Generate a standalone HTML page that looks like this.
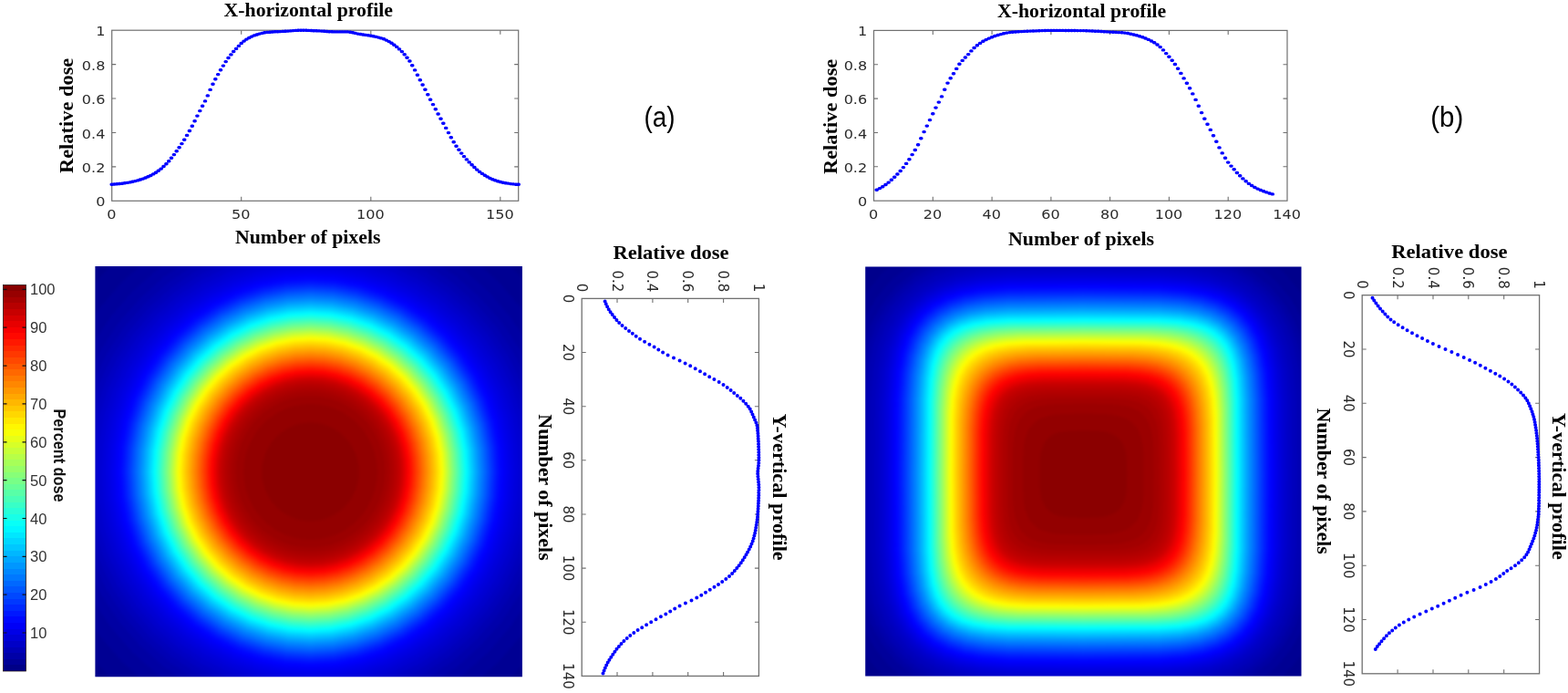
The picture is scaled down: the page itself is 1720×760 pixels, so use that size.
<!DOCTYPE html>
<html lang="en">
<head>
<meta charset="utf-8">
<title>Dose profiles</title>
<style>
html,body{margin:0;padding:0;background:#fff;overflow:hidden}
svg{display:block}
text{white-space:pre}
</style>
</head>
<body>
<svg width="1720" height="760" viewBox="0 0 1720 760">
<rect width="1720" height="760" fill="#fff"/>
<rect x="122.7" y="33.2" width="446" height="187.1" fill="#fff" stroke="#707070" stroke-width="1.2"/>
<path d="M264.7 220.3v-4.5 M264.7 33.2v4.5M406.8 220.3v-4.5 M406.8 33.2v4.5M548.8 220.3v-4.5 M548.8 33.2v4.5M122.7 182.9h4.5 M568.7 182.9h-4.5M122.7 145.5h4.5 M568.7 145.5h-4.5M122.7 108h4.5 M568.7 108h-4.5M122.7 70.6h4.5 M568.7 70.6h-4.5" stroke="#707070" stroke-width="1.1" fill="none"/>
<path d="M122.1 202.2h1.2M124.9 202h1.2M127.8 201.8h1.2M130.6 201.5h1.2M133.5 201.2h1.2M136.3 200.8h1.2M139.1 200.4h1.2M142 199.9h1.2M144.8 199.3h1.2M147.7 198.6h1.2M150.5 197.9h1.2M153.3 197h1.2M156.2 196.1h1.2M159 195h1.2M161.9 193.8h1.2M164.7 192.5h1.2M167.6 190.9h1.2M170.4 189.2h1.2M173.2 187.2h1.2M176.1 185.1h1.2M178.9 182.5h1.2M181.8 179.7h1.2M184.6 176.7h1.2M187.4 173.2h1.2M190.3 169.6h1.2M193.1 165.8h1.2M196 161.8h1.2M198.8 157.6h1.2M201.6 153.2h1.2M204.5 148.4h1.2M207.3 143.5h1.2M210.2 138.3h1.2M213 132.7h1.2M215.8 127.1h1.2M218.7 121.6h1.2M221.5 116.3h1.2M224.4 110.9h1.2M227.2 104.9h1.2M230 98.4h1.2M232.9 92.2h1.2M235.7 86.7h1.2M238.6 81.6h1.2M241.4 76.8h1.2M244.3 72.1h1.2M247.1 67.6h1.2M249.9 63.5h1.2M252.8 59.9h1.2M255.6 56.5h1.2M258.5 53.4h1.2M261.3 50.4h1.2M264.1 47.5h1.2M267 45.1h1.2M269.8 43.1h1.2M272.7 41.5h1.2M275.5 40.1h1.2M278.3 38.9h1.2M281.2 38h1.2M284 37.1h1.2M286.9 36.4h1.2M289.7 35.8h1.2M292.5 35.4h1.2M295.4 35.2h1.2M298.2 35h1.2M301.1 34.8h1.2M303.9 34.7h1.2M306.7 34.6h1.2M309.6 34.4h1.2M312.4 34.3h1.2M315.3 34.1h1.2M318.1 33.9h1.2M321 33.6h1.2M323.8 33.4h1.2M326.6 33.3h1.2M329.5 33.2h1.2M332.3 33.2h1.2M335.2 33.3h1.2M338 33.4h1.2M340.8 33.5h1.2M343.7 33.7h1.2M346.5 33.8h1.2M349.4 33.9h1.2M352.2 34.1h1.2M355 34.3h1.2M357.9 34.5h1.2M360.7 34.7h1.2M363.6 34.8h1.2M366.4 34.9h1.2M369.2 34.9h1.2M372.1 34.9h1.2M374.9 34.9h1.2M377.8 34.9h1.2M380.6 34.9h1.2M383.5 35.2h1.2M386.3 35.8h1.2M389.1 36.4h1.2M392 37.1h1.2M394.8 37.5h1.2M397.7 38h1.2M400.5 38.4h1.2M403.3 38.8h1.2M406.2 39.3h1.2M409 39.8h1.2M411.9 40.4h1.2M414.7 41.1h1.2M417.5 41.9h1.2M420.4 42.8h1.2M423.2 44.1h1.2M426.1 45.6h1.2M428.9 47.3h1.2M431.7 49.3h1.2M434.6 51.4h1.2M437.4 53.9h1.2M440.3 56.6h1.2M443.1 59.7h1.2M445.9 63.2h1.2M448.8 67h1.2M451.6 71.7h1.2M454.5 76.9h1.2M457.3 82.3h1.2M460.2 87.7h1.2M463 93h1.2M465.8 98.3h1.2M468.7 103.8h1.2M471.5 109.2h1.2M474.4 114.6h1.2M477.2 119.8h1.2M480 125h1.2M482.9 130.2h1.2M485.7 135.3h1.2M488.6 140.4h1.2M491.4 145.6h1.2M494.2 150.8h1.2M497.1 155.7h1.2M499.9 160.3h1.2M502.8 164.3h1.2M505.6 168.1h1.2M508.4 171.6h1.2M511.3 174.9h1.2M514.1 177.9h1.2M517 180.8h1.2M519.8 183.5h1.2M522.6 186.1h1.2M525.5 188.4h1.2M528.3 190.4h1.2M531.2 192.2h1.2M534 193.9h1.2M536.9 195.5h1.2M539.7 196.7h1.2M542.5 197.8h1.2M545.4 198.7h1.2M548.2 199.5h1.2M551.1 200.2h1.2M553.9 200.7h1.2M556.7 201.1h1.2M559.6 201.6h1.2M562.4 201.9h1.2M565.3 202.2h1.2M568.1 202.3h1.2" stroke="#0000ff" stroke-width="3.4" stroke-linecap="round" fill="none"/>
<g font-family="'DejaVu Sans','Liberation Sans',sans-serif" font-size="14.1" fill="#2a2a2a">
<text transform="translate(122.3 240) scale(1.14 1)" text-anchor="middle">0</text>
<text transform="translate(264.3 240) scale(1.14 1)" text-anchor="middle">50</text>
<text transform="translate(406.4 240) scale(1.14 1)" text-anchor="middle">100</text>
<text transform="translate(548.4 240) scale(1.14 1)" text-anchor="middle">150</text>
<text transform="translate(115.4 226.3) scale(1.14 1)" text-anchor="end">0</text>
<text transform="translate(115.4 188.9) scale(1.14 1)" text-anchor="end">0.2</text>
<text transform="translate(115.4 151.5) scale(1.14 1)" text-anchor="end">0.4</text>
<text transform="translate(115.4 114.1) scale(1.14 1)" text-anchor="end">0.6</text>
<text transform="translate(115.4 76.7) scale(1.14 1)" text-anchor="end">0.8</text>
<text transform="translate(115.4 39.2) scale(1.14 1)" text-anchor="end">1</text>
</g>
<rect x="958.5" y="33.4" width="453.5" height="186.8" fill="#fff" stroke="#707070" stroke-width="1.2"/>
<path d="M1023.3 220.2v-4.5 M1023.3 33.4v4.5M1088.1 220.2v-4.5 M1088.1 33.4v4.5M1152.9 220.2v-4.5 M1152.9 33.4v4.5M1217.6 220.2v-4.5 M1217.6 33.4v4.5M1282.4 220.2v-4.5 M1282.4 33.4v4.5M1347.2 220.2v-4.5 M1347.2 33.4v4.5M958.5 182.8h4.5 M1412 182.8h-4.5M958.5 145.5h4.5 M1412 145.5h-4.5M958.5 108.1h4.5 M1412 108.1h-4.5M958.5 70.8h4.5 M1412 70.8h-4.5" stroke="#707070" stroke-width="1.1" fill="none"/>
<path d="M961.1 208.2h1.2M964.4 206.6h1.2M967.6 204.7h1.2M970.9 202.5h1.2M974.1 200.1h1.2M977.3 197.3h1.2M980.6 194.2h1.2M983.8 191h1.2M987.1 187.5h1.2M990.3 183.6h1.2M993.5 179.4h1.2M996.8 174.7h1.2M1000 169.6h1.2M1003.2 164.5h1.2M1006.5 158.7h1.2M1009.7 151.7h1.2M1013 144.6h1.2M1016.2 138.1h1.2M1019.4 131.6h1.2M1022.7 124.8h1.2M1025.9 118.1h1.2M1029.2 112.1h1.2M1032.4 105.9h1.2M1035.6 98.3h1.2M1038.9 91.1h1.2M1042.1 85.7h1.2M1045.4 80.8h1.2M1048.6 75.4h1.2M1051.8 70.3h1.2M1055.1 66.4h1.2M1058.3 63h1.2M1061.6 59.6h1.2M1064.8 55.9h1.2M1068 52.5h1.2M1071.3 49.8h1.2M1074.5 47.4h1.2M1077.8 45.3h1.2M1081 43.6h1.2M1084.2 42.1h1.2M1087.5 40.7h1.2M1090.7 39.5h1.2M1094 38.5h1.2M1097.2 37.6h1.2M1100.4 36.7h1.2M1103.7 36.1h1.2M1106.9 35.6h1.2M1110.1 35.3h1.2M1113.4 35h1.2M1116.6 34.8h1.2M1119.9 34.6h1.2M1123.1 34.4h1.2M1126.3 34.3h1.2M1129.6 34.1h1.2M1132.8 34h1.2M1136.1 33.9h1.2M1139.3 33.7h1.2M1142.5 33.6h1.2M1145.8 33.5h1.2M1149 33.4h1.2M1152.3 33.4h1.2M1155.5 33.4h1.2M1158.7 33.4h1.2M1162 33.4h1.2M1165.2 33.4h1.2M1168.5 33.5h1.2M1171.7 33.5h1.2M1174.9 33.5h1.2M1178.2 33.5h1.2M1181.4 33.6h1.2M1184.7 33.6h1.2M1187.9 33.6h1.2M1191.1 33.7h1.2M1194.4 33.9h1.2M1197.6 34h1.2M1200.8 34.2h1.2M1204.1 34.3h1.2M1207.3 34.5h1.2M1210.6 34.7h1.2M1213.8 34.9h1.2M1217 35.1h1.2M1220.3 35.2h1.2M1223.5 35.4h1.2M1226.8 35.6h1.2M1230 35.8h1.2M1233.2 36.1h1.2M1236.5 36.5h1.2M1239.7 37.2h1.2M1243 38h1.2M1246.2 38.8h1.2M1249.4 39.8h1.2M1252.7 40.8h1.2M1255.9 42h1.2M1259.2 43.4h1.2M1262.4 45h1.2M1265.6 46.8h1.2M1268.9 49h1.2M1272.1 51.6h1.2M1275.4 54.9h1.2M1278.6 58.6h1.2M1281.8 62.3h1.2M1285.1 66.2h1.2M1288.3 70.5h1.2M1291.5 75.2h1.2M1294.8 80.4h1.2M1298 85.9h1.2M1301.3 91.3h1.2M1304.5 96.8h1.2M1307.7 102.9h1.2M1311 109.4h1.2M1314.2 116.3h1.2M1317.5 123.6h1.2M1320.7 130.2h1.2M1323.9 136.2h1.2M1327.2 142.4h1.2M1330.4 148.8h1.2M1333.7 155.3h1.2M1336.9 161.9h1.2M1340.1 167.9h1.2M1343.4 173.3h1.2M1346.6 178.1h1.2M1349.9 182.1h1.2M1353.1 185.8h1.2M1356.3 189.5h1.2M1359.6 192.8h1.2M1362.8 195.9h1.2M1366.1 198.8h1.2M1369.3 201.4h1.2M1372.5 203.5h1.2M1375.8 205.5h1.2M1379 207.1h1.2M1382.2 208.5h1.2M1385.5 209.7h1.2M1388.7 210.9h1.2M1392 212h1.2M1395.2 212.9h1.2" stroke="#0000ff" stroke-width="3.4" stroke-linecap="round" fill="none"/>
<g font-family="'DejaVu Sans','Liberation Sans',sans-serif" font-size="14.1" fill="#2a2a2a">
<text transform="translate(958.1 239.9) scale(1.14 1)" text-anchor="middle">0</text>
<text transform="translate(1022.9 239.9) scale(1.14 1)" text-anchor="middle">20</text>
<text transform="translate(1087.7 239.9) scale(1.14 1)" text-anchor="middle">40</text>
<text transform="translate(1152.5 239.9) scale(1.14 1)" text-anchor="middle">60</text>
<text transform="translate(1217.2 239.9) scale(1.14 1)" text-anchor="middle">80</text>
<text transform="translate(1282 239.9) scale(1.14 1)" text-anchor="middle">100</text>
<text transform="translate(1346.8 239.9) scale(1.14 1)" text-anchor="middle">120</text>
<text transform="translate(1411.6 239.9) scale(1.14 1)" text-anchor="middle">140</text>
<text transform="translate(951.2 226.2) scale(1.14 1)" text-anchor="end">0</text>
<text transform="translate(951.2 188.9) scale(1.14 1)" text-anchor="end">0.2</text>
<text transform="translate(951.2 151.5) scale(1.14 1)" text-anchor="end">0.4</text>
<text transform="translate(951.2 114.2) scale(1.14 1)" text-anchor="end">0.6</text>
<text transform="translate(951.2 76.8) scale(1.14 1)" text-anchor="end">0.8</text>
<text transform="translate(951.2 39.4) scale(1.14 1)" text-anchor="end">1</text>
</g>
<defs><clipPath id="ca"><rect x="104.4" y="292.1" width="468.5" height="450.1"/></clipPath></defs>
<defs><filter id="fca" filterUnits="userSpaceOnUse" x="74.4" y="262.1" width="528.5" height="510.1" color-interpolation-filters="sRGB"><feGaussianBlur stdDeviation="1.6"/></filter></defs>
<g clip-path="url(#ca)"><g filter="url(#fca)">
<rect x="74.4" y="262.1" width="528.5" height="510.1" fill="#00008c"/>
<path fill="#000093" d="M653.4 517.5l-2.7 41.4l-8 40.8l-13.2 39.3l-18.1 37.3l-22.7 34.5l-27 31.2l-30.7 27.4l-34.1 23.1l-36.7 18.4l-38.7 13.3l-40.2 8.1l-40.8 2.7l-40.8 -2.7l-40.2 -8.1l-38.7 -13.3l-36.7 -18.4l-34.1 -23.1l-30.7 -27.4l-27 -31.2l-22.7 -34.5l-18.1 -37.3l-13.2 -39.3l-8 -40.8l-2.7 -41.4l2.7 -41.4l8 -40.8l13.2 -39.3l18.1 -37.3l22.7 -34.5l27 -31.2l30.7 -27.4l34.1 -23.1l36.7 -18.4l38.7 -13.3l40.2 -8.1l40.8 -2.7l40.8 2.7l40.2 8.1l38.7 13.3l36.7 18.4l34.1 23.1l30.7 27.4l27 31.2l22.7 34.5l18.1 37.3l13.2 39.3l8 40.8z"/>
<path fill="#00009b" d="M631.6 517.5l-2.5 38.6l-7.4 37.9l-12.2 36.6l-16.9 34.6l-21.1 32.2l-25.1 29l-28.7 25.5l-31.6 21.5l-34.2 17.1l-36.1 12.4l-37.3 7.6l-38 2.5l-38 -2.5l-37.3 -7.6l-36.1 -12.4l-34.2 -17.1l-31.6 -21.5l-28.7 -25.5l-25.1 -29l-21.1 -32.2l-16.9 -34.6l-12.2 -36.6l-7.4 -37.9l-2.5 -38.6l2.5 -38.6l7.4 -37.9l12.2 -36.6l16.9 -34.6l21.1 -32.2l25.1 -29l28.7 -25.5l31.6 -21.5l34.2 -17.1l36.1 -12.4l37.3 -7.6l38 -2.5l38 2.5l37.3 7.6l36.1 12.4l34.2 17.1l31.6 21.5l28.7 25.5l25.1 29l21.1 32.2l16.9 34.6l12.2 36.6l7.4 37.9z"/>
<path fill="#0000a3" d="M616.3 517.5l-2.4 36.5l-7 35.9l-11.6 34.7l-16 32.9l-20 30.4l-23.8 27.5l-27.1 24.2l-30 20.3l-32.4 16.2l-34.1 11.8l-35.4 7.1l-36 2.4l-36 -2.4l-35.4 -7.1l-34.1 -11.8l-32.4 -16.2l-30 -20.3l-27.1 -24.2l-23.8 -27.5l-20 -30.4l-16 -32.9l-11.6 -34.7l-7 -35.9l-2.4 -36.5l2.4 -36.5l7 -35.9l11.6 -34.7l16 -32.9l20 -30.4l23.8 -27.5l27.1 -24.2l30 -20.3l32.4 -16.2l34.1 -11.8l35.4 -7.1l36 -2.4l36 2.4l35.4 7.1l34.1 11.8l32.4 16.2l30 20.3l27.1 24.2l23.8 27.5l20 30.4l16 32.9l11.6 34.7l7 35.9z"/>
<path fill="#0000ab" d="M605.4 517.5l-2.3 35.1l-6.8 34.5l-11.1 33.3l-15.3 31.5l-19.3 29.3l-22.8 26.4l-26.1 23.2l-28.8 19.5l-31 15.6l-32.8 11.3l-34 6.8l-34.6 2.3l-34.6 -2.3l-34 -6.8l-32.8 -11.3l-31 -15.6l-28.8 -19.5l-26.1 -23.2l-22.8 -26.4l-19.3 -29.3l-15.3 -31.5l-11.1 -33.3l-6.8 -34.5l-2.3 -35.1l2.3 -35.1l6.8 -34.5l11.1 -33.3l15.3 -31.5l19.3 -29.3l22.8 -26.4l26.1 -23.2l28.8 -19.5l31 -15.6l32.8 -11.3l34 -6.8l34.6 -2.3l34.6 2.3l34 6.8l32.8 11.3l31 15.6l28.8 19.5l26.1 23.2l22.8 26.4l19.3 29.3l15.3 31.5l11.1 33.3l6.8 34.5z"/>
<path fill="#0000b3" d="M597.6 517.5l-2.2 34.1l-6.6 33.4l-10.8 32.4l-14.8 30.6l-18.7 28.4l-22.2 25.6l-25.3 22.5l-27.9 19l-30.2 15.1l-31.9 11l-32.9 6.6l-33.6 2.3l-33.6 -2.3l-32.9 -6.6l-31.9 -11l-30.2 -15.1l-27.9 -19l-25.3 -22.5l-22.2 -25.6l-18.7 -28.4l-14.8 -30.6l-10.8 -32.4l-6.6 -33.4l-2.2 -34.1l2.2 -34.1l6.6 -33.4l10.8 -32.4l14.8 -30.6l18.7 -28.4l22.2 -25.6l25.3 -22.5l27.9 -19l30.2 -15.1l31.9 -11l32.9 -6.6l33.6 -2.3l33.6 2.3l32.9 6.6l31.9 11l30.2 15.1l27.9 19l25.3 22.5l22.2 25.6l18.7 28.4l14.8 30.6l10.8 32.4l6.6 33.4z"/>
<path fill="#0000bb" d="M591.1 517.5l-2.1 33.2l-6.4 32.6l-10.6 31.5l-14.5 29.9l-18.2 27.6l-21.6 25.1l-24.6 21.9l-27.3 18.5l-29.4 14.7l-31 10.7l-32.2 6.5l-32.7 2.2l-32.7 -2.2l-32.2 -6.5l-31 -10.7l-29.4 -14.7l-27.3 -18.5l-24.6 -21.9l-21.6 -25.1l-18.2 -27.6l-14.5 -29.9l-10.6 -31.5l-6.4 -32.6l-2.1 -33.2l2.1 -33.2l6.4 -32.6l10.6 -31.5l14.5 -29.9l18.2 -27.6l21.6 -25.1l24.6 -21.9l27.3 -18.5l29.4 -14.7l31 -10.7l32.2 -6.5l32.7 -2.2l32.7 2.2l32.2 6.5l31 10.7l29.4 14.7l27.3 18.5l24.6 21.9l21.6 25.1l18.2 27.6l14.5 29.9l10.6 31.5l6.4 32.6z"/>
<path fill="#0000c3" d="M585.2 517.5l-2.1 32.4l-6.2 31.9l-10.3 30.8l-14.2 29.1l-17.8 27l-21.1 24.4l-24 21.5l-26.6 18l-28.7 14.4l-30.4 10.4l-31.4 6.4l-31.9 2.1l-31.9 -2.1l-31.4 -6.4l-30.4 -10.4l-28.7 -14.4l-26.6 -18l-24 -21.5l-21.1 -24.4l-17.8 -27l-14.2 -29.1l-10.3 -30.8l-6.2 -31.9l-2.1 -32.4l2.1 -32.4l6.2 -31.9l10.3 -30.8l14.2 -29.1l17.8 -27l21.1 -24.4l24 -21.5l26.6 -18l28.7 -14.4l30.4 -10.4l31.4 -6.4l31.9 -2.1l31.9 2.1l31.4 6.4l30.4 10.4l28.7 14.4l26.6 18l24 21.5l21.1 24.4l17.8 27l14.2 29.1l10.3 30.8l6.2 31.9z"/>
<path fill="#0000cb" d="M579.7 517.5l-2 31.7l-6.1 31.1l-10.1 30.1l-13.8 28.5l-17.4 26.4l-20.7 23.9l-23.5 20.9l-26 17.7l-28.1 14l-29.6 10.2l-30.7 6.2l-31.2 2.1l-31.2 -2.1l-30.7 -6.2l-29.6 -10.2l-28.1 -14l-26 -17.7l-23.5 -20.9l-20.7 -23.9l-17.4 -26.4l-13.8 -28.5l-10.1 -30.1l-6.1 -31.1l-2 -31.7l2 -31.7l6.1 -31.1l10.1 -30.1l13.8 -28.5l17.4 -26.4l20.7 -23.9l23.5 -20.9l26 -17.7l28.1 -14l29.6 -10.2l30.7 -6.2l31.2 -2.1l31.2 2.1l30.7 6.2l29.6 10.2l28.1 14l26 17.7l23.5 20.9l20.7 23.9l17.4 26.4l13.8 28.5l10.1 30.1l6.1 31.1z"/>
<path fill="#0000d3" d="M574.4 517.5l-2 31l-6 30.4l-9.8 29.4l-13.6 27.9l-17 25.8l-20.1 23.4l-23 20.4l-25.5 17.3l-27.4 13.7l-29 10l-30 6.1l-30.5 2l-30.5 -2l-30 -6.1l-29 -10l-27.4 -13.7l-25.5 -17.3l-23 -20.4l-20.1 -23.4l-17 -25.8l-13.6 -27.9l-9.8 -29.4l-6 -30.4l-2 -31l2 -31l6 -30.4l9.8 -29.4l13.6 -27.9l17 -25.8l20.1 -23.4l23 -20.4l25.5 -17.3l27.4 -13.7l29 -10l30 -6.1l30.5 -2l30.5 2l30 6.1l29 10l27.4 13.7l25.5 17.3l23 20.4l20.1 23.4l17 25.8l13.6 27.9l9.8 29.4l6 30.4z"/>
<path fill="#0000db" d="M569.2 517.5l-2 30.3l-5.8 29.8l-9.6 28.7l-13.3 27.3l-16.6 25.2l-19.7 22.8l-22.5 20l-24.9 16.9l-26.8 13.4l-28.3 9.8l-29.4 5.9l-29.8 2l-29.8 -2l-29.4 -5.9l-28.3 -9.8l-26.8 -13.4l-24.9 -16.9l-22.5 -20l-19.7 -22.8l-16.6 -25.2l-13.3 -27.3l-9.6 -28.7l-5.8 -29.8l-2 -30.3l2 -30.3l5.8 -29.8l9.6 -28.7l13.3 -27.3l16.6 -25.2l19.7 -22.8l22.5 -20l24.9 -16.9l26.8 -13.4l28.3 -9.8l29.4 -5.9l29.8 -2l29.8 2l29.4 5.9l28.3 9.8l26.8 13.4l24.9 16.9l22.5 20l19.7 22.8l16.6 25.2l13.3 27.3l9.6 28.7l5.8 29.8z"/>
<path fill="#0000e3" d="M564.4 517.5l-1.9 29.7l-5.7 29.1l-9.4 28.2l-13 26.6l-16.3 24.7l-19.3 22.4l-22 19.6l-24.4 16.5l-26.2 13.2l-27.8 9.5l-28.7 5.8l-29.2 2l-29.2 -2l-28.7 -5.8l-27.8 -9.5l-26.2 -13.2l-24.4 -16.5l-22 -19.6l-19.3 -22.4l-16.3 -24.7l-13 -26.6l-9.4 -28.2l-5.7 -29.1l-1.9 -29.7l1.9 -29.7l5.7 -29.1l9.4 -28.2l13 -26.6l16.3 -24.7l19.3 -22.4l22 -19.6l24.4 -16.5l26.2 -13.2l27.8 -9.5l28.7 -5.8l29.2 -2l29.2 2l28.7 5.8l27.8 9.5l26.2 13.2l24.4 16.5l22 19.6l19.3 22.4l16.3 24.7l13 26.6l9.4 28.2l5.7 29.1z"/>
<path fill="#0000eb" d="M560.2 517.5l-1.9 29.1l-5.6 28.6l-9.2 27.6l-12.7 26.2l-16 24.3l-18.9 21.9l-21.7 19.2l-23.8 16.2l-25.8 12.9l-27.2 9.4l-28.2 5.7l-28.7 1.9l-28.7 -1.9l-28.2 -5.7l-27.2 -9.4l-25.8 -12.9l-23.8 -16.2l-21.7 -19.2l-18.9 -21.9l-16 -24.3l-12.7 -26.2l-9.2 -27.6l-5.6 -28.6l-1.9 -29.1l1.9 -29.1l5.6 -28.6l9.2 -27.6l12.7 -26.2l16 -24.3l18.9 -21.9l21.7 -19.2l23.8 -16.2l25.8 -12.9l27.2 -9.4l28.2 -5.7l28.7 -1.9l28.7 1.9l28.2 5.7l27.2 9.4l25.8 12.9l23.8 16.2l21.7 19.2l18.9 21.9l16 24.3l12.7 26.2l9.2 27.6l5.6 28.6z"/>
<path fill="#0000f3" d="M556.5 517.5l-1.8 28.6l-5.5 28.2l-9.1 27.1l-12.5 25.7l-15.7 23.9l-18.6 21.6l-21.3 18.9l-23.5 15.9l-25.3 12.7l-26.8 9.2l-27.7 5.6l-28.2 1.9l-28.2 -1.9l-27.7 -5.6l-26.8 -9.2l-25.3 -12.7l-23.5 -15.9l-21.3 -18.9l-18.6 -21.6l-15.7 -23.9l-12.5 -25.7l-9.1 -27.1l-5.5 -28.2l-1.8 -28.6l1.8 -28.6l5.5 -28.2l9.1 -27.1l12.5 -25.7l15.7 -23.9l18.6 -21.6l21.3 -18.9l23.5 -15.9l25.3 -12.7l26.8 -9.2l27.7 -5.6l28.2 -1.9l28.2 1.9l27.7 5.6l26.8 9.2l25.3 12.7l23.5 15.9l21.3 18.9l18.6 21.6l15.7 23.9l12.5 25.7l9.1 27.1l5.5 28.2z"/>
<path fill="#0000fb" d="M553.3 517.5l-1.8 28.2l-5.4 27.7l-9 26.8l-12.3 25.3l-15.4 23.5l-18.4 21.3l-20.9 18.6l-23.2 15.7l-24.9 12.5l-26.4 9.1l-27.3 5.5l-27.8 1.8l-27.8 -1.8l-27.3 -5.5l-26.4 -9.1l-24.9 -12.5l-23.2 -15.7l-20.9 -18.6l-18.4 -21.3l-15.4 -23.5l-12.3 -25.3l-9 -26.8l-5.4 -27.7l-1.8 -28.2l1.8 -28.2l5.4 -27.7l9 -26.8l12.3 -25.3l15.4 -23.5l18.4 -21.3l20.9 -18.6l23.2 -15.7l24.9 -12.5l26.4 -9.1l27.3 -5.5l27.8 -1.8l27.8 1.8l27.3 5.5l26.4 9.1l24.9 12.5l23.2 15.7l20.9 18.6l18.4 21.3l15.4 23.5l12.3 25.3l9 26.8l5.4 27.7z"/>
<path fill="#0004ff" d="M550.5 517.5l-1.8 27.8l-5.4 27.4l-8.8 26.4l-12.1 25l-15.3 23.2l-18.1 20.9l-20.7 18.4l-22.8 15.5l-24.6 12.3l-26 9l-27 5.4l-27.4 1.9l-27.4 -1.9l-27 -5.4l-26 -9l-24.6 -12.3l-22.8 -15.5l-20.7 -18.4l-18.1 -20.9l-15.3 -23.2l-12.1 -25l-8.8 -26.4l-5.4 -27.4l-1.8 -27.8l1.8 -27.8l5.4 -27.4l8.8 -26.4l12.1 -25l15.3 -23.2l18.1 -20.9l20.7 -18.4l22.8 -15.5l24.6 -12.3l26 -9l27 -5.4l27.4 -1.9l27.4 1.9l27 5.4l26 9l24.6 12.3l22.8 15.5l20.7 18.4l18.1 20.9l15.3 23.2l12.1 25l8.8 26.4l5.4 27.4z"/>
<path fill="#000cff" d="M548.2 517.5l-1.8 27.5l-5.3 27.1l-8.7 26.1l-12 24.7l-15.1 22.9l-17.9 20.8l-20.5 18.1l-22.6 15.4l-24.3 12.2l-25.7 8.8l-26.7 5.4l-27.1 1.8l-27.1 -1.8l-26.7 -5.4l-25.7 -8.8l-24.3 -12.2l-22.6 -15.4l-20.5 -18.1l-17.9 -20.8l-15.1 -22.9l-12 -24.7l-8.7 -26.1l-5.3 -27.1l-1.8 -27.5l1.8 -27.5l5.3 -27.1l8.7 -26.1l12 -24.7l15.1 -22.9l17.9 -20.8l20.5 -18.1l22.6 -15.4l24.3 -12.2l25.7 -8.8l26.7 -5.4l27.1 -1.8l27.1 1.8l26.7 5.4l25.7 8.8l24.3 12.2l22.6 15.4l20.5 18.1l17.9 20.8l15.1 22.9l12 24.7l8.7 26.1l5.3 27.1z"/>
<path fill="#0014ff" d="M546.3 517.5l-1.7 27.3l-5.3 26.8l-8.6 25.8l-11.9 24.6l-15 22.7l-17.8 20.5l-20.2 18l-22.4 15.2l-24.1 12.1l-25.5 8.8l-26.4 5.3l-26.9 1.8l-26.9 -1.8l-26.4 -5.3l-25.5 -8.8l-24.1 -12.1l-22.4 -15.2l-20.2 -18l-17.8 -20.5l-15 -22.7l-11.9 -24.6l-8.6 -25.8l-5.3 -26.8l-1.7 -27.3l1.7 -27.3l5.3 -26.8l8.6 -25.8l11.9 -24.6l15 -22.7l17.8 -20.5l20.2 -18l22.4 -15.2l24.1 -12.1l25.5 -8.8l26.4 -5.3l26.9 -1.8l26.9 1.8l26.4 5.3l25.5 8.8l24.1 12.1l22.4 15.2l20.2 18l17.8 20.5l15 22.7l11.9 24.6l8.6 25.8l5.3 26.8z"/>
<path fill="#001cff" d="M544.7 517.5l-1.8 27.1l-5.2 26.5l-8.6 25.7l-11.8 24.3l-14.8 22.6l-17.6 20.3l-20.1 17.9l-22.2 15.1l-24 12l-25.3 8.7l-26.1 5.3l-26.7 1.7l-26.7 -1.7l-26.1 -5.3l-25.3 -8.7l-24 -12l-22.2 -15.1l-20.1 -17.9l-17.6 -20.3l-14.8 -22.6l-11.8 -24.3l-8.6 -25.7l-5.2 -26.5l-1.8 -27.1l1.8 -27.1l5.2 -26.5l8.6 -25.7l11.8 -24.3l14.8 -22.6l17.6 -20.3l20.1 -17.9l22.2 -15.1l24 -12l25.3 -8.7l26.1 -5.3l26.7 -1.7l26.7 1.7l26.1 5.3l25.3 8.7l24 12l22.2 15.1l20.1 17.9l17.6 20.3l14.8 22.6l11.8 24.3l8.6 25.7l5.2 26.5z"/>
<path fill="#0024ff" d="M543.2 517.5l-1.7 26.9l-5.2 26.3l-8.5 25.5l-11.8 24.2l-14.7 22.3l-17.5 20.3l-19.9 17.7l-22.1 15l-23.7 11.9l-25.1 8.6l-26 5.3l-26.5 1.7l-26.5 -1.7l-26 -5.3l-25.1 -8.6l-23.7 -11.9l-22.1 -15l-19.9 -17.7l-17.5 -20.3l-14.7 -22.3l-11.8 -24.2l-8.5 -25.5l-5.2 -26.3l-1.7 -26.9l1.7 -26.9l5.2 -26.3l8.5 -25.5l11.8 -24.2l14.7 -22.3l17.5 -20.3l19.9 -17.7l22.1 -15l23.7 -11.9l25.1 -8.6l26 -5.3l26.5 -1.7l26.5 1.7l26 5.3l25.1 8.6l23.7 11.9l22.1 15l19.9 17.7l17.5 20.3l14.7 22.3l11.8 24.2l8.5 25.5l5.2 26.3z"/>
<path fill="#002cff" d="M541.8 517.5l-1.7 26.7l-5.2 26.2l-8.4 25.3l-11.7 23.9l-14.6 22.3l-17.4 20.1l-19.8 17.6l-21.9 14.8l-23.6 11.8l-24.9 8.6l-25.8 5.2l-26.3 1.8l-26.3 -1.8l-25.8 -5.2l-24.9 -8.6l-23.6 -11.8l-21.9 -14.8l-19.8 -17.6l-17.4 -20.1l-14.6 -22.3l-11.7 -23.9l-8.4 -25.3l-5.2 -26.2l-1.7 -26.7l1.7 -26.7l5.2 -26.2l8.4 -25.3l11.7 -23.9l14.6 -22.3l17.4 -20.1l19.8 -17.6l21.9 -14.8l23.6 -11.8l24.9 -8.6l25.8 -5.2l26.3 -1.8l26.3 1.8l25.8 5.2l24.9 8.6l23.6 11.8l21.9 14.8l19.8 17.6l17.4 20.1l14.6 22.3l11.7 23.9l8.4 25.3l5.2 26.2z"/>
<path fill="#0034ff" d="M540.4 517.5l-1.7 26.5l-5.1 26l-8.4 25.2l-11.5 23.8l-14.6 22l-17.2 20l-19.7 17.5l-21.7 14.7l-23.5 11.8l-24.8 8.5l-25.6 5.2l-26.1 1.7l-26.1 -1.7l-25.6 -5.2l-24.8 -8.5l-23.5 -11.8l-21.7 -14.7l-19.7 -17.5l-17.2 -20l-14.6 -22l-11.5 -23.8l-8.4 -25.2l-5.1 -26l-1.7 -26.5l1.7 -26.5l5.1 -26l8.4 -25.2l11.5 -23.8l14.6 -22l17.2 -20l19.7 -17.5l21.7 -14.7l23.5 -11.8l24.8 -8.5l25.6 -5.2l26.1 -1.7l26.1 1.7l25.6 5.2l24.8 8.5l23.5 11.8l21.7 14.7l19.7 17.5l17.2 20l14.6 22l11.5 23.8l8.4 25.2l5.1 26z"/>
<path fill="#003cff" d="M539.1 517.5l-1.7 26.3l-5 25.9l-8.4 25l-11.5 23.6l-14.4 21.9l-17.1 19.9l-19.6 17.4l-21.6 14.6l-23.3 11.7l-24.6 8.5l-25.5 5.1l-25.9 1.7l-25.9 -1.7l-25.5 -5.1l-24.6 -8.5l-23.3 -11.7l-21.6 -14.6l-19.6 -17.4l-17.1 -19.9l-14.4 -21.9l-11.5 -23.6l-8.4 -25l-5 -25.9l-1.7 -26.3l1.7 -26.3l5 -25.9l8.4 -25l11.5 -23.6l14.4 -21.9l17.1 -19.9l19.6 -17.4l21.6 -14.6l23.3 -11.7l24.6 -8.5l25.5 -5.1l25.9 -1.7l25.9 1.7l25.5 5.1l24.6 8.5l23.3 11.7l21.6 14.6l19.6 17.4l17.1 19.9l14.4 21.9l11.5 23.6l8.4 25l5 25.9z"/>
<path fill="#0044ff" d="M537.9 517.5l-1.7 26.2l-5 25.7l-8.3 24.8l-11.5 23.5l-14.3 21.8l-17 19.7l-19.4 17.3l-21.5 14.5l-23.2 11.6l-24.4 8.4l-25.3 5.1l-25.8 1.8l-25.8 -1.8l-25.3 -5.1l-24.4 -8.4l-23.2 -11.6l-21.5 -14.5l-19.4 -17.3l-17 -19.7l-14.3 -21.8l-11.5 -23.5l-8.3 -24.8l-5 -25.7l-1.7 -26.2l1.7 -26.2l5 -25.7l8.3 -24.8l11.5 -23.5l14.3 -21.8l17 -19.7l19.4 -17.3l21.5 -14.5l23.2 -11.6l24.4 -8.4l25.3 -5.1l25.8 -1.8l25.8 1.8l25.3 5.1l24.4 8.4l23.2 11.6l21.5 14.5l19.4 17.3l17 19.7l14.3 21.8l11.5 23.5l8.3 24.8l5 25.7z"/>
<path fill="#004cff" d="M536.7 517.5l-1.7 26l-5 25.5l-8.3 24.7l-11.3 23.4l-14.3 21.6l-16.9 19.6l-19.3 17.2l-21.3 14.4l-23 11.6l-24.3 8.3l-25.2 5.1l-25.6 1.7l-25.6 -1.7l-25.2 -5.1l-24.3 -8.3l-23 -11.6l-21.3 -14.4l-19.3 -17.2l-16.9 -19.6l-14.3 -21.6l-11.3 -23.4l-8.3 -24.7l-5 -25.5l-1.7 -26l1.7 -26l5 -25.5l8.3 -24.7l11.3 -23.4l14.3 -21.6l16.9 -19.6l19.3 -17.2l21.3 -14.4l23 -11.6l24.3 -8.3l25.2 -5.1l25.6 -1.7l25.6 1.7l25.2 5.1l24.3 8.3l23 11.6l21.3 14.4l19.3 17.2l16.9 19.6l14.3 21.6l11.3 23.4l8.3 24.7l5 25.5z"/>
<path fill="#0054ff" d="M535.5 517.5l-1.7 25.8l-5 25.4l-8.2 24.5l-11.3 23.2l-14.1 21.6l-16.8 19.4l-19.2 17.1l-21.2 14.4l-22.9 11.4l-24.1 8.3l-25.1 5.1l-25.4 1.7l-25.4 -1.7l-25.1 -5.1l-24.1 -8.3l-22.9 -11.4l-21.2 -14.4l-19.2 -17.1l-16.8 -19.4l-14.1 -21.6l-11.3 -23.2l-8.2 -24.5l-5 -25.4l-1.7 -25.8l1.7 -25.8l5 -25.4l8.2 -24.5l11.3 -23.2l14.1 -21.6l16.8 -19.4l19.2 -17.1l21.2 -14.4l22.9 -11.4l24.1 -8.3l25.1 -5.1l25.4 -1.7l25.4 1.7l25.1 5.1l24.1 8.3l22.9 11.4l21.2 14.4l19.2 17.1l16.8 19.4l14.1 21.6l11.3 23.2l8.2 24.5l5 25.4z"/>
<path fill="#005cff" d="M534.2 517.5l-1.6 25.7l-5 25.2l-8.1 24.4l-11.2 23l-14.1 21.4l-16.7 19.4l-19.1 16.9l-21 14.3l-22.8 11.4l-24 8.2l-24.8 5.1l-25.3 1.7l-25.3 -1.7l-24.8 -5.1l-24 -8.2l-22.8 -11.4l-21 -14.3l-19.1 -16.9l-16.7 -19.4l-14.1 -21.4l-11.2 -23l-8.1 -24.4l-5 -25.2l-1.6 -25.7l1.6 -25.7l5 -25.2l8.1 -24.4l11.2 -23l14.1 -21.4l16.7 -19.4l19.1 -16.9l21 -14.3l22.8 -11.4l24 -8.2l24.8 -5.1l25.3 -1.7l25.3 1.7l24.8 5.1l24 8.2l22.8 11.4l21 14.3l19.1 16.9l16.7 19.4l14.1 21.4l11.2 23l8.1 24.4l5 25.2z"/>
<path fill="#0064ff" d="M533 517.5l-1.6 25.5l-4.9 25.1l-8.1 24.2l-11.2 22.9l-13.9 21.3l-16.7 19.2l-18.9 16.8l-20.9 14.2l-22.6 11.4l-23.9 8.2l-24.7 5l-25.1 1.6l-25.1 -1.6l-24.7 -5l-23.9 -8.2l-22.6 -11.4l-20.9 -14.2l-18.9 -16.8l-16.7 -19.2l-13.9 -21.3l-11.2 -22.9l-8.1 -24.2l-4.9 -25.1l-1.6 -25.5l1.6 -25.5l4.9 -25.1l8.1 -24.2l11.2 -22.9l13.9 -21.3l16.7 -19.2l18.9 -16.8l20.9 -14.2l22.6 -11.4l23.9 -8.2l24.7 -5l25.1 -1.6l25.1 1.6l24.7 5l23.9 8.2l22.6 11.4l20.9 14.2l18.9 16.8l16.7 19.2l13.9 21.3l11.2 22.9l8.1 24.2l4.9 25.1z"/>
<path fill="#006cff" d="M531.8 517.5l-1.6 25.3l-4.9 25l-8 24l-11.1 22.8l-13.9 21.1l-16.5 19.1l-18.8 16.8l-20.8 14.1l-22.5 11.2l-23.7 8.2l-24.5 4.9l-25 1.7l-25 -1.7l-24.5 -4.9l-23.7 -8.2l-22.5 -11.2l-20.8 -14.1l-18.8 -16.8l-16.5 -19.1l-13.9 -21.1l-11.1 -22.8l-8 -24l-4.9 -25l-1.6 -25.3l1.6 -25.3l4.9 -25l8 -24l11.1 -22.8l13.9 -21.1l16.5 -19.1l18.8 -16.8l20.8 -14.1l22.5 -11.2l23.7 -8.2l24.5 -4.9l25 -1.7l25 1.7l24.5 4.9l23.7 8.2l22.5 11.2l20.8 14.1l18.8 16.8l16.5 19.1l13.9 21.1l11.1 22.8l8 24l4.9 25z"/>
<path fill="#0074ff" d="M530.6 517.5l-1.6 25.2l-4.9 24.7l-8 23.9l-11 22.7l-13.8 21l-16.4 18.9l-18.7 16.7l-20.7 14l-22.3 11.2l-23.5 8.1l-24.4 4.9l-24.8 1.7l-24.8 -1.7l-24.4 -4.9l-23.5 -8.1l-22.3 -11.2l-20.7 -14l-18.7 -16.7l-16.4 -18.9l-13.8 -21l-11 -22.7l-8 -23.9l-4.9 -24.7l-1.6 -25.2l1.6 -25.2l4.9 -24.7l8 -23.9l11 -22.7l13.8 -21l16.4 -18.9l18.7 -16.7l20.7 -14l22.3 -11.2l23.5 -8.1l24.4 -4.9l24.8 -1.7l24.8 1.7l24.4 4.9l23.5 8.1l22.3 11.2l20.7 14l18.7 16.7l16.4 18.9l13.8 21l11 22.7l8 23.9l4.9 24.7z"/>
<path fill="#007cff" d="M529.4 517.5l-1.6 25l-4.9 24.6l-7.9 23.8l-10.9 22.5l-13.8 20.8l-16.2 18.9l-18.6 16.5l-20.6 13.9l-22.1 11.1l-23.4 8.1l-24.2 4.9l-24.7 1.6l-24.7 -1.6l-24.2 -4.9l-23.4 -8.1l-22.1 -11.1l-20.6 -13.9l-18.6 -16.5l-16.2 -18.9l-13.8 -20.8l-10.9 -22.5l-7.9 -23.8l-4.9 -24.6l-1.6 -25l1.6 -25l4.9 -24.6l7.9 -23.8l10.9 -22.5l13.8 -20.8l16.2 -18.9l18.6 -16.5l20.6 -13.9l22.1 -11.1l23.4 -8.1l24.2 -4.9l24.7 -1.6l24.7 1.6l24.2 4.9l23.4 8.1l22.1 11.1l20.6 13.9l18.6 16.5l16.2 18.9l13.8 20.8l10.9 22.5l7.9 23.8l4.9 24.6z"/>
<path fill="#0083ff" d="M528.2 517.5l-1.6 24.9l-4.8 24.4l-7.9 23.6l-10.9 22.3l-13.6 20.8l-16.2 18.7l-18.4 16.4l-20.5 13.9l-22 11l-23.2 8l-24.1 4.9l-24.5 1.6l-24.5 -1.6l-24.1 -4.9l-23.2 -8l-22 -11l-20.5 -13.9l-18.4 -16.4l-16.2 -18.7l-13.6 -20.8l-10.9 -22.3l-7.9 -23.6l-4.8 -24.4l-1.6 -24.9l1.6 -24.9l4.8 -24.4l7.9 -23.6l10.9 -22.3l13.6 -20.8l16.2 -18.7l18.4 -16.4l20.5 -13.9l22 -11l23.2 -8l24.1 -4.9l24.5 -1.6l24.5 1.6l24.1 4.9l23.2 8l22 11l20.5 13.9l18.4 16.4l16.2 18.7l13.6 20.8l10.9 22.3l7.9 23.6l4.8 24.4z"/>
<path fill="#008bff" d="M527 517.5l-1.6 24.7l-4.7 24.3l-7.9 23.4l-10.8 22.3l-13.5 20.5l-16.1 18.7l-18.4 16.3l-20.2 13.8l-21.9 10.9l-23.1 8l-24 4.8l-24.3 1.6l-24.3 -1.6l-24 -4.8l-23.1 -8l-21.9 -10.9l-20.2 -13.8l-18.4 -16.3l-16.1 -18.7l-13.5 -20.5l-10.8 -22.3l-7.9 -23.4l-4.7 -24.3l-1.6 -24.7l1.6 -24.7l4.7 -24.3l7.9 -23.4l10.8 -22.3l13.5 -20.5l16.1 -18.7l18.4 -16.3l20.2 -13.8l21.9 -10.9l23.1 -8l24 -4.8l24.3 -1.6l24.3 1.6l24 4.8l23.1 8l21.9 10.9l20.2 13.8l18.4 16.3l16.1 18.7l13.5 20.5l10.8 22.3l7.9 23.4l4.7 24.3z"/>
<path fill="#0093ff" d="M525.9 517.5l-1.6 24.6l-4.7 24.1l-7.8 23.3l-10.8 22.1l-13.4 20.4l-16 18.5l-18.3 16.3l-20.1 13.6l-21.8 10.9l-22.9 7.9l-23.8 4.8l-24.2 1.7l-24.2 -1.7l-23.8 -4.8l-22.9 -7.9l-21.8 -10.9l-20.1 -13.6l-18.3 -16.3l-16 -18.5l-13.4 -20.4l-10.8 -22.1l-7.8 -23.3l-4.7 -24.1l-1.6 -24.6l1.6 -24.6l4.7 -24.1l7.8 -23.3l10.8 -22.1l13.4 -20.4l16 -18.5l18.3 -16.3l20.1 -13.6l21.8 -10.9l22.9 -7.9l23.8 -4.8l24.2 -1.7l24.2 1.7l23.8 4.8l22.9 7.9l21.8 10.9l20.1 13.6l18.3 16.3l16 18.5l13.4 20.4l10.8 22.1l7.8 23.3l4.7 24.1z"/>
<path fill="#009bff" d="M524.8 517.5l-1.6 24.4l-4.7 24l-7.8 23.2l-10.6 21.9l-13.4 20.4l-15.9 18.3l-18.1 16.2l-20.1 13.6l-21.6 10.8l-22.8 7.8l-23.6 4.8l-24.1 1.6l-24.1 -1.6l-23.6 -4.8l-22.8 -7.8l-21.6 -10.8l-20.1 -13.6l-18.1 -16.2l-15.9 -18.3l-13.4 -20.4l-10.6 -21.9l-7.8 -23.2l-4.7 -24l-1.6 -24.4l1.6 -24.4l4.7 -24l7.8 -23.2l10.6 -21.9l13.4 -20.4l15.9 -18.3l18.1 -16.2l20.1 -13.6l21.6 -10.8l22.8 -7.8l23.6 -4.8l24.1 -1.6l24.1 1.6l23.6 4.8l22.8 7.8l21.6 10.8l20.1 13.6l18.1 16.2l15.9 18.3l13.4 20.4l10.6 21.9l7.8 23.2l4.7 24z"/>
<path fill="#00a3ff" d="M523.7 517.5l-1.6 24.3l-4.7 23.8l-7.7 23l-10.6 21.9l-13.3 20.2l-15.8 18.3l-18 16l-19.9 13.5l-21.5 10.8l-22.7 7.8l-23.5 4.7l-23.9 1.6l-23.9 -1.6l-23.5 -4.7l-22.7 -7.8l-21.5 -10.8l-19.9 -13.5l-18 -16l-15.8 -18.3l-13.3 -20.2l-10.6 -21.9l-7.7 -23l-4.7 -23.8l-1.6 -24.3l1.6 -24.3l4.7 -23.8l7.7 -23l10.6 -21.9l13.3 -20.2l15.8 -18.3l18 -16l19.9 -13.5l21.5 -10.8l22.7 -7.8l23.5 -4.7l23.9 -1.6l23.9 1.6l23.5 4.7l22.7 7.8l21.5 10.8l19.9 13.5l18 16l15.8 18.3l13.3 20.2l10.6 21.9l7.7 23l4.7 23.8z"/>
<path fill="#00abff" d="M522.6 517.5l-1.6 24.1l-4.6 23.7l-7.7 22.9l-10.5 21.7l-13.2 20.1l-15.7 18.2l-18 15.9l-19.8 13.5l-21.3 10.6l-22.6 7.8l-23.3 4.7l-23.8 1.6l-23.8 -1.6l-23.3 -4.7l-22.6 -7.8l-21.3 -10.6l-19.8 -13.5l-18 -15.9l-15.7 -18.2l-13.2 -20.1l-10.5 -21.7l-7.7 -22.9l-4.6 -23.7l-1.6 -24.1l1.6 -24.1l4.6 -23.7l7.7 -22.9l10.5 -21.7l13.2 -20.1l15.7 -18.2l18 -15.9l19.8 -13.5l21.3 -10.6l22.6 -7.8l23.3 -4.7l23.8 -1.6l23.8 1.6l23.3 4.7l22.6 7.8l21.3 10.6l19.8 13.5l18 15.9l15.7 18.2l13.2 20.1l10.5 21.7l7.7 22.9l4.6 23.7z"/>
<path fill="#00b3ff" d="M521.5 517.5l-1.5 24l-4.7 23.6l-7.6 22.7l-10.4 21.6l-13.2 19.9l-15.6 18.1l-17.8 15.9l-19.7 13.3l-21.2 10.6l-22.4 7.8l-23.3 4.7l-23.6 1.5l-23.6 -1.5l-23.3 -4.7l-22.4 -7.8l-21.2 -10.6l-19.7 -13.3l-17.8 -15.9l-15.6 -18.1l-13.2 -19.9l-10.4 -21.6l-7.6 -22.7l-4.7 -23.6l-1.5 -24l1.5 -24l4.7 -23.6l7.6 -22.7l10.4 -21.6l13.2 -19.9l15.6 -18.1l17.8 -15.9l19.7 -13.3l21.2 -10.6l22.4 -7.8l23.3 -4.7l23.6 -1.5l23.6 1.5l23.3 4.7l22.4 7.8l21.2 10.6l19.7 13.3l17.8 15.9l15.6 18.1l13.2 19.9l10.4 21.6l7.6 22.7l4.7 23.6z"/>
<path fill="#00bbff" d="M520.5 517.5l-1.6 23.8l-4.6 23.5l-7.5 22.6l-10.4 21.4l-13.1 19.9l-15.5 18l-17.7 15.7l-19.6 13.3l-21.1 10.6l-22.3 7.6l-23.1 4.7l-23.5 1.6l-23.5 -1.6l-23.1 -4.7l-22.3 -7.6l-21.1 -10.6l-19.6 -13.3l-17.7 -15.7l-15.5 -18l-13.1 -19.9l-10.4 -21.4l-7.5 -22.6l-4.6 -23.5l-1.6 -23.8l1.6 -23.8l4.6 -23.5l7.5 -22.6l10.4 -21.4l13.1 -19.9l15.5 -18l17.7 -15.7l19.6 -13.3l21.1 -10.6l22.3 -7.6l23.1 -4.7l23.5 -1.6l23.5 1.6l23.1 4.7l22.3 7.6l21.1 10.6l19.6 13.3l17.7 15.7l15.5 18l13.1 19.9l10.4 21.4l7.5 22.6l4.6 23.5z"/>
<path fill="#00c3ff" d="M519.4 517.5l-1.5 23.7l-4.6 23.3l-7.5 22.5l-10.3 21.3l-13 19.8l-15.5 17.8l-17.6 15.7l-19.4 13.2l-21 10.5l-22.2 7.6l-22.9 4.7l-23.4 1.5l-23.4 -1.5l-22.9 -4.7l-22.2 -7.6l-21 -10.5l-19.4 -13.2l-17.6 -15.7l-15.5 -17.8l-13 -19.8l-10.3 -21.3l-7.5 -22.5l-4.6 -23.3l-1.5 -23.7l1.5 -23.7l4.6 -23.3l7.5 -22.5l10.3 -21.3l13 -19.8l15.5 -17.8l17.6 -15.7l19.4 -13.2l21 -10.5l22.2 -7.6l22.9 -4.7l23.4 -1.5l23.4 1.5l22.9 4.7l22.2 7.6l21 10.5l19.4 13.2l17.6 15.7l15.5 17.8l13 19.8l10.3 21.3l7.5 22.5l4.6 23.3z"/>
<path fill="#00cbff" d="M518.4 517.5l-1.5 23.6l-4.6 23.1l-7.4 22.4l-10.3 21.2l-13 19.6l-15.3 17.8l-17.5 15.6l-19.3 13.1l-20.9 10.4l-22.1 7.6l-22.8 4.6l-23.2 1.6l-23.2 -1.6l-22.8 -4.6l-22.1 -7.6l-20.9 -10.4l-19.3 -13.1l-17.5 -15.6l-15.3 -17.8l-13 -19.6l-10.3 -21.2l-7.4 -22.4l-4.6 -23.1l-1.5 -23.6l1.5 -23.6l4.6 -23.1l7.4 -22.4l10.3 -21.2l13 -19.6l15.3 -17.8l17.5 -15.6l19.3 -13.1l20.9 -10.4l22.1 -7.6l22.8 -4.6l23.2 -1.6l23.2 1.6l22.8 4.6l22.1 7.6l20.9 10.4l19.3 13.1l17.5 15.6l15.3 17.8l13 19.6l10.3 21.2l7.4 22.4l4.6 23.1z"/>
<path fill="#00d3ff" d="M517.4 517.5l-1.5 23.4l-4.5 23.1l-7.5 22.2l-10.2 21.1l-12.9 19.5l-15.2 17.7l-17.4 15.4l-19.3 13.1l-20.7 10.4l-21.9 7.5l-22.7 4.6l-23.1 1.5l-23.1 -1.5l-22.7 -4.6l-21.9 -7.5l-20.7 -10.4l-19.3 -13.1l-17.4 -15.4l-15.2 -17.7l-12.9 -19.5l-10.2 -21.1l-7.5 -22.2l-4.5 -23.1l-1.5 -23.4l1.5 -23.4l4.5 -23.1l7.5 -22.2l10.2 -21.1l12.9 -19.5l15.2 -17.7l17.4 -15.4l19.3 -13.1l20.7 -10.4l21.9 -7.5l22.7 -4.6l23.1 -1.5l23.1 1.5l22.7 4.6l21.9 7.5l20.7 10.4l19.3 13.1l17.4 15.4l15.2 17.7l12.9 19.5l10.2 21.1l7.5 22.2l4.5 23.1z"/>
<path fill="#00dbff" d="M516.4 517.5l-1.5 23.3l-4.5 22.9l-7.4 22.1l-10.2 21l-12.8 19.4l-15.1 17.5l-17.3 15.4l-19.2 13l-20.6 10.3l-21.8 7.5l-22.5 4.6l-23 1.5l-23 -1.5l-22.5 -4.6l-21.8 -7.5l-20.6 -10.3l-19.2 -13l-17.3 -15.4l-15.1 -17.5l-12.8 -19.4l-10.2 -21l-7.4 -22.1l-4.5 -22.9l-1.5 -23.3l1.5 -23.3l4.5 -22.9l7.4 -22.1l10.2 -21l12.8 -19.4l15.1 -17.5l17.3 -15.4l19.2 -13l20.6 -10.3l21.8 -7.5l22.5 -4.6l23 -1.5l23 1.5l22.5 4.6l21.8 7.5l20.6 10.3l19.2 13l17.3 15.4l15.1 17.5l12.8 19.4l10.2 21l7.4 22.1l4.5 22.9z"/>
<path fill="#00e3ff" d="M515.4 517.5l-1.5 23.2l-4.5 22.7l-7.3 22l-10.1 20.9l-12.7 19.3l-15.1 17.4l-17.2 15.3l-19 12.9l-20.6 10.3l-21.6 7.5l-22.5 4.5l-22.8 1.5l-22.8 -1.5l-22.5 -4.5l-21.6 -7.5l-20.6 -10.3l-19 -12.9l-17.2 -15.3l-15.1 -17.4l-12.7 -19.3l-10.1 -20.9l-7.3 -22l-4.5 -22.7l-1.5 -23.2l1.5 -23.2l4.5 -22.7l7.3 -22l10.1 -20.9l12.7 -19.3l15.1 -17.4l17.2 -15.3l19 -12.9l20.6 -10.3l21.6 -7.5l22.5 -4.5l22.8 -1.5l22.8 1.5l22.5 4.5l21.6 7.5l20.6 10.3l19 12.9l17.2 15.3l15.1 17.4l12.7 19.3l10.1 20.9l7.3 22l4.5 22.7z"/>
<path fill="#00ebff" d="M514.4 517.5l-1.5 23l-4.4 22.7l-7.3 21.9l-10.1 20.7l-12.6 19.2l-15 17.3l-17.1 15.2l-18.9 12.9l-20.4 10.2l-21.6 7.4l-22.3 4.5l-22.7 1.5l-22.7 -1.5l-22.3 -4.5l-21.6 -7.4l-20.4 -10.2l-18.9 -12.9l-17.1 -15.2l-15 -17.3l-12.6 -19.2l-10.1 -20.7l-7.3 -21.9l-4.4 -22.7l-1.5 -23l1.5 -23l4.4 -22.7l7.3 -21.9l10.1 -20.7l12.6 -19.2l15 -17.3l17.1 -15.2l18.9 -12.9l20.4 -10.2l21.6 -7.4l22.3 -4.5l22.7 -1.5l22.7 1.5l22.3 4.5l21.6 7.4l20.4 10.2l18.9 12.9l17.1 15.2l15 17.3l12.6 19.2l10.1 20.7l7.3 21.9l4.4 22.7z"/>
<path fill="#00f3ff" d="M513.4 517.5l-1.4 22.9l-4.5 22.5l-7.2 21.8l-10 20.6l-12.6 19.1l-14.9 17.2l-17 15.2l-18.8 12.7l-20.3 10.2l-21.4 7.4l-22.2 4.4l-22.6 1.5l-22.6 -1.5l-22.2 -4.4l-21.4 -7.4l-20.3 -10.2l-18.8 -12.7l-17 -15.2l-14.9 -17.2l-12.6 -19.1l-10 -20.6l-7.2 -21.8l-4.5 -22.5l-1.4 -22.9l1.4 -22.9l4.5 -22.5l7.2 -21.8l10 -20.6l12.6 -19.1l14.9 -17.2l17 -15.2l18.8 -12.7l20.3 -10.2l21.4 -7.4l22.2 -4.4l22.6 -1.5l22.6 1.5l22.2 4.4l21.4 7.4l20.3 10.2l18.8 12.7l17 15.2l14.9 17.2l12.6 19.1l10 20.6l7.2 21.8l4.5 22.5z"/>
<path fill="#00fbff" d="M512.5 517.5l-1.5 22.8l-4.4 22.4l-7.2 21.6l-10 20.5l-12.5 19l-14.8 17.1l-16.9 15.1l-18.7 12.7l-20.2 10.1l-21.3 7.3l-22.1 4.5l-22.4 1.4l-22.4 -1.4l-22.1 -4.5l-21.3 -7.3l-20.2 -10.1l-18.7 -12.7l-16.9 -15.1l-14.8 -17.1l-12.5 -19l-10 -20.5l-7.2 -21.6l-4.4 -22.4l-1.5 -22.8l1.5 -22.8l4.4 -22.4l7.2 -21.6l10 -20.5l12.5 -19l14.8 -17.1l16.9 -15.1l18.7 -12.7l20.2 -10.1l21.3 -7.3l22.1 -4.5l22.4 -1.4l22.4 1.4l22.1 4.5l21.3 7.3l20.2 10.1l18.7 12.7l16.9 15.1l14.8 17.1l12.5 19l10 20.5l7.2 21.6l4.4 22.4z"/>
<path fill="#04fffb" d="M511.5 517.5l-1.5 22.7l-4.3 22.2l-7.2 21.5l-9.9 20.4l-12.4 18.9l-14.8 17l-16.8 15l-18.6 12.6l-20.1 10.1l-21.1 7.3l-22 4.4l-22.3 1.5l-22.3 -1.5l-22 -4.4l-21.1 -7.3l-20.1 -10.1l-18.6 -12.6l-16.8 -15l-14.8 -17l-12.4 -18.9l-9.9 -20.4l-7.2 -21.5l-4.3 -22.2l-1.5 -22.7l1.5 -22.7l4.3 -22.2l7.2 -21.5l9.9 -20.4l12.4 -18.9l14.8 -17l16.8 -15l18.6 -12.6l20.1 -10.1l21.1 -7.3l22 -4.4l22.3 -1.5l22.3 1.5l22 4.4l21.1 7.3l20.1 10.1l18.6 12.6l16.8 15l14.8 17l12.4 18.9l9.9 20.4l7.2 21.5l4.3 22.2z"/>
<path fill="#0cfff3" d="M510.5 517.5l-1.4 22.5l-4.3 22.2l-7.2 21.4l-9.8 20.2l-12.4 18.8l-14.7 16.9l-16.7 14.9l-18.5 12.6l-19.9 10l-21.1 7.2l-21.8 4.4l-22.2 1.5l-22.2 -1.5l-21.8 -4.4l-21.1 -7.2l-19.9 -10l-18.5 -12.6l-16.7 -14.9l-14.7 -16.9l-12.4 -18.8l-9.8 -20.2l-7.2 -21.4l-4.3 -22.2l-1.4 -22.5l1.4 -22.5l4.3 -22.2l7.2 -21.4l9.8 -20.2l12.4 -18.8l14.7 -16.9l16.7 -14.9l18.5 -12.6l19.9 -10l21.1 -7.2l21.8 -4.4l22.2 -1.5l22.2 1.5l21.8 4.4l21.1 7.2l19.9 10l18.5 12.6l16.7 14.9l14.7 16.9l12.4 18.8l9.8 20.2l7.2 21.4l4.3 22.2z"/>
<path fill="#14ffeb" d="M509.6 517.5l-1.4 22.4l-4.3 22l-7.2 21.3l-9.7 20.1l-12.3 18.7l-14.6 16.9l-16.7 14.8l-18.3 12.5l-19.9 9.9l-20.9 7.2l-21.7 4.4l-22.1 1.4l-22.1 -1.4l-21.7 -4.4l-20.9 -7.2l-19.9 -9.9l-18.3 -12.5l-16.7 -14.8l-14.6 -16.9l-12.3 -18.7l-9.7 -20.1l-7.2 -21.3l-4.3 -22l-1.4 -22.4l1.4 -22.4l4.3 -22l7.2 -21.3l9.7 -20.1l12.3 -18.7l14.6 -16.9l16.7 -14.8l18.3 -12.5l19.9 -9.9l20.9 -7.2l21.7 -4.4l22.1 -1.4l22.1 1.4l21.7 4.4l20.9 7.2l19.9 9.9l18.3 12.5l16.7 14.8l14.6 16.9l12.3 18.7l9.7 20.1l7.2 21.3l4.3 22z"/>
<path fill="#1cffe3" d="M508.7 517.5l-1.4 22.3l-4.3 21.9l-7.1 21.1l-9.7 20.1l-12.3 18.5l-14.5 16.8l-16.5 14.7l-18.3 12.4l-19.7 9.9l-20.9 7.2l-21.5 4.4l-22 1.4l-22 -1.4l-21.5 -4.4l-20.9 -7.2l-19.7 -9.9l-18.3 -12.4l-16.5 -14.7l-14.5 -16.8l-12.3 -18.5l-9.7 -20.1l-7.1 -21.1l-4.3 -21.9l-1.4 -22.3l1.4 -22.3l4.3 -21.9l7.1 -21.1l9.7 -20.1l12.3 -18.5l14.5 -16.8l16.5 -14.7l18.3 -12.4l19.7 -9.9l20.9 -7.2l21.5 -4.4l22 -1.4l22 1.4l21.5 4.4l20.9 7.2l19.7 9.9l18.3 12.4l16.5 14.7l14.5 16.8l12.3 18.5l9.7 20.1l7.1 21.1l4.3 21.9z"/>
<path fill="#24ffdb" d="M507.8 517.5l-1.4 22.2l-4.3 21.7l-7 21.1l-9.7 19.9l-12.2 18.5l-14.4 16.7l-16.5 14.6l-18.2 12.4l-19.6 9.8l-20.7 7.1l-21.5 4.3l-21.8 1.5l-21.8 -1.5l-21.5 -4.3l-20.7 -7.1l-19.6 -9.8l-18.2 -12.4l-16.5 -14.6l-14.4 -16.7l-12.2 -18.5l-9.7 -19.9l-7 -21.1l-4.3 -21.7l-1.4 -22.2l1.4 -22.2l4.3 -21.7l7 -21.1l9.7 -19.9l12.2 -18.5l14.4 -16.7l16.5 -14.6l18.2 -12.4l19.6 -9.8l20.7 -7.1l21.5 -4.3l21.8 -1.5l21.8 1.5l21.5 4.3l20.7 7.1l19.6 9.8l18.2 12.4l16.5 14.6l14.4 16.7l12.2 18.5l9.7 19.9l7 21.1l4.3 21.7z"/>
<path fill="#2cffd3" d="M506.9 517.5l-1.4 22l-4.3 21.7l-7 20.9l-9.6 19.8l-12.1 18.4l-14.3 16.6l-16.4 14.6l-18.1 12.3l-19.5 9.7l-20.6 7.1l-21.4 4.3l-21.7 1.5l-21.7 -1.5l-21.4 -4.3l-20.6 -7.1l-19.5 -9.7l-18.1 -12.3l-16.4 -14.6l-14.3 -16.6l-12.1 -18.4l-9.6 -19.8l-7 -20.9l-4.3 -21.7l-1.4 -22l1.4 -22l4.3 -21.7l7 -20.9l9.6 -19.8l12.1 -18.4l14.3 -16.6l16.4 -14.6l18.1 -12.3l19.5 -9.7l20.6 -7.1l21.4 -4.3l21.7 -1.5l21.7 1.5l21.4 4.3l20.6 7.1l19.5 9.7l18.1 12.3l16.4 14.6l14.3 16.6l12.1 18.4l9.6 19.8l7 20.9l4.3 21.7z"/>
<path fill="#34ffcb" d="M506 517.5l-1.4 21.9l-4.2 21.6l-7 20.8l-9.6 19.7l-12 18.3l-14.3 16.5l-16.2 14.5l-18 12.2l-19.5 9.7l-20.5 7.1l-21.2 4.3l-21.6 1.4l-21.6 -1.4l-21.2 -4.3l-20.5 -7.1l-19.5 -9.7l-18 -12.2l-16.2 -14.5l-14.3 -16.5l-12 -18.3l-9.6 -19.7l-7 -20.8l-4.2 -21.6l-1.4 -21.9l1.4 -21.9l4.2 -21.6l7 -20.8l9.6 -19.7l12 -18.3l14.3 -16.5l16.2 -14.5l18 -12.2l19.5 -9.7l20.5 -7.1l21.2 -4.3l21.6 -1.4l21.6 1.4l21.2 4.3l20.5 7.1l19.5 9.7l18 12.2l16.2 14.5l14.3 16.5l12 18.3l9.6 19.7l7 20.8l4.2 21.6z"/>
<path fill="#3cffc3" d="M505.1 517.5l-1.4 21.8l-4.2 21.5l-6.9 20.7l-9.5 19.6l-12 18.1l-14.2 16.5l-16.2 14.4l-17.9 12.1l-19.3 9.7l-20.4 7l-21.1 4.3l-21.5 1.4l-21.5 -1.4l-21.1 -4.3l-20.4 -7l-19.3 -9.7l-17.9 -12.1l-16.2 -14.4l-14.2 -16.5l-12 -18.1l-9.5 -19.6l-6.9 -20.7l-4.2 -21.5l-1.4 -21.8l1.4 -21.8l4.2 -21.5l6.9 -20.7l9.5 -19.6l12 -18.1l14.2 -16.5l16.2 -14.4l17.9 -12.1l19.3 -9.7l20.4 -7l21.1 -4.3l21.5 -1.4l21.5 1.4l21.1 4.3l20.4 7l19.3 9.7l17.9 12.1l16.2 14.4l14.2 16.5l12 18.1l9.5 19.6l6.9 20.7l4.2 21.5z"/>
<path fill="#44ffbb" d="M504.3 517.5l-1.4 21.7l-4.2 21.3l-6.9 20.6l-9.5 19.5l-11.9 18.1l-14.1 16.3l-16.1 14.4l-17.8 12.1l-19.2 9.6l-20.3 7l-21 4.2l-21.4 1.4l-21.4 -1.4l-21 -4.2l-20.3 -7l-19.2 -9.6l-17.8 -12.1l-16.1 -14.4l-14.1 -16.3l-11.9 -18.1l-9.5 -19.5l-6.9 -20.6l-4.2 -21.3l-1.4 -21.7l1.4 -21.7l4.2 -21.3l6.9 -20.6l9.5 -19.5l11.9 -18.1l14.1 -16.3l16.1 -14.4l17.8 -12.1l19.2 -9.6l20.3 -7l21 -4.2l21.4 -1.4l21.4 1.4l21 4.2l20.3 7l19.2 9.6l17.8 12.1l16.1 14.4l14.1 16.3l11.9 18.1l9.5 19.5l6.9 20.6l4.2 21.3z"/>
<path fill="#4cffb3" d="M503.4 517.5l-1.4 21.6l-4.1 21.2l-6.9 20.5l-9.4 19.4l-11.8 18l-14.1 16.2l-16 14.3l-17.7 12l-19.2 9.6l-20.1 6.9l-20.9 4.2l-21.3 1.5l-21.3 -1.5l-20.9 -4.2l-20.1 -6.9l-19.2 -9.6l-17.7 -12l-16 -14.3l-14.1 -16.2l-11.8 -18l-9.4 -19.4l-6.9 -20.5l-4.1 -21.2l-1.4 -21.6l1.4 -21.6l4.1 -21.2l6.9 -20.5l9.4 -19.4l11.8 -18l14.1 -16.2l16 -14.3l17.7 -12l19.2 -9.6l20.1 -6.9l20.9 -4.2l21.3 -1.5l21.3 1.5l20.9 4.2l20.1 6.9l19.2 9.6l17.7 12l16 14.3l14.1 16.2l11.8 18l9.4 19.4l6.9 20.5l4.1 21.2z"/>
<path fill="#54ffab" d="M502.6 517.5l-1.4 21.5l-4.2 21.1l-6.8 20.4l-9.3 19.2l-11.8 17.9l-14 16.2l-15.9 14.2l-17.7 12l-19 9.5l-20.1 6.9l-20.7 4.2l-21.2 1.4l-21.2 -1.4l-20.7 -4.2l-20.1 -6.9l-19 -9.5l-17.7 -12l-15.9 -14.2l-14 -16.2l-11.8 -17.9l-9.3 -19.2l-6.8 -20.4l-4.2 -21.1l-1.4 -21.5l1.4 -21.5l4.2 -21.1l6.8 -20.4l9.3 -19.2l11.8 -17.9l14 -16.2l15.9 -14.2l17.7 -12l19 -9.5l20.1 -6.9l20.7 -4.2l21.2 -1.4l21.2 1.4l20.7 4.2l20.1 6.9l19 9.5l17.7 12l15.9 14.2l14 16.2l11.8 17.9l9.3 19.2l6.8 20.4l4.2 21.1z"/>
<path fill="#5cffa3" d="M501.7 517.5l-1.4 21.4l-4.1 21l-6.8 20.2l-9.3 19.2l-11.7 17.8l-13.9 16.1l-15.9 14.1l-17.5 11.9l-18.9 9.5l-20 6.9l-20.7 4.1l-21 1.4l-21 -1.4l-20.7 -4.1l-20 -6.9l-18.9 -9.5l-17.5 -11.9l-15.9 -14.1l-13.9 -16.1l-11.7 -17.8l-9.3 -19.2l-6.8 -20.2l-4.1 -21l-1.4 -21.4l1.4 -21.4l4.1 -21l6.8 -20.2l9.3 -19.2l11.7 -17.8l13.9 -16.1l15.9 -14.1l17.5 -11.9l18.9 -9.5l20 -6.9l20.7 -4.1l21 -1.4l21 1.4l20.7 4.1l20 6.9l18.9 9.5l17.5 11.9l15.9 14.1l13.9 16.1l11.7 17.8l9.3 19.2l6.8 20.2l4.1 21z"/>
<path fill="#64ff9b" d="M500.9 517.5l-1.4 21.2l-4.1 20.9l-6.7 20.2l-9.3 19.1l-11.7 17.7l-13.8 16l-15.8 14l-17.4 11.9l-18.8 9.4l-19.9 6.8l-20.6 4.2l-20.9 1.4l-20.9 -1.4l-20.6 -4.2l-19.9 -6.8l-18.8 -9.4l-17.4 -11.9l-15.8 -14l-13.8 -16l-11.7 -17.7l-9.3 -19.1l-6.7 -20.2l-4.1 -20.9l-1.4 -21.2l1.4 -21.2l4.1 -20.9l6.7 -20.2l9.3 -19.1l11.7 -17.7l13.8 -16l15.8 -14l17.4 -11.9l18.8 -9.4l19.9 -6.8l20.6 -4.2l20.9 -1.4l20.9 1.4l20.6 4.2l19.9 6.8l18.8 9.4l17.4 11.9l15.8 14l13.8 16l11.7 17.7l9.3 19.1l6.7 20.2l4.1 20.9z"/>
<path fill="#6cff93" d="M500 517.5l-1.3 21.1l-4.1 20.8l-6.7 20.1l-9.2 19l-11.6 17.6l-13.8 15.9l-15.7 14l-17.3 11.7l-18.8 9.4l-19.7 6.8l-20.5 4.1l-20.8 1.4l-20.8 -1.4l-20.5 -4.1l-19.7 -6.8l-18.8 -9.4l-17.3 -11.7l-15.7 -14l-13.8 -15.9l-11.6 -17.6l-9.2 -19l-6.7 -20.1l-4.1 -20.8l-1.3 -21.1l1.3 -21.1l4.1 -20.8l6.7 -20.1l9.2 -19l11.6 -17.6l13.8 -15.9l15.7 -14l17.3 -11.7l18.8 -9.4l19.7 -6.8l20.5 -4.1l20.8 -1.4l20.8 1.4l20.5 4.1l19.7 6.8l18.8 9.4l17.3 11.7l15.7 14l13.8 15.9l11.6 17.6l9.2 19l6.7 20.1l4.1 20.8z"/>
<path fill="#74ff8b" d="M499.2 517.5l-1.4 21l-4 20.7l-6.7 19.9l-9.2 18.9l-11.5 17.6l-13.7 15.8l-15.6 13.9l-17.3 11.7l-18.6 9.3l-19.6 6.8l-20.4 4.1l-20.7 1.4l-20.7 -1.4l-20.4 -4.1l-19.6 -6.8l-18.6 -9.3l-17.3 -11.7l-15.6 -13.9l-13.7 -15.8l-11.5 -17.6l-9.2 -18.9l-6.7 -19.9l-4 -20.7l-1.4 -21l1.4 -21l4 -20.7l6.7 -19.9l9.2 -18.9l11.5 -17.6l13.7 -15.8l15.6 -13.9l17.3 -11.7l18.6 -9.3l19.6 -6.8l20.4 -4.1l20.7 -1.4l20.7 1.4l20.4 4.1l19.6 6.8l18.6 9.3l17.3 11.7l15.6 13.9l13.7 15.8l11.5 17.6l9.2 18.9l6.7 19.9l4 20.7z"/>
<path fill="#7cff83" d="M498.3 517.5l-1.3 20.9l-4 20.6l-6.7 19.8l-9.1 18.8l-11.5 17.4l-13.6 15.8l-15.5 13.8l-17.2 11.6l-18.5 9.3l-19.5 6.8l-20.3 4l-20.6 1.4l-20.6 -1.4l-20.3 -4l-19.5 -6.8l-18.5 -9.3l-17.2 -11.6l-15.5 -13.8l-13.6 -15.8l-11.5 -17.4l-9.1 -18.8l-6.7 -19.8l-4 -20.6l-1.3 -20.9l1.3 -20.9l4 -20.6l6.7 -19.8l9.1 -18.8l11.5 -17.4l13.6 -15.8l15.5 -13.8l17.2 -11.6l18.5 -9.3l19.5 -6.8l20.3 -4l20.6 -1.4l20.6 1.4l20.3 4l19.5 6.8l18.5 9.3l17.2 11.6l15.5 13.8l13.6 15.8l11.5 17.4l9.1 18.8l6.7 19.8l4 20.6z"/>
<path fill="#83ff7c" d="M497.5 517.5l-1.3 20.8l-4 20.4l-6.7 19.8l-9 18.7l-11.4 17.3l-13.6 15.7l-15.4 13.7l-17.1 11.6l-18.4 9.2l-19.5 6.7l-20.1 4.1l-20.5 1.4l-20.5 -1.4l-20.1 -4.1l-19.5 -6.7l-18.4 -9.2l-17.1 -11.6l-15.4 -13.7l-13.6 -15.7l-11.4 -17.3l-9 -18.7l-6.7 -19.8l-4 -20.4l-1.3 -20.8l1.3 -20.8l4 -20.4l6.7 -19.8l9 -18.7l11.4 -17.3l13.6 -15.7l15.4 -13.7l17.1 -11.6l18.4 -9.2l19.5 -6.7l20.1 -4.1l20.5 -1.4l20.5 1.4l20.1 4.1l19.5 6.7l18.4 9.2l17.1 11.6l15.4 13.7l13.6 15.7l11.4 17.3l9 18.7l6.7 19.8l4 20.4z"/>
<path fill="#8bff74" d="M496.7 517.5l-1.4 20.7l-4 20.3l-6.5 19.7l-9.1 18.6l-11.3 17.2l-13.5 15.6l-15.3 13.7l-17 11.5l-18.3 9.1l-19.4 6.7l-20 4.1l-20.4 1.3l-20.4 -1.3l-20 -4.1l-19.4 -6.7l-18.3 -9.1l-17 -11.5l-15.3 -13.7l-13.5 -15.6l-11.3 -17.2l-9.1 -18.6l-6.5 -19.7l-4 -20.3l-1.4 -20.7l1.4 -20.7l4 -20.3l6.5 -19.7l9.1 -18.6l11.3 -17.2l13.5 -15.6l15.3 -13.7l17 -11.5l18.3 -9.1l19.4 -6.7l20 -4.1l20.4 -1.3l20.4 1.3l20 4.1l19.4 6.7l18.3 9.1l17 11.5l15.3 13.7l13.5 15.6l11.3 17.2l9.1 18.6l6.5 19.7l4 20.3z"/>
<path fill="#93ff6c" d="M495.9 517.5l-1.4 20.6l-3.9 20.2l-6.6 19.5l-9 18.5l-11.2 17.2l-13.4 15.5l-15.3 13.6l-16.9 11.5l-18.2 9.1l-19.3 6.6l-19.9 4l-20.3 1.4l-20.3 -1.4l-19.9 -4l-19.3 -6.6l-18.2 -9.1l-16.9 -11.5l-15.3 -13.6l-13.4 -15.5l-11.2 -17.2l-9 -18.5l-6.6 -19.5l-3.9 -20.2l-1.4 -20.6l1.4 -20.6l3.9 -20.2l6.6 -19.5l9 -18.5l11.2 -17.2l13.4 -15.5l15.3 -13.6l16.9 -11.5l18.2 -9.1l19.3 -6.6l19.9 -4l20.3 -1.4l20.3 1.4l19.9 4l19.3 6.6l18.2 9.1l16.9 11.5l15.3 13.6l13.4 15.5l11.2 17.2l9 18.5l6.6 19.5l3.9 20.2z"/>
<path fill="#9bff64" d="M495.1 517.5l-1.4 20.5l-3.9 20.1l-6.5 19.4l-8.9 18.4l-11.3 17.1l-13.3 15.4l-15.2 13.6l-16.8 11.4l-18.2 9l-19.1 6.6l-19.8 4l-20.2 1.4l-20.2 -1.4l-19.8 -4l-19.1 -6.6l-18.2 -9l-16.8 -11.4l-15.2 -13.6l-13.3 -15.4l-11.3 -17.1l-8.9 -18.4l-6.5 -19.4l-3.9 -20.1l-1.4 -20.5l1.4 -20.5l3.9 -20.1l6.5 -19.4l8.9 -18.4l11.3 -17.1l13.3 -15.4l15.2 -13.6l16.8 -11.4l18.2 -9l19.1 -6.6l19.8 -4l20.2 -1.4l20.2 1.4l19.8 4l19.1 6.6l18.2 9l16.8 11.4l15.2 13.6l13.3 15.4l11.3 17.1l8.9 18.4l6.5 19.4l3.9 20.1z"/>
<path fill="#a3ff5c" d="M494.3 517.5l-1.3 20.4l-4 20l-6.4 19.3l-8.9 18.3l-11.2 17l-13.3 15.4l-15.1 13.4l-16.7 11.4l-18.1 9l-19 6.6l-19.7 3.9l-20.1 1.4l-20.1 -1.4l-19.7 -3.9l-19 -6.6l-18.1 -9l-16.7 -11.4l-15.1 -13.4l-13.3 -15.4l-11.2 -17l-8.9 -18.3l-6.4 -19.3l-4 -20l-1.3 -20.4l1.3 -20.4l4 -20l6.4 -19.3l8.9 -18.3l11.2 -17l13.3 -15.4l15.1 -13.4l16.7 -11.4l18.1 -9l19 -6.6l19.7 -3.9l20.1 -1.4l20.1 1.4l19.7 3.9l19 6.6l18.1 9l16.7 11.4l15.1 13.4l13.3 15.4l11.2 17l8.9 18.3l6.4 19.3l4 20z"/>
<path fill="#abff54" d="M493.5 517.5l-1.3 20.3l-3.9 19.9l-6.4 19.2l-8.9 18.2l-11.1 16.9l-13.2 15.3l-15.1 13.4l-16.6 11.3l-17.9 9l-19 6.5l-19.6 4l-20 1.3l-20 -1.3l-19.6 -4l-19 -6.5l-17.9 -9l-16.6 -11.3l-15.1 -13.4l-13.2 -15.3l-11.1 -16.9l-8.9 -18.2l-6.4 -19.2l-3.9 -19.9l-1.3 -20.3l1.3 -20.3l3.9 -19.9l6.4 -19.2l8.9 -18.2l11.1 -16.9l13.2 -15.3l15.1 -13.4l16.6 -11.3l17.9 -9l19 -6.5l19.6 -4l20 -1.3l20 1.3l19.6 4l19 6.5l17.9 9l16.6 11.3l15.1 13.4l13.2 15.3l11.1 16.9l8.9 18.2l6.4 19.2l3.9 19.9z"/>
<path fill="#b3ff4c" d="M492.7 517.5l-1.3 20.2l-3.9 19.8l-6.4 19.1l-8.8 18.2l-11 16.8l-13.2 15.2l-14.9 13.3l-16.6 11.2l-17.8 8.9l-18.9 6.5l-19.5 4l-19.9 1.3l-19.9 -1.3l-19.5 -4l-18.9 -6.5l-17.8 -8.9l-16.6 -11.2l-14.9 -13.3l-13.2 -15.2l-11 -16.8l-8.8 -18.2l-6.4 -19.1l-3.9 -19.8l-1.3 -20.2l1.3 -20.2l3.9 -19.8l6.4 -19.1l8.8 -18.2l11 -16.8l13.2 -15.2l14.9 -13.3l16.6 -11.2l17.8 -8.9l18.9 -6.5l19.5 -4l19.9 -1.3l19.9 1.3l19.5 4l18.9 6.5l17.8 8.9l16.6 11.2l14.9 13.3l13.2 15.2l11 16.8l8.8 18.2l6.4 19.1l3.9 19.8z"/>
<path fill="#bbff44" d="M492 517.5l-1.3 20.1l-3.9 19.7l-6.4 19l-8.7 18.1l-11 16.7l-13.1 15.1l-14.9 13.3l-16.5 11.1l-17.7 8.9l-18.8 6.5l-19.4 3.9l-19.8 1.3l-19.8 -1.3l-19.4 -3.9l-18.8 -6.5l-17.7 -8.9l-16.5 -11.1l-14.9 -13.3l-13.1 -15.1l-11 -16.7l-8.7 -18.1l-6.4 -19l-3.9 -19.7l-1.3 -20.1l1.3 -20.1l3.9 -19.7l6.4 -19l8.7 -18.1l11 -16.7l13.1 -15.1l14.9 -13.3l16.5 -11.1l17.7 -8.9l18.8 -6.5l19.4 -3.9l19.8 -1.3l19.8 1.3l19.4 3.9l18.8 6.5l17.7 8.9l16.5 11.1l14.9 13.3l13.1 15.1l11 16.7l8.7 18.1l6.4 19l3.9 19.7z"/>
<path fill="#c3ff3c" d="M491.2 517.5l-1.3 20l-3.9 19.6l-6.3 18.9l-8.7 18l-11 16.6l-13 15l-14.8 13.2l-16.4 11.2l-17.6 8.8l-18.7 6.4l-19.3 3.9l-19.7 1.3l-19.7 -1.3l-19.3 -3.9l-18.7 -6.4l-17.6 -8.8l-16.4 -11.2l-14.8 -13.2l-13 -15l-11 -16.6l-8.7 -18l-6.3 -18.9l-3.9 -19.6l-1.3 -20l1.3 -20l3.9 -19.6l6.3 -18.9l8.7 -18l11 -16.6l13 -15l14.8 -13.2l16.4 -11.2l17.6 -8.8l18.7 -6.4l19.3 -3.9l19.7 -1.3l19.7 1.3l19.3 3.9l18.7 6.4l17.6 8.8l16.4 11.2l14.8 13.2l13 15l11 16.6l8.7 18l6.3 18.9l3.9 19.6z"/>
<path fill="#cbff34" d="M490.4 517.5l-1.3 19.9l-3.8 19.5l-6.3 18.8l-8.7 17.9l-10.9 16.5l-12.9 15l-14.7 13.1l-16.3 11.1l-17.6 8.8l-18.6 6.4l-19.2 3.9l-19.6 1.3l-19.6 -1.3l-19.2 -3.9l-18.6 -6.4l-17.6 -8.8l-16.3 -11.1l-14.7 -13.1l-12.9 -15l-10.9 -16.5l-8.7 -17.9l-6.3 -18.8l-3.8 -19.5l-1.3 -19.9l1.3 -19.9l3.8 -19.5l6.3 -18.8l8.7 -17.9l10.9 -16.5l12.9 -15l14.7 -13.1l16.3 -11.1l17.6 -8.8l18.6 -6.4l19.2 -3.9l19.6 -1.3l19.6 1.3l19.2 3.9l18.6 6.4l17.6 8.8l16.3 11.1l14.7 13.1l12.9 15l10.9 16.5l8.7 17.9l6.3 18.8l3.8 19.5z"/>
<path fill="#d3ff2c" d="M489.6 517.5l-1.3 19.8l-3.8 19.4l-6.2 18.7l-8.7 17.8l-10.8 16.4l-12.9 14.9l-14.6 13.1l-16.2 11l-17.5 8.7l-18.5 6.4l-19.1 3.9l-19.5 1.3l-19.5 -1.3l-19.1 -3.9l-18.5 -6.4l-17.5 -8.7l-16.2 -11l-14.6 -13.1l-12.9 -14.9l-10.8 -16.4l-8.7 -17.8l-6.2 -18.7l-3.8 -19.4l-1.3 -19.8l1.3 -19.8l3.8 -19.4l6.2 -18.7l8.7 -17.8l10.8 -16.4l12.9 -14.9l14.6 -13.1l16.2 -11l17.5 -8.7l18.5 -6.4l19.1 -3.9l19.5 -1.3l19.5 1.3l19.1 3.9l18.5 6.4l17.5 8.7l16.2 11l14.6 13.1l12.9 14.9l10.8 16.4l8.7 17.8l6.2 18.7l3.8 19.4z"/>
<path fill="#dbff24" d="M488.8 517.5l-1.2 19.7l-3.8 19.3l-6.3 18.6l-8.5 17.7l-10.8 16.3l-12.8 14.9l-14.6 12.9l-16.1 11l-17.4 8.7l-18.4 6.3l-19 3.9l-19.4 1.2l-19.4 -1.2l-19 -3.9l-18.4 -6.3l-17.4 -8.7l-16.1 -11l-14.6 -12.9l-12.8 -14.9l-10.8 -16.3l-8.5 -17.7l-6.3 -18.6l-3.8 -19.3l-1.2 -19.7l1.2 -19.7l3.8 -19.3l6.3 -18.6l8.5 -17.7l10.8 -16.3l12.8 -14.9l14.6 -12.9l16.1 -11l17.4 -8.7l18.4 -6.3l19 -3.9l19.4 -1.2l19.4 1.2l19 3.9l18.4 6.3l17.4 8.7l16.1 11l14.6 12.9l12.8 14.9l10.8 16.3l8.5 17.7l6.3 18.6l3.8 19.3z"/>
<path fill="#e3ff1c" d="M488 517.5l-1.2 19.5l-3.8 19.3l-6.2 18.5l-8.6 17.6l-10.7 16.2l-12.7 14.8l-14.5 12.9l-16 10.9l-17.3 8.6l-18.3 6.3l-18.9 3.8l-19.3 1.3l-19.3 -1.3l-18.9 -3.8l-18.3 -6.3l-17.3 -8.6l-16 -10.9l-14.5 -12.9l-12.7 -14.8l-10.7 -16.2l-8.6 -17.6l-6.2 -18.5l-3.8 -19.3l-1.2 -19.5l1.2 -19.5l3.8 -19.3l6.2 -18.5l8.6 -17.6l10.7 -16.2l12.7 -14.8l14.5 -12.9l16 -10.9l17.3 -8.6l18.3 -6.3l18.9 -3.8l19.3 -1.3l19.3 1.3l18.9 3.8l18.3 6.3l17.3 8.6l16 10.9l14.5 12.9l12.7 14.8l10.7 16.2l8.6 17.6l6.2 18.5l3.8 19.3z"/>
<path fill="#ebff14" d="M487.2 517.5l-1.3 19.4l-3.7 19.1l-6.2 18.5l-8.5 17.4l-10.6 16.2l-12.7 14.7l-14.4 12.8l-16 10.8l-17.2 8.6l-18.1 6.3l-18.9 3.8l-19.1 1.3l-19.1 -1.3l-18.9 -3.8l-18.1 -6.3l-17.2 -8.6l-16 -10.8l-14.4 -12.8l-12.7 -14.7l-10.6 -16.2l-8.5 -17.4l-6.2 -18.5l-3.7 -19.1l-1.3 -19.4l1.3 -19.4l3.7 -19.1l6.2 -18.5l8.5 -17.4l10.6 -16.2l12.7 -14.7l14.4 -12.8l16 -10.8l17.2 -8.6l18.1 -6.3l18.9 -3.8l19.1 -1.3l19.1 1.3l18.9 3.8l18.1 6.3l17.2 8.6l16 10.8l14.4 12.8l12.7 14.7l10.6 16.2l8.5 17.4l6.2 18.5l3.7 19.1z"/>
<path fill="#f3ff0c" d="M486.3 517.5l-1.2 19.3l-3.7 19l-6.2 18.3l-8.4 17.4l-10.6 16.1l-12.6 14.6l-14.3 12.7l-15.9 10.8l-17.1 8.5l-18.1 6.3l-18.7 3.7l-19 1.3l-19 -1.3l-18.7 -3.7l-18.1 -6.3l-17.1 -8.5l-15.9 -10.8l-14.3 -12.7l-12.6 -14.6l-10.6 -16.1l-8.4 -17.4l-6.2 -18.3l-3.7 -19l-1.2 -19.3l1.2 -19.3l3.7 -19l6.2 -18.3l8.4 -17.4l10.6 -16.1l12.6 -14.6l14.3 -12.7l15.9 -10.8l17.1 -8.5l18.1 -6.3l18.7 -3.7l19 -1.3l19 1.3l18.7 3.7l18.1 6.3l17.1 8.5l15.9 10.8l14.3 12.7l12.6 14.6l10.6 16.1l8.4 17.4l6.2 18.3l3.7 19z"/>
<path fill="#fbff04" d="M485.4 517.5l-1.2 19.2l-3.7 18.9l-6.1 18.2l-8.4 17.3l-10.5 16l-12.5 14.4l-14.3 12.7l-15.7 10.7l-17 8.5l-18 6.2l-18.6 3.7l-18.9 1.3l-18.9 -1.3l-18.6 -3.7l-18 -6.2l-17 -8.5l-15.7 -10.7l-14.3 -12.7l-12.5 -14.4l-10.5 -16l-8.4 -17.3l-6.1 -18.2l-3.7 -18.9l-1.2 -19.2l1.2 -19.2l3.7 -18.9l6.1 -18.2l8.4 -17.3l10.5 -16l12.5 -14.4l14.3 -12.7l15.7 -10.7l17 -8.5l18 -6.2l18.6 -3.7l18.9 -1.3l18.9 1.3l18.6 3.7l18 6.2l17 8.5l15.7 10.7l14.3 12.7l12.5 14.4l10.5 16l8.4 17.3l6.1 18.2l3.7 18.9z"/>
<path fill="#fffb00" d="M484.5 517.5l-1.2 19.1l-3.7 18.7l-6.1 18.1l-8.3 17.2l-10.5 15.9l-12.4 14.4l-14.1 12.6l-15.7 10.6l-16.9 8.4l-17.8 6.2l-18.5 3.7l-18.8 1.3l-18.8 -1.3l-18.5 -3.7l-17.8 -6.2l-16.9 -8.4l-15.7 -10.6l-14.1 -12.6l-12.4 -14.4l-10.5 -15.9l-8.3 -17.2l-6.1 -18.1l-3.7 -18.7l-1.2 -19.1l1.2 -19.1l3.7 -18.7l6.1 -18.1l8.3 -17.2l10.5 -15.9l12.4 -14.4l14.1 -12.6l15.7 -10.6l16.9 -8.4l17.8 -6.2l18.5 -3.7l18.8 -1.3l18.8 1.3l18.5 3.7l17.8 6.2l16.9 8.4l15.7 10.6l14.1 12.6l12.4 14.4l10.5 15.9l8.3 17.2l6.1 18.1l3.7 18.7z"/>
<path fill="#fff300" d="M483.5 517.5l-1.2 18.9l-3.6 18.7l-6.1 18l-8.2 17l-10.4 15.8l-12.4 14.3l-14 12.5l-15.6 10.5l-16.8 8.4l-17.7 6.1l-18.3 3.7l-18.7 1.3l-18.7 -1.3l-18.3 -3.7l-17.7 -6.1l-16.8 -8.4l-15.6 -10.5l-14 -12.5l-12.4 -14.3l-10.4 -15.8l-8.2 -17l-6.1 -18l-3.6 -18.7l-1.2 -18.9l1.2 -18.9l3.6 -18.7l6.1 -18l8.2 -17l10.4 -15.8l12.4 -14.3l14 -12.5l15.6 -10.5l16.8 -8.4l17.7 -6.1l18.3 -3.7l18.7 -1.3l18.7 1.3l18.3 3.7l17.7 6.1l16.8 8.4l15.6 10.5l14 12.5l12.4 14.3l10.4 15.8l8.2 17l6.1 18l3.6 18.7z"/>
<path fill="#ffeb00" d="M482.5 517.5l-1.2 18.8l-3.6 18.5l-6 17.9l-8.2 16.9l-10.3 15.7l-12.3 14.1l-13.9 12.5l-15.5 10.4l-16.7 8.4l-17.5 6l-18.3 3.7l-18.5 1.2l-18.5 -1.2l-18.3 -3.7l-17.5 -6l-16.7 -8.4l-15.5 -10.4l-13.9 -12.5l-12.3 -14.1l-10.3 -15.7l-8.2 -16.9l-6 -17.9l-3.6 -18.5l-1.2 -18.8l1.2 -18.8l3.6 -18.5l6 -17.9l8.2 -16.9l10.3 -15.7l12.3 -14.1l13.9 -12.5l15.5 -10.4l16.7 -8.4l17.5 -6l18.3 -3.7l18.5 -1.2l18.5 1.2l18.3 3.7l17.5 6l16.7 8.4l15.5 10.4l13.9 12.5l12.3 14.1l10.3 15.7l8.2 16.9l6 17.9l3.6 18.5z"/>
<path fill="#ffe300" d="M481.5 517.5l-1.2 18.7l-3.6 18.3l-5.9 17.8l-8.2 16.7l-10.3 15.6l-12.1 14.1l-13.9 12.3l-15.3 10.4l-16.5 8.3l-17.5 6l-18.1 3.7l-18.4 1.2l-18.4 -1.2l-18.1 -3.7l-17.5 -6l-16.5 -8.3l-15.3 -10.4l-13.9 -12.3l-12.1 -14.1l-10.3 -15.6l-8.2 -16.7l-5.9 -17.8l-3.6 -18.3l-1.2 -18.7l1.2 -18.7l3.6 -18.3l5.9 -17.8l8.2 -16.7l10.3 -15.6l12.1 -14.1l13.9 -12.3l15.3 -10.4l16.5 -8.3l17.5 -6l18.1 -3.7l18.4 -1.2l18.4 1.2l18.1 3.7l17.5 6l16.5 8.3l15.3 10.4l13.9 12.3l12.1 14.1l10.3 15.6l8.2 16.7l5.9 17.8l3.6 18.3z"/>
<path fill="#ffdb00" d="M480.4 517.5l-1.2 18.5l-3.5 18.3l-5.9 17.5l-8.1 16.7l-10.2 15.5l-12.1 13.9l-13.7 12.3l-15.2 10.3l-16.5 8.2l-17.3 6l-17.9 3.6l-18.3 1.2l-18.3 -1.2l-17.9 -3.6l-17.3 -6l-16.5 -8.2l-15.2 -10.3l-13.7 -12.3l-12.1 -13.9l-10.2 -15.5l-8.1 -16.7l-5.9 -17.5l-3.5 -18.3l-1.2 -18.5l1.2 -18.5l3.5 -18.3l5.9 -17.5l8.1 -16.7l10.2 -15.5l12.1 -13.9l13.7 -12.3l15.2 -10.3l16.5 -8.2l17.3 -6l17.9 -3.6l18.3 -1.2l18.3 1.2l17.9 3.6l17.3 6l16.5 8.2l15.2 10.3l13.7 12.3l12.1 13.9l10.2 15.5l8.1 16.7l5.9 17.5l3.5 18.3z"/>
<path fill="#ffd300" d="M479.3 517.5l-1.2 18.4l-3.5 18.1l-5.8 17.4l-8.1 16.6l-10.1 15.3l-11.9 13.8l-13.7 12.2l-15.1 10.2l-16.3 8.2l-17.2 5.9l-17.8 3.6l-18.1 1.2l-18.1 -1.2l-17.8 -3.6l-17.2 -5.9l-16.3 -8.2l-15.1 -10.2l-13.7 -12.2l-11.9 -13.8l-10.1 -15.3l-8.1 -16.6l-5.8 -17.4l-3.5 -18.1l-1.2 -18.4l1.2 -18.4l3.5 -18.1l5.8 -17.4l8.1 -16.6l10.1 -15.3l11.9 -13.8l13.7 -12.2l15.1 -10.2l16.3 -8.2l17.2 -5.9l17.8 -3.6l18.1 -1.2l18.1 1.2l17.8 3.6l17.2 5.9l16.3 8.2l15.1 10.2l13.7 12.2l11.9 13.8l10.1 15.3l8.1 16.6l5.8 17.4l3.5 18.1z"/>
<path fill="#ffcb00" d="M478.2 517.5l-1.2 18.2l-3.5 18l-5.8 17.3l-7.9 16.4l-10.1 15.2l-11.8 13.7l-13.6 12.1l-14.9 10.1l-16.2 8.1l-17.1 5.9l-17.6 3.6l-18 1.2l-18 -1.2l-17.6 -3.6l-17.1 -5.9l-16.2 -8.1l-14.9 -10.1l-13.6 -12.1l-11.8 -13.7l-10.1 -15.2l-7.9 -16.4l-5.8 -17.3l-3.5 -18l-1.2 -18.2l1.2 -18.2l3.5 -18l5.8 -17.3l7.9 -16.4l10.1 -15.2l11.8 -13.7l13.6 -12.1l14.9 -10.1l16.2 -8.1l17.1 -5.9l17.6 -3.6l18 -1.2l18 1.2l17.6 3.6l17.1 5.9l16.2 8.1l14.9 10.1l13.6 12.1l11.8 13.7l10.1 15.2l7.9 16.4l5.8 17.3l3.5 18z"/>
<path fill="#ffc300" d="M477.1 517.5l-1.2 18.1l-3.5 17.8l-5.7 17.1l-7.9 16.3l-10 15.1l-11.7 13.6l-13.5 12l-14.8 10l-16 8.1l-17 5.8l-17.5 3.5l-17.8 1.2l-17.8 -1.2l-17.5 -3.5l-17 -5.8l-16 -8.1l-14.8 -10l-13.5 -12l-11.7 -13.6l-10 -15.1l-7.9 -16.3l-5.7 -17.1l-3.5 -17.8l-1.2 -18.1l1.2 -18.1l3.5 -17.8l5.7 -17.1l7.9 -16.3l10 -15.1l11.7 -13.6l13.5 -12l14.8 -10l16 -8.1l17 -5.8l17.5 -3.5l17.8 -1.2l17.8 1.2l17.5 3.5l17 5.8l16 8.1l14.8 10l13.5 12l11.7 13.6l10 15.1l7.9 16.3l5.7 17.1l3.5 17.8z"/>
<path fill="#ffbb00" d="M475.9 517.5l-1.2 17.9l-3.4 17.7l-5.7 17l-7.8 16.1l-9.9 15l-11.7 13.5l-13.3 11.8l-14.7 10l-15.9 8l-16.8 5.8l-17.3 3.5l-17.7 1.1l-17.7 -1.1l-17.3 -3.5l-16.8 -5.8l-15.9 -8l-14.7 -10l-13.3 -11.8l-11.7 -13.5l-9.9 -15l-7.8 -16.1l-5.7 -17l-3.4 -17.7l-1.2 -17.9l1.2 -17.9l3.4 -17.7l5.7 -17l7.8 -16.1l9.9 -15l11.7 -13.5l13.3 -11.8l14.7 -10l15.9 -8l16.8 -5.8l17.3 -3.5l17.7 -1.1l17.7 1.1l17.3 3.5l16.8 5.8l15.9 8l14.7 10l13.3 11.8l11.7 13.5l9.9 15l7.8 16.1l5.7 17l3.4 17.7z"/>
<path fill="#ffb300" d="M474.7 517.5l-1.1 17.8l-3.4 17.5l-5.7 16.8l-7.8 16l-9.7 14.8l-11.6 13.4l-13.2 11.8l-14.6 9.9l-15.7 7.9l-16.7 5.7l-17.2 3.5l-17.5 1.1l-17.5 -1.1l-17.2 -3.5l-16.7 -5.7l-15.7 -7.9l-14.6 -9.9l-13.2 -11.8l-11.6 -13.4l-9.7 -14.8l-7.8 -16l-5.7 -16.8l-3.4 -17.5l-1.1 -17.8l1.1 -17.8l3.4 -17.5l5.7 -16.8l7.8 -16l9.7 -14.8l11.6 -13.4l13.2 -11.8l14.6 -9.9l15.7 -7.9l16.7 -5.7l17.2 -3.5l17.5 -1.1l17.5 1.1l17.2 3.5l16.7 5.7l15.7 7.9l14.6 9.9l13.2 11.8l11.6 13.4l9.7 14.8l7.8 16l5.7 16.8l3.4 17.5z"/>
<path fill="#ffab00" d="M473.5 517.5l-1.1 17.6l-3.4 17.3l-5.6 16.8l-7.7 15.8l-9.7 14.7l-11.4 13.3l-13.1 11.6l-14.5 9.8l-15.6 7.9l-16.5 5.6l-17 3.5l-17.4 1.1l-17.4 -1.1l-17 -3.5l-16.5 -5.6l-15.6 -7.9l-14.5 -9.8l-13.1 -11.6l-11.4 -13.3l-9.7 -14.7l-7.7 -15.8l-5.6 -16.8l-3.4 -17.3l-1.1 -17.6l1.1 -17.6l3.4 -17.3l5.6 -16.8l7.7 -15.8l9.7 -14.7l11.4 -13.3l13.1 -11.6l14.5 -9.8l15.6 -7.9l16.5 -5.6l17 -3.5l17.4 -1.1l17.4 1.1l17 3.5l16.5 5.6l15.6 7.9l14.5 9.8l13.1 11.6l11.4 13.3l9.7 14.7l7.7 15.8l5.6 16.8l3.4 17.3z"/>
<path fill="#ffa300" d="M472.3 517.5l-1.1 17.5l-3.3 17.1l-5.6 16.6l-7.6 15.7l-9.6 14.6l-11.4 13.1l-12.9 11.6l-14.4 9.7l-15.4 7.7l-16.4 5.7l-16.9 3.4l-17.2 1.1l-17.2 -1.1l-16.9 -3.4l-16.4 -5.7l-15.4 -7.7l-14.4 -9.7l-12.9 -11.6l-11.4 -13.1l-9.6 -14.6l-7.6 -15.7l-5.6 -16.6l-3.3 -17.1l-1.1 -17.5l1.1 -17.5l3.3 -17.1l5.6 -16.6l7.6 -15.7l9.6 -14.6l11.4 -13.1l12.9 -11.6l14.4 -9.7l15.4 -7.7l16.4 -5.7l16.9 -3.4l17.2 -1.1l17.2 1.1l16.9 3.4l16.4 5.7l15.4 7.7l14.4 9.7l12.9 11.6l11.4 13.1l9.6 14.6l7.6 15.7l5.6 16.6l3.3 17.1z"/>
<path fill="#ff9b00" d="M471.2 517.5l-1.2 17.3l-3.3 17l-5.5 16.4l-7.6 15.6l-9.4 14.4l-11.3 13.1l-12.9 11.4l-14.2 9.6l-15.3 7.7l-16.2 5.6l-16.7 3.4l-17.1 1.1l-17.1 -1.1l-16.7 -3.4l-16.2 -5.6l-15.3 -7.7l-14.2 -9.6l-12.9 -11.4l-11.3 -13.1l-9.4 -14.4l-7.6 -15.6l-5.5 -16.4l-3.3 -17l-1.2 -17.3l1.2 -17.3l3.3 -17l5.5 -16.4l7.6 -15.6l9.4 -14.4l11.3 -13.1l12.9 -11.4l14.2 -9.6l15.3 -7.7l16.2 -5.6l16.7 -3.4l17.1 -1.1l17.1 1.1l16.7 3.4l16.2 5.6l15.3 7.7l14.2 9.6l12.9 11.4l11.3 13.1l9.4 14.4l7.6 15.6l5.5 16.4l3.3 17z"/>
<path fill="#ff9300" d="M470 517.5l-1.1 17.2l-3.3 16.8l-5.5 16.3l-7.5 15.4l-9.4 14.3l-11.2 12.9l-12.7 11.4l-14.1 9.5l-15.2 7.6l-16 5.5l-16.6 3.4l-16.9 1.1l-16.9 -1.1l-16.6 -3.4l-16 -5.5l-15.2 -7.6l-14.1 -9.5l-12.7 -11.4l-11.2 -12.9l-9.4 -14.3l-7.5 -15.4l-5.5 -16.3l-3.3 -16.8l-1.1 -17.2l1.1 -17.2l3.3 -16.8l5.5 -16.3l7.5 -15.4l9.4 -14.3l11.2 -12.9l12.7 -11.4l14.1 -9.5l15.2 -7.6l16 -5.5l16.6 -3.4l16.9 -1.1l16.9 1.1l16.6 3.4l16 5.5l15.2 7.6l14.1 9.5l12.7 11.4l11.2 12.9l9.4 14.3l7.5 15.4l5.5 16.3l3.3 16.8z"/>
<path fill="#ff8b00" d="M468.8 517.5l-1.1 17l-3.3 16.7l-5.4 16.1l-7.4 15.3l-9.3 14.2l-11.1 12.8l-12.6 11.2l-14 9.5l-15 7.5l-15.9 5.5l-16.5 3.3l-16.7 1.1l-16.7 -1.1l-16.5 -3.3l-15.9 -5.5l-15 -7.5l-14 -9.5l-12.6 -11.2l-11.1 -12.8l-9.3 -14.2l-7.4 -15.3l-5.4 -16.1l-3.3 -16.7l-1.1 -17l1.1 -17l3.3 -16.7l5.4 -16.1l7.4 -15.3l9.3 -14.2l11.1 -12.8l12.6 -11.2l14 -9.5l15 -7.5l15.9 -5.5l16.5 -3.3l16.7 -1.1l16.7 1.1l16.5 3.3l15.9 5.5l15 7.5l14 9.5l12.6 11.2l11.1 12.8l9.3 14.2l7.4 15.3l5.4 16.1l3.3 16.7z"/>
<path fill="#ff8300" d="M467.6 517.5l-1.1 16.8l-3.2 16.6l-5.3 16l-7.4 15.1l-9.2 14.1l-11 12.6l-12.5 11.2l-13.8 9.4l-14.9 7.4l-15.8 5.4l-16.3 3.3l-16.6 1.1l-16.6 -1.1l-16.3 -3.3l-15.8 -5.4l-14.9 -7.4l-13.8 -9.4l-12.5 -11.2l-11 -12.6l-9.2 -14.1l-7.4 -15.1l-5.3 -16l-3.2 -16.6l-1.1 -16.8l1.1 -16.8l3.2 -16.6l5.3 -16l7.4 -15.1l9.2 -14.1l11 -12.6l12.5 -11.2l13.8 -9.4l14.9 -7.4l15.8 -5.4l16.3 -3.3l16.6 -1.1l16.6 1.1l16.3 3.3l15.8 5.4l14.9 7.4l13.8 9.4l12.5 11.2l11 12.6l9.2 14.1l7.4 15.1l5.3 16l3.2 16.6z"/>
<path fill="#ff7c00" d="M466.5 517.5l-1.1 16.7l-3.2 16.4l-5.3 15.8l-7.3 15l-9.1 14l-10.9 12.5l-12.4 11.1l-13.7 9.3l-14.8 7.4l-15.6 5.3l-16.2 3.3l-16.4 1.1l-16.4 -1.1l-16.2 -3.3l-15.6 -5.3l-14.8 -7.4l-13.7 -9.3l-12.4 -11.1l-10.9 -12.5l-9.1 -14l-7.3 -15l-5.3 -15.8l-3.2 -16.4l-1.1 -16.7l1.1 -16.7l3.2 -16.4l5.3 -15.8l7.3 -15l9.1 -14l10.9 -12.5l12.4 -11.1l13.7 -9.3l14.8 -7.4l15.6 -5.3l16.2 -3.3l16.4 -1.1l16.4 1.1l16.2 3.3l15.6 5.3l14.8 7.4l13.7 9.3l12.4 11.1l10.9 12.5l9.1 14l7.3 15l5.3 15.8l3.2 16.4z"/>
<path fill="#ff7400" d="M465.4 517.5l-1.1 16.5l-3.2 16.3l-5.2 15.7l-7.3 14.9l-9 13.8l-10.8 12.4l-12.3 11l-13.6 9.2l-14.6 7.3l-15.5 5.3l-16 3.3l-16.3 1.1l-16.3 -1.1l-16 -3.3l-15.5 -5.3l-14.6 -7.3l-13.6 -9.2l-12.3 -11l-10.8 -12.4l-9 -13.8l-7.3 -14.9l-5.2 -15.7l-3.2 -16.3l-1.1 -16.5l1.1 -16.5l3.2 -16.3l5.2 -15.7l7.3 -14.9l9 -13.8l10.8 -12.4l12.3 -11l13.6 -9.2l14.6 -7.3l15.5 -5.3l16 -3.3l16.3 -1.1l16.3 1.1l16 3.3l15.5 5.3l14.6 7.3l13.6 9.2l12.3 11l10.8 12.4l9 13.8l7.3 14.9l5.2 15.7l3.2 16.3z"/>
<path fill="#ff6c00" d="M464.3 517.5l-1.1 16.4l-3.2 16.1l-5.2 15.6l-7.1 14.7l-9 13.7l-10.7 12.3l-12.2 10.9l-13.4 9.1l-14.5 7.3l-15.4 5.2l-15.8 3.2l-16.2 1.1l-16.2 -1.1l-15.8 -3.2l-15.4 -5.2l-14.5 -7.3l-13.4 -9.1l-12.2 -10.9l-10.7 -12.3l-9 -13.7l-7.1 -14.7l-5.2 -15.6l-3.2 -16.1l-1.1 -16.4l1.1 -16.4l3.2 -16.1l5.2 -15.6l7.1 -14.7l9 -13.7l10.7 -12.3l12.2 -10.9l13.4 -9.1l14.5 -7.3l15.4 -5.2l15.8 -3.2l16.2 -1.1l16.2 1.1l15.8 3.2l15.4 5.2l14.5 7.3l13.4 9.1l12.2 10.9l10.7 12.3l9 13.7l7.1 14.7l5.2 15.6l3.2 16.1z"/>
<path fill="#ff6400" d="M463.2 517.5l-1.1 16.3l-3.1 15.9l-5.2 15.4l-7.1 14.6l-8.9 13.6l-10.6 12.2l-12 10.8l-13.4 9l-14.4 7.2l-15.2 5.3l-15.7 3.1l-16 1.1l-16 -1.1l-15.7 -3.1l-15.2 -5.3l-14.4 -7.2l-13.4 -9l-12 -10.8l-10.6 -12.2l-8.9 -13.6l-7.1 -14.6l-5.2 -15.4l-3.1 -15.9l-1.1 -16.3l1.1 -16.3l3.1 -15.9l5.2 -15.4l7.1 -14.6l8.9 -13.6l10.6 -12.2l12 -10.8l13.4 -9l14.4 -7.2l15.2 -5.3l15.7 -3.1l16 -1.1l16 1.1l15.7 3.1l15.2 5.3l14.4 7.2l13.4 9l12 10.8l10.6 12.2l8.9 13.6l7.1 14.6l5.2 15.4l3.1 15.9z"/>
<path fill="#ff5c00" d="M462.1 517.5l-1.1 16.1l-3.1 15.8l-5.1 15.3l-7 14.5l-8.9 13.4l-10.4 12.1l-12 10.7l-13.2 8.9l-14.3 7.2l-15 5.2l-15.6 3.1l-15.9 1.1l-15.9 -1.1l-15.6 -3.1l-15 -5.2l-14.3 -7.2l-13.2 -8.9l-12 -10.7l-10.4 -12.1l-8.9 -13.4l-7 -14.5l-5.1 -15.3l-3.1 -15.8l-1.1 -16.1l1.1 -16.1l3.1 -15.8l5.1 -15.3l7 -14.5l8.9 -13.4l10.4 -12.1l12 -10.7l13.2 -8.9l14.3 -7.2l15 -5.2l15.6 -3.1l15.9 -1.1l15.9 1.1l15.6 3.1l15 5.2l14.3 7.2l13.2 8.9l12 10.7l10.4 12.1l8.9 13.4l7 14.5l5.1 15.3l3.1 15.8z"/>
<path fill="#ff5400" d="M460.9 517.5l-1 16l-3.1 15.6l-5 15.2l-7 14.3l-8.7 13.3l-10.4 12l-11.9 10.6l-13.1 8.9l-14.1 7.1l-14.9 5.1l-15.5 3.1l-15.7 1.1l-15.7 -1.1l-15.5 -3.1l-14.9 -5.1l-14.1 -7.1l-13.1 -8.9l-11.9 -10.6l-10.4 -12l-8.7 -13.3l-7 -14.3l-5 -15.2l-3.1 -15.6l-1 -16l1 -16l3.1 -15.6l5 -15.2l7 -14.3l8.7 -13.3l10.4 -12l11.9 -10.6l13.1 -8.9l14.1 -7.1l14.9 -5.1l15.5 -3.1l15.7 -1.1l15.7 1.1l15.5 3.1l14.9 5.1l14.1 7.1l13.1 8.9l11.9 10.6l10.4 12l8.7 13.3l7 14.3l5 15.2l3.1 15.6z"/>
<path fill="#ff4c00" d="M459.8 517.5l-1 15.8l-3 15.6l-5 15l-6.9 14.2l-8.7 13.1l-10.3 12l-11.7 10.4l-13 8.8l-14 7l-14.8 5.1l-15.3 3.1l-15.6 1l-15.6 -1l-15.3 -3.1l-14.8 -5.1l-14 -7l-13 -8.8l-11.7 -10.4l-10.3 -12l-8.7 -13.1l-6.9 -14.2l-5 -15l-3 -15.6l-1 -15.8l1 -15.8l3 -15.6l5 -15l6.9 -14.2l8.7 -13.1l10.3 -12l11.7 -10.4l13 -8.8l14 -7l14.8 -5.1l15.3 -3.1l15.6 -1l15.6 1l15.3 3.1l14.8 5.1l14 7l13 8.8l11.7 10.4l10.3 12l8.7 13.1l6.9 14.2l5 15l3 15.6z"/>
<path fill="#ff4400" d="M458.7 517.5l-1 15.7l-3 15.4l-5 14.8l-6.8 14.1l-8.6 13.1l-10.2 11.8l-11.6 10.3l-12.9 8.7l-13.8 7l-14.7 5l-15.2 3.1l-15.4 1l-15.4 -1l-15.2 -3.1l-14.7 -5l-13.8 -7l-12.9 -8.7l-11.6 -10.3l-10.2 -11.8l-8.6 -13.1l-6.8 -14.1l-5 -14.8l-3 -15.4l-1 -15.7l1 -15.7l3 -15.4l5 -14.8l6.8 -14.1l8.6 -13.1l10.2 -11.8l11.6 -10.3l12.9 -8.7l13.8 -7l14.7 -5l15.2 -3.1l15.4 -1l15.4 1l15.2 3.1l14.7 5l13.8 7l12.9 8.7l11.6 10.3l10.2 11.8l8.6 13.1l6.8 14.1l5 14.8l3 15.4z"/>
<path fill="#ff3c00" d="M457.6 517.5l-1 15.5l-3 15.3l-4.9 14.7l-6.8 13.9l-8.5 13l-10.1 11.7l-11.5 10.2l-12.7 8.7l-13.8 6.8l-14.5 5l-15 3.1l-15.3 1l-15.3 -1l-15 -3.1l-14.5 -5l-13.8 -6.8l-12.7 -8.7l-11.5 -10.2l-10.1 -11.7l-8.5 -13l-6.8 -13.9l-4.9 -14.7l-3 -15.3l-1 -15.5l1 -15.5l3 -15.3l4.9 -14.7l6.8 -13.9l8.5 -13l10.1 -11.7l11.5 -10.2l12.7 -8.7l13.8 -6.8l14.5 -5l15 -3.1l15.3 -1l15.3 1l15 3.1l14.5 5l13.8 6.8l12.7 8.7l11.5 10.2l10.1 11.7l8.5 13l6.8 13.9l4.9 14.7l3 15.3z"/>
<path fill="#ff3400" d="M456.5 517.5l-1 15.4l-2.9 15.1l-4.9 14.6l-6.7 13.8l-8.4 12.8l-10.1 11.6l-11.4 10.1l-12.6 8.6l-13.6 6.8l-14.4 5l-14.9 3l-15.1 1l-15.1 -1l-14.9 -3l-14.4 -5l-13.6 -6.8l-12.6 -8.6l-11.4 -10.1l-10.1 -11.6l-8.4 -12.8l-6.7 -13.8l-4.9 -14.6l-2.9 -15.1l-1 -15.4l1 -15.4l2.9 -15.1l4.9 -14.6l6.7 -13.8l8.4 -12.8l10.1 -11.6l11.4 -10.1l12.6 -8.6l13.6 -6.8l14.4 -5l14.9 -3l15.1 -1l15.1 1l14.9 3l14.4 5l13.6 6.8l12.6 8.6l11.4 10.1l10.1 11.6l8.4 12.8l6.7 13.8l4.9 14.6l2.9 15.1z"/>
<path fill="#ff2c00" d="M455.4 517.5l-1 15.2l-2.9 15l-4.8 14.4l-6.7 13.7l-8.3 12.7l-9.9 11.5l-11.3 10l-12.5 8.5l-13.5 6.8l-14.3 4.9l-14.7 2.9l-15 1l-15 -1l-14.7 -2.9l-14.3 -4.9l-13.5 -6.8l-12.5 -8.5l-11.3 -10l-9.9 -11.5l-8.3 -12.7l-6.7 -13.7l-4.8 -14.4l-2.9 -15l-1 -15.2l1 -15.2l2.9 -15l4.8 -14.4l6.7 -13.7l8.3 -12.7l9.9 -11.5l11.3 -10l12.5 -8.5l13.5 -6.8l14.3 -4.9l14.7 -2.9l15 -1l15 1l14.7 2.9l14.3 4.9l13.5 6.8l12.5 8.5l11.3 10l9.9 11.5l8.3 12.7l6.7 13.7l4.8 14.4l2.9 15z"/>
<path fill="#ff2400" d="M454.3 517.5l-1 15.1l-2.9 14.8l-4.8 14.3l-6.6 13.5l-8.2 12.6l-9.8 11.4l-11.2 9.9l-12.4 8.4l-13.4 6.7l-14 4.9l-14.6 2.9l-14.9 1l-14.9 -1l-14.6 -2.9l-14 -4.9l-13.4 -6.7l-12.4 -8.4l-11.2 -9.9l-9.8 -11.4l-8.2 -12.6l-6.6 -13.5l-4.8 -14.3l-2.9 -14.8l-1 -15.1l1 -15.1l2.9 -14.8l4.8 -14.3l6.6 -13.5l8.2 -12.6l9.8 -11.4l11.2 -9.9l12.4 -8.4l13.4 -6.7l14 -4.9l14.6 -2.9l14.9 -1l14.9 1l14.6 2.9l14 4.9l13.4 6.7l12.4 8.4l11.2 9.9l9.8 11.4l8.2 12.6l6.6 13.5l4.8 14.3l2.9 14.8z"/>
<path fill="#ff1c00" d="M453.2 517.5l-1 14.9l-2.9 14.7l-4.7 14.2l-6.5 13.4l-8.2 12.4l-9.7 11.3l-11.1 9.8l-12.3 8.3l-13.2 6.6l-13.9 4.9l-14.5 2.9l-14.7 1l-14.7 -1l-14.5 -2.9l-13.9 -4.9l-13.2 -6.6l-12.3 -8.3l-11.1 -9.8l-9.7 -11.3l-8.2 -12.4l-6.5 -13.4l-4.7 -14.2l-2.9 -14.7l-1 -14.9l1 -14.9l2.9 -14.7l4.7 -14.2l6.5 -13.4l8.2 -12.4l9.7 -11.3l11.1 -9.8l12.3 -8.3l13.2 -6.6l13.9 -4.9l14.5 -2.9l14.7 -1l14.7 1l14.5 2.9l13.9 4.9l13.2 6.6l12.3 8.3l11.1 9.8l9.7 11.3l8.2 12.4l6.5 13.4l4.7 14.2l2.9 14.7z"/>
<path fill="#ff1400" d="M452 517.5l-0.9 14.8l-2.9 14.5l-4.7 14l-6.4 13.3l-8.1 12.3l-9.6 11.1l-11 9.8l-12.1 8.2l-13.1 6.6l-13.8 4.7l-14.3 2.9l-14.6 1l-14.6 -1l-14.3 -2.9l-13.8 -4.7l-13.1 -6.6l-12.1 -8.2l-11 -9.8l-9.6 -11.1l-8.1 -12.3l-6.4 -13.3l-4.7 -14l-2.9 -14.5l-0.9 -14.8l0.9 -14.8l2.9 -14.5l4.7 -14l6.4 -13.3l8.1 -12.3l9.6 -11.1l11 -9.8l12.1 -8.2l13.1 -6.6l13.8 -4.7l14.3 -2.9l14.6 -1l14.6 1l14.3 2.9l13.8 4.7l13.1 6.6l12.1 8.2l11 9.8l9.6 11.1l8.1 12.3l6.4 13.3l4.7 14l2.9 14.5z"/>
<path fill="#ff0c00" d="M450.9 517.5l-1 14.6l-2.8 14.4l-4.6 13.9l-6.4 13.1l-8 12.2l-9.6 11l-10.8 9.7l-12 8.1l-13 6.5l-13.6 4.7l-14.2 2.9l-14.4 0.9l-14.4 -0.9l-14.2 -2.9l-13.6 -4.7l-13 -6.5l-12 -8.1l-10.8 -9.7l-9.6 -11l-8 -12.2l-6.4 -13.1l-4.6 -13.9l-2.8 -14.4l-1 -14.6l1 -14.6l2.8 -14.4l4.6 -13.9l6.4 -13.1l8 -12.2l9.6 -11l10.8 -9.7l12 -8.1l13 -6.5l13.6 -4.7l14.2 -2.9l14.4 -0.9l14.4 0.9l14.2 2.9l13.6 4.7l13 6.5l12 8.1l10.8 9.7l9.6 11l8 12.2l6.4 13.1l4.6 13.9l2.8 14.4z"/>
<path fill="#ff0400" d="M449.7 517.5l-0.9 14.5l-2.8 14.2l-4.6 13.7l-6.3 13l-8 12.1l-9.4 10.9l-10.7 9.5l-11.9 8.1l-12.8 6.4l-13.5 4.7l-14 2.8l-14.3 0.9l-14.3 -0.9l-14 -2.8l-13.5 -4.7l-12.8 -6.4l-11.9 -8.1l-10.7 -9.5l-9.4 -10.9l-8 -12.1l-6.3 -13l-4.6 -13.7l-2.8 -14.2l-0.9 -14.5l0.9 -14.5l2.8 -14.2l4.6 -13.7l6.3 -13l8 -12.1l9.4 -10.9l10.7 -9.5l11.9 -8.1l12.8 -6.4l13.5 -4.7l14 -2.8l14.3 -0.9l14.3 0.9l14 2.8l13.5 4.7l12.8 6.4l11.9 8.1l10.7 9.5l9.4 10.9l8 12.1l6.3 13l4.6 13.7l2.8 14.2z"/>
<path fill="#fb0000" d="M448.5 517.5l-0.9 14.3l-2.8 14.1l-4.5 13.5l-6.3 12.9l-7.8 11.9l-9.3 10.8l-10.7 9.5l-11.7 7.9l-12.7 6.4l-13.3 4.6l-13.9 2.8l-14.1 0.9l-14.1 -0.9l-13.9 -2.8l-13.3 -4.6l-12.7 -6.4l-11.7 -7.9l-10.7 -9.5l-9.3 -10.8l-7.8 -11.9l-6.3 -12.9l-4.5 -13.5l-2.8 -14.1l-0.9 -14.3l0.9 -14.3l2.8 -14.1l4.5 -13.5l6.3 -12.9l7.8 -11.9l9.3 -10.8l10.7 -9.5l11.7 -7.9l12.7 -6.4l13.3 -4.6l13.9 -2.8l14.1 -0.9l14.1 0.9l13.9 2.8l13.3 4.6l12.7 6.4l11.7 7.9l10.7 9.5l9.3 10.8l7.8 11.9l6.3 12.9l4.5 13.5l2.8 14.1z"/>
<path fill="#f30000" d="M447.3 517.5l-0.9 14.1l-2.8 13.9l-4.5 13.5l-6.1 12.7l-7.8 11.8l-9.2 10.6l-10.5 9.4l-11.6 7.9l-12.5 6.2l-13.3 4.6l-13.7 2.7l-13.9 1l-13.9 -1l-13.7 -2.7l-13.3 -4.6l-12.5 -6.2l-11.6 -7.9l-10.5 -9.4l-9.2 -10.6l-7.8 -11.8l-6.1 -12.7l-4.5 -13.5l-2.8 -13.9l-0.9 -14.1l0.9 -14.1l2.8 -13.9l4.5 -13.5l6.1 -12.7l7.8 -11.8l9.2 -10.6l10.5 -9.4l11.6 -7.9l12.5 -6.2l13.3 -4.6l13.7 -2.7l13.9 -1l13.9 1l13.7 2.7l13.3 4.6l12.5 6.2l11.6 7.9l10.5 9.4l9.2 10.6l7.8 11.8l6.1 12.7l4.5 13.5l2.8 13.9z"/>
<path fill="#eb0000" d="M446 517.5l-0.9 14l-2.7 13.7l-4.4 13.3l-6.1 12.5l-7.7 11.7l-9.1 10.5l-10.4 9.3l-11.4 7.7l-12.4 6.2l-13.1 4.5l-13.5 2.8l-13.8 0.9l-13.8 -0.9l-13.5 -2.8l-13.1 -4.5l-12.4 -6.2l-11.4 -7.7l-10.4 -9.3l-9.1 -10.5l-7.7 -11.7l-6.1 -12.5l-4.4 -13.3l-2.7 -13.7l-0.9 -14l0.9 -14l2.7 -13.7l4.4 -13.3l6.1 -12.5l7.7 -11.7l9.1 -10.5l10.4 -9.3l11.4 -7.7l12.4 -6.2l13.1 -4.5l13.5 -2.8l13.8 -0.9l13.8 0.9l13.5 2.8l13.1 4.5l12.4 6.2l11.4 7.7l10.4 9.3l9.1 10.5l7.7 11.7l6.1 12.5l4.4 13.3l2.7 13.7z"/>
<path fill="#e30000" d="M444.8 517.5l-0.9 13.8l-2.7 13.6l-4.4 13.1l-6 12.4l-7.6 11.5l-9 10.4l-10.2 9.1l-11.4 7.7l-12.2 6.2l-12.9 4.4l-13.4 2.7l-13.6 0.9l-13.6 -0.9l-13.4 -2.7l-12.9 -4.4l-12.2 -6.2l-11.4 -7.7l-10.2 -9.1l-9 -10.4l-7.6 -11.5l-6 -12.4l-4.4 -13.1l-2.7 -13.6l-0.9 -13.8l0.9 -13.8l2.7 -13.6l4.4 -13.1l6 -12.4l7.6 -11.5l9 -10.4l10.2 -9.1l11.4 -7.7l12.2 -6.2l12.9 -4.4l13.4 -2.7l13.6 -0.9l13.6 0.9l13.4 2.7l12.9 4.4l12.2 6.2l11.4 7.7l10.2 9.1l9 10.4l7.6 11.5l6 12.4l4.4 13.1l2.7 13.6z"/>
<path fill="#db0000" d="M443.6 517.5l-0.9 13.7l-2.7 13.4l-4.3 12.9l-6 12.3l-7.4 11.4l-8.9 10.3l-10.2 9l-11.2 7.6l-12.1 6l-12.7 4.4l-13.2 2.7l-13.5 0.9l-13.5 -0.9l-13.2 -2.7l-12.7 -4.4l-12.1 -6l-11.2 -7.6l-10.2 -9l-8.9 -10.3l-7.4 -11.4l-6 -12.3l-4.3 -12.9l-2.7 -13.4l-0.9 -13.7l0.9 -13.7l2.7 -13.4l4.3 -12.9l6 -12.3l7.4 -11.4l8.9 -10.3l10.2 -9l11.2 -7.6l12.1 -6l12.7 -4.4l13.2 -2.7l13.5 -0.9l13.5 0.9l13.2 2.7l12.7 4.4l12.1 6l11.2 7.6l10.2 9l8.9 10.3l7.4 11.4l6 12.3l4.3 12.9l2.7 13.4z"/>
<path fill="#d30000" d="M442.4 517.5l-0.9 13.5l-2.6 13.3l-4.2 12.8l-5.9 12.1l-7.4 11.3l-8.8 10.1l-10.1 9l-11 7.5l-12 6l-12.6 4.3l-13.1 2.7l-13.3 0.8l-13.3 -0.8l-13.1 -2.7l-12.6 -4.3l-12 -6l-11 -7.5l-10.1 -9l-8.8 -10.1l-7.4 -11.3l-5.9 -12.1l-4.2 -12.8l-2.6 -13.3l-0.9 -13.5l0.9 -13.5l2.6 -13.3l4.2 -12.8l5.9 -12.1l7.4 -11.3l8.8 -10.1l10.1 -9l11 -7.5l12 -6l12.6 -4.3l13.1 -2.7l13.3 -0.8l13.3 0.8l13.1 2.7l12.6 4.3l12 6l11 7.5l10.1 9l8.8 10.1l7.4 11.3l5.9 12.1l4.2 12.8l2.6 13.3z"/>
<path fill="#cb0000" d="M441.1 517.5l-0.8 13.3l-2.6 13.1l-4.2 12.7l-5.8 12l-7.4 11.1l-8.6 10l-9.9 8.8l-11 7.5l-11.8 5.9l-12.5 4.3l-12.9 2.6l-13.1 0.9l-13.1 -0.9l-12.9 -2.6l-12.5 -4.3l-11.8 -5.9l-11 -7.5l-9.9 -8.8l-8.6 -10l-7.4 -11.1l-5.8 -12l-4.2 -12.7l-2.6 -13.1l-0.8 -13.3l0.8 -13.3l2.6 -13.1l4.2 -12.7l5.8 -12l7.4 -11.1l8.6 -10l9.9 -8.8l11 -7.5l11.8 -5.9l12.5 -4.3l12.9 -2.6l13.1 -0.9l13.1 0.9l12.9 2.6l12.5 4.3l11.8 5.9l11 7.5l9.9 8.8l8.6 10l7.4 11.1l5.8 12l4.2 12.7l2.6 13.1z"/>
<path fill="#c30000" d="M439.4 517.5l-0.9 13.1l-2.5 12.9l-4.2 12.4l-5.7 11.8l-7.2 10.9l-8.5 9.9l-9.7 8.6l-10.8 7.3l-11.6 5.8l-12.2 4.2l-12.7 2.6l-12.9 0.8l-12.9 -0.8l-12.7 -2.6l-12.2 -4.2l-11.6 -5.8l-10.8 -7.3l-9.7 -8.6l-8.5 -9.9l-7.2 -10.9l-5.7 -11.8l-4.2 -12.4l-2.5 -12.9l-0.9 -13.1l0.9 -13.1l2.5 -12.9l4.2 -12.4l5.7 -11.8l7.2 -10.9l8.5 -9.9l9.7 -8.6l10.8 -7.3l11.6 -5.8l12.2 -4.2l12.7 -2.6l12.9 -0.8l12.9 0.8l12.7 2.6l12.2 4.2l11.6 5.8l10.8 7.3l9.7 8.6l8.5 9.9l7.2 10.9l5.7 11.8l4.2 12.4l2.5 12.9z"/>
<path fill="#bb0000" d="M437.2 517.5l-0.8 12.8l-2.5 12.6l-4.1 12.2l-5.5 11.5l-7.1 10.7l-8.3 9.6l-9.5 8.5l-10.5 7.1l-11.4 5.7l-12 4.1l-12.4 2.5l-12.6 0.9l-12.6 -0.9l-12.4 -2.5l-12 -4.1l-11.4 -5.7l-10.5 -7.1l-9.5 -8.5l-8.3 -9.6l-7.1 -10.7l-5.5 -11.5l-4.1 -12.2l-2.5 -12.6l-0.8 -12.8l0.8 -12.8l2.5 -12.6l4.1 -12.2l5.5 -11.5l7.1 -10.7l8.3 -9.6l9.5 -8.5l10.5 -7.1l11.4 -5.7l12 -4.1l12.4 -2.5l12.6 -0.9l12.6 0.9l12.4 2.5l12 4.1l11.4 5.7l10.5 7.1l9.5 8.5l8.3 9.6l7.1 10.7l5.5 11.5l4.1 12.2l2.5 12.6z"/>
<path fill="#b30000" d="M434.6 517.5l-0.8 12.5l-2.4 12.2l-3.9 11.9l-5.5 11.2l-6.8 10.4l-8.1 9.4l-9.3 8.2l-10.2 7l-11.1 5.5l-11.6 4l-12.1 2.4l-12.3 0.9l-12.3 -0.9l-12.1 -2.4l-11.6 -4l-11.1 -5.5l-10.2 -7l-9.3 -8.2l-8.1 -9.4l-6.8 -10.4l-5.5 -11.2l-3.9 -11.9l-2.4 -12.2l-0.8 -12.5l0.8 -12.5l2.4 -12.2l3.9 -11.9l5.5 -11.2l6.8 -10.4l8.1 -9.4l9.3 -8.2l10.2 -7l11.1 -5.5l11.6 -4l12.1 -2.4l12.3 -0.9l12.3 0.9l12.1 2.4l11.6 4l11.1 5.5l10.2 7l9.3 8.2l8.1 9.4l6.8 10.4l5.5 11.2l3.9 11.9l2.4 12.2z"/>
<path fill="#ab0000" d="M431.4 517.5l-0.8 12l-2.3 11.9l-3.8 11.4l-5.3 10.8l-6.6 10.1l-7.8 9.1l-9 7.9l-9.8 6.7l-10.7 5.4l-11.3 3.8l-11.6 2.4l-11.9 0.8l-11.9 -0.8l-11.6 -2.4l-11.3 -3.8l-10.7 -5.4l-9.8 -6.7l-9 -7.9l-7.8 -9.1l-6.6 -10.1l-5.3 -10.8l-3.8 -11.4l-2.3 -11.9l-0.8 -12l0.8 -12l2.3 -11.9l3.8 -11.4l5.3 -10.8l6.6 -10.1l7.8 -9.1l9 -7.9l9.8 -6.7l10.7 -5.4l11.3 -3.8l11.6 -2.4l11.9 -0.8l11.9 0.8l11.6 2.4l11.3 3.8l10.7 5.4l9.8 6.7l9 7.9l7.8 9.1l6.6 10.1l5.3 10.8l3.8 11.4l2.3 11.9z"/>
<path fill="#a30000" d="M427.4 517.5l-0.8 11.5l-2.2 11.3l-3.6 10.9l-5.1 10.4l-6.3 9.6l-7.5 8.6l-8.5 7.6l-9.5 6.5l-10.2 5.1l-10.7 3.7l-11.2 2.2l-11.3 0.8l-11.3 -0.8l-11.2 -2.2l-10.7 -3.7l-10.2 -5.1l-9.5 -6.5l-8.5 -7.6l-7.5 -8.6l-6.3 -9.6l-5.1 -10.4l-3.6 -10.9l-2.2 -11.3l-0.8 -11.5l0.8 -11.5l2.2 -11.3l3.6 -10.9l5.1 -10.4l6.3 -9.6l7.5 -8.6l8.5 -7.6l9.5 -6.5l10.2 -5.1l10.7 -3.7l11.2 -2.2l11.3 -0.8l11.3 0.8l11.2 2.2l10.7 3.7l10.2 5.1l9.5 6.5l8.5 7.6l7.5 8.6l6.3 9.6l5.1 10.4l3.6 10.9l2.2 11.3z"/>
<path fill="#9b0000" d="M422.5 517.5l-0.7 10.9l-2.1 10.6l-3.4 10.4l-4.8 9.7l-5.9 9.1l-7.1 8.2l-8.1 7.1l-8.9 6.1l-9.6 4.8l-10.2 3.5l-10.5 2.1l-10.7 0.7l-10.7 -0.7l-10.5 -2.1l-10.2 -3.5l-9.6 -4.8l-8.9 -6.1l-8.1 -7.1l-7.1 -8.2l-5.9 -9.1l-4.8 -9.7l-3.4 -10.4l-2.1 -10.6l-0.7 -10.9l0.7 -10.9l2.1 -10.6l3.4 -10.4l4.8 -9.7l5.9 -9.1l7.1 -8.2l8.1 -7.1l8.9 -6.1l9.6 -4.8l10.2 -3.5l10.5 -2.1l10.7 -0.7l10.7 0.7l10.5 2.1l10.2 3.5l9.6 4.8l8.9 6.1l8.1 7.1l7.1 8.2l5.9 9.1l4.8 9.7l3.4 10.4l2.1 10.6z"/>
<path fill="#930000" d="M414 517.5l-0.7 9.7l-1.8 9.6l-3.1 9.2l-4.3 8.8l-5.3 8.1l-6.4 7.3l-7.2 6.5l-8 5.4l-8.6 4.3l-9.1 3.1l-9.4 1.9l-9.6 0.7l-9.6 -0.7l-9.4 -1.9l-9.1 -3.1l-8.6 -4.3l-8 -5.4l-7.2 -6.5l-6.4 -7.3l-5.3 -8.1l-4.3 -8.8l-3.1 -9.2l-1.8 -9.6l-0.7 -9.7l0.7 -9.7l1.8 -9.6l3.1 -9.2l4.3 -8.8l5.3 -8.1l6.4 -7.3l7.2 -6.5l8 -5.4l8.6 -4.3l9.1 -3.1l9.4 -1.9l9.6 -0.7l9.6 0.7l9.4 1.9l9.1 3.1l8.6 4.3l8 5.4l7.2 6.5l6.4 7.3l5.3 8.1l4.3 8.8l3.1 9.2l1.8 9.6z"/>
<path fill="#8b0000" d="M393.8 517.5l-0.5 7.1l-1.4 6.9l-2.2 6.7l-3.1 6.3l-3.8 5.9l-4.6 5.3l-5.3 4.7l-5.8 3.9l-6.2 3.1l-6.6 2.3l-6.8 1.4l-7 0.5l-7 -0.5l-6.8 -1.4l-6.6 -2.3l-6.2 -3.1l-5.8 -3.9l-5.3 -4.7l-4.6 -5.3l-3.8 -5.9l-3.1 -6.3l-2.2 -6.7l-1.4 -6.9l-0.5 -7.1l0.5 -7.1l1.4 -6.9l2.2 -6.7l3.1 -6.3l3.8 -5.9l4.6 -5.3l5.3 -4.7l5.8 -3.9l6.2 -3.1l6.6 -2.3l6.8 -1.4l7 -0.5l7 0.5l6.8 1.4l6.6 2.3l6.2 3.1l5.8 3.9l5.3 4.7l4.6 5.3l3.8 5.9l3.1 6.3l2.2 6.7l1.4 6.9z"/>
</g></g>
<defs><clipPath id="cb"><rect x="949.2" y="292.6" width="478.3" height="449"/></clipPath></defs>
<defs><filter id="fcb" filterUnits="userSpaceOnUse" x="919.2" y="262.6" width="538.3" height="509" color-interpolation-filters="sRGB"><feGaussianBlur stdDeviation="1.6"/></filter></defs>
<g clip-path="url(#cb)"><g filter="url(#fcb)">
<rect x="919.2" y="262.6" width="538.3" height="509" fill="#00008c"/>
<path fill="#000093" d="M1463.6 520l-1.5 75.1l-4.5 41.1l-7.6 33l-10.5 27.7l-13.7 23.7l-16.8 20.1l-20.1 16.8l-23.7 13.7l-27.7 10.5l-33 7.6l-41.1 4.5l-75.1 1.5l-75.1 -1.5l-41.1 -4.5l-33 -7.6l-27.7 -10.5l-23.7 -13.7l-20.1 -16.8l-16.8 -20.1l-13.7 -23.7l-10.5 -27.7l-7.6 -33l-4.5 -41.1l-1.5 -75.1l1.5 -75.1l4.5 -41.1l7.6 -33l10.5 -27.7l13.7 -23.7l16.8 -20.1l20.1 -16.8l23.7 -13.7l27.7 -10.5l33 -7.6l41.1 -4.5l75.1 -1.5l75.1 1.5l41.1 4.5l33 7.6l27.7 10.5l23.7 13.7l20.1 16.8l16.8 20.1l13.7 23.7l10.5 27.7l7.6 33l4.5 41.1z"/>
<path fill="#00009b" d="M1450.7 520l-1.4 74.1l-4.2 39.3l-7 31.1l-9.8 26.1l-12.7 22.2l-15.7 18.8l-18.8 15.7l-22.2 12.7l-26.1 9.8l-31.1 7l-39.3 4.2l-74.1 1.4l-74.1 -1.4l-39.3 -4.2l-31.1 -7l-26.1 -9.8l-22.2 -12.7l-18.8 -15.7l-15.7 -18.8l-12.7 -22.2l-9.8 -26.1l-7 -31.1l-4.2 -39.3l-1.4 -74.1l1.4 -74.1l4.2 -39.3l7 -31.1l9.8 -26.1l12.7 -22.2l15.7 -18.8l18.8 -15.7l22.2 -12.7l26.1 -9.8l31.1 -7l39.3 -4.2l74.1 -1.4l74.1 1.4l39.3 4.2l31.1 7l26.1 9.8l22.2 12.7l18.8 15.7l15.7 18.8l12.7 22.2l9.8 26.1l7 31.1l4.2 39.3z"/>
<path fill="#0000a3" d="M1441.4 520l-1.3 74.1l-3.9 37.9l-6.6 29.8l-9.2 24.8l-12 21l-14.7 17.8l-17.8 14.7l-21 12l-24.8 9.2l-29.8 6.6l-37.9 3.9l-74.1 1.3l-74.1 -1.3l-37.9 -3.9l-29.8 -6.6l-24.8 -9.2l-21 -12l-17.8 -14.7l-14.7 -17.8l-12 -21l-9.2 -24.8l-6.6 -29.8l-3.9 -37.9l-1.3 -74.1l1.3 -74.1l3.9 -37.9l6.6 -29.8l9.2 -24.8l12 -21l14.7 -17.8l17.8 -14.7l21 -12l24.8 -9.2l29.8 -6.6l37.9 -3.9l74.1 -1.3l74.1 1.3l37.9 3.9l29.8 6.6l24.8 9.2l21 12l17.8 14.7l14.7 17.8l12 21l9.2 24.8l6.6 29.8l3.9 37.9z"/>
<path fill="#0000ab" d="M1435 520l-1.2 75.6l-3.7 36.9l-6.2 28.7l-8.6 23.7l-11.3 20l-14 16.8l-16.8 14l-20 11.3l-23.7 8.6l-28.7 6.2l-36.9 3.7l-75.6 1.2l-75.6 -1.2l-36.9 -3.7l-28.7 -6.2l-23.7 -8.6l-20 -11.3l-16.8 -14l-14 -16.8l-11.3 -20l-8.6 -23.7l-6.2 -28.7l-3.7 -36.9l-1.2 -75.6l1.2 -75.6l3.7 -36.9l6.2 -28.7l8.6 -23.7l11.3 -20l14 -16.8l16.8 -14l20 -11.3l23.7 -8.6l28.7 -6.2l36.9 -3.7l75.6 -1.2l75.6 1.2l36.9 3.7l28.7 6.2l23.7 8.6l20 11.3l16.8 14l14 16.8l11.3 20l8.6 23.7l6.2 28.7l3.7 36.9z"/>
<path fill="#0000b3" d="M1429.2 520l-1.2 77.4l-3.5 35.9l-5.7 27.7l-8.2 22.6l-10.6 19l-13.2 15.9l-15.9 13.2l-19 10.6l-22.6 8.2l-27.7 5.7l-35.9 3.5l-77.4 1.2l-77.4 -1.2l-35.9 -3.5l-27.7 -5.7l-22.6 -8.2l-19 -10.6l-15.9 -13.2l-13.2 -15.9l-10.6 -19l-8.2 -22.6l-5.7 -27.7l-3.5 -35.9l-1.2 -77.4l1.2 -77.4l3.5 -35.9l5.7 -27.7l8.2 -22.6l10.6 -19l13.2 -15.9l15.9 -13.2l19 -10.6l22.6 -8.2l27.7 -5.7l35.9 -3.5l77.4 -1.2l77.4 1.2l35.9 3.5l27.7 5.7l22.6 8.2l19 10.6l15.9 13.2l13.2 15.9l10.6 19l8.2 22.6l5.7 27.7l3.5 35.9z"/>
<path fill="#0000bb" d="M1423.1 520l-1.1 78.7l-3.2 34.9l-5.5 26.6l-7.6 21.6l-10 18.1l-12.5 15l-15 12.5l-18.1 10l-21.6 7.6l-26.6 5.5l-34.9 3.2l-78.7 1.1l-78.7 -1.1l-34.9 -3.2l-26.6 -5.5l-21.6 -7.6l-18.1 -10l-15 -12.5l-12.5 -15l-10 -18.1l-7.6 -21.6l-5.5 -26.6l-3.2 -34.9l-1.1 -78.7l1.1 -78.7l3.2 -34.9l5.5 -26.6l7.6 -21.6l10 -18.1l12.5 -15l15 -12.5l18.1 -10l21.6 -7.6l26.6 -5.5l34.9 -3.2l78.7 -1.1l78.7 1.1l34.9 3.2l26.6 5.5l21.6 7.6l18.1 10l15 12.5l12.5 15l10 18.1l7.6 21.6l5.5 26.6l3.2 34.9z"/>
<path fill="#0000c3" d="M1417.6 520l-1 79.2l-3.1 34l-5.2 25.7l-7.3 20.8l-9.5 17.3l-11.8 14.4l-14.4 11.8l-17.3 9.5l-20.8 7.3l-25.7 5.2l-34 3.1l-79.2 1l-79.2 -1l-34 -3.1l-25.7 -5.2l-20.8 -7.3l-17.3 -9.5l-14.4 -11.8l-11.8 -14.4l-9.5 -17.3l-7.3 -20.8l-5.2 -25.7l-3.1 -34l-1 -79.2l1 -79.2l3.1 -34l5.2 -25.7l7.3 -20.8l9.5 -17.3l11.8 -14.4l14.4 -11.8l17.3 -9.5l20.8 -7.3l25.7 -5.2l34 -3.1l79.2 -1l79.2 1l34 3.1l25.7 5.2l20.8 7.3l17.3 9.5l14.4 11.8l11.8 14.4l9.5 17.3l7.3 20.8l5.2 25.7l3.1 34z"/>
<path fill="#0000cb" d="M1413.1 520l-0.9 79.6l-3 33.2l-5 25l-7 20.1l-9.1 16.7l-11.4 13.8l-13.8 11.4l-16.7 9.1l-20.1 7l-25 5l-33.2 3l-79.6 0.9l-79.6 -0.9l-33.2 -3l-25 -5l-20.1 -7l-16.7 -9.1l-13.8 -11.4l-11.4 -13.8l-9.1 -16.7l-7 -20.1l-5 -25l-3 -33.2l-0.9 -79.6l0.9 -79.6l3 -33.2l5 -25l7 -20.1l9.1 -16.7l11.4 -13.8l13.8 -11.4l16.7 -9.1l20.1 -7l25 -5l33.2 -3l79.6 -0.9l79.6 0.9l33.2 3l25 5l20.1 7l16.7 9.1l13.8 11.4l11.4 13.8l9.1 16.7l7 20.1l5 25l3 33.2z"/>
<path fill="#0000d3" d="M1409.5 520l-1 80l-2.8 32.6l-4.8 24.3l-6.8 19.6l-8.8 16.1l-11 13.4l-13.4 11l-16.1 8.8l-19.6 6.8l-24.3 4.8l-32.6 2.8l-80 1l-80 -1l-32.6 -2.8l-24.3 -4.8l-19.6 -6.8l-16.1 -8.8l-13.4 -11l-11 -13.4l-8.8 -16.1l-6.8 -19.6l-4.8 -24.3l-2.8 -32.6l-1 -80l1 -80l2.8 -32.6l4.8 -24.3l6.8 -19.6l8.8 -16.1l11 -13.4l13.4 -11l16.1 -8.8l19.6 -6.8l24.3 -4.8l32.6 -2.8l80 -1l80 1l32.6 2.8l24.3 4.8l19.6 6.8l16.1 8.8l13.4 11l11 13.4l8.8 16.1l6.8 19.6l4.8 24.3l2.8 32.6z"/>
<path fill="#0000db" d="M1406.3 520l-0.9 80.5l-2.8 32l-4.6 23.7l-6.5 19.1l-8.5 15.7l-10.7 13l-13 10.7l-15.7 8.5l-19.1 6.5l-23.7 4.6l-32 2.8l-80.5 0.9l-80.5 -0.9l-32 -2.8l-23.7 -4.6l-19.1 -6.5l-15.7 -8.5l-13 -10.7l-10.7 -13l-8.5 -15.7l-6.5 -19.1l-4.6 -23.7l-2.8 -32l-0.9 -80.5l0.9 -80.5l2.8 -32l4.6 -23.7l6.5 -19.1l8.5 -15.7l10.7 -13l13 -10.7l15.7 -8.5l19.1 -6.5l23.7 -4.6l32 -2.8l80.5 -0.9l80.5 0.9l32 2.8l23.7 4.6l19.1 6.5l15.7 8.5l13 10.7l10.7 13l8.5 15.7l6.5 19.1l4.6 23.7l2.8 32z"/>
<path fill="#0000e3" d="M1403.5 520l-0.9 80.8l-2.7 31.5l-4.4 23.3l-6.4 18.6l-8.3 15.3l-10.3 12.7l-12.7 10.3l-15.3 8.3l-18.6 6.4l-23.3 4.4l-31.5 2.7l-80.8 0.9l-80.8 -0.9l-31.5 -2.7l-23.3 -4.4l-18.6 -6.4l-15.3 -8.3l-12.7 -10.3l-10.3 -12.7l-8.3 -15.3l-6.4 -18.6l-4.4 -23.3l-2.7 -31.5l-0.9 -80.8l0.9 -80.8l2.7 -31.5l4.4 -23.3l6.4 -18.6l8.3 -15.3l10.3 -12.7l12.7 -10.3l15.3 -8.3l18.6 -6.4l23.3 -4.4l31.5 -2.7l80.8 -0.9l80.8 0.9l31.5 2.7l23.3 4.4l18.6 6.4l15.3 8.3l12.7 10.3l10.3 12.7l8.3 15.3l6.4 18.6l4.4 23.3l2.7 31.5z"/>
<path fill="#0000eb" d="M1401 520l-0.9 81.1l-2.6 31.1l-4.4 22.8l-6.1 18.2l-8.1 14.9l-10.1 12.4l-12.4 10.1l-14.9 8.1l-18.2 6.1l-22.8 4.4l-31.1 2.6l-81.1 0.9l-81.1 -0.9l-31.1 -2.6l-22.8 -4.4l-18.2 -6.1l-14.9 -8.1l-12.4 -10.1l-10.1 -12.4l-8.1 -14.9l-6.1 -18.2l-4.4 -22.8l-2.6 -31.1l-0.9 -81.1l0.9 -81.1l2.6 -31.1l4.4 -22.8l6.1 -18.2l8.1 -14.9l10.1 -12.4l12.4 -10.1l14.9 -8.1l18.2 -6.1l22.8 -4.4l31.1 -2.6l81.1 -0.9l81.1 0.9l31.1 2.6l22.8 4.4l18.2 6.1l14.9 8.1l12.4 10.1l10.1 12.4l8.1 14.9l6.1 18.2l4.4 22.8l2.6 31.1z"/>
<path fill="#0000f3" d="M1398.6 520l-0.9 81.4l-2.5 30.6l-4.2 22.4l-6.1 17.8l-7.8 14.6l-9.9 12.1l-12.1 9.9l-14.6 7.8l-17.8 6.1l-22.4 4.2l-30.6 2.5l-81.4 0.9l-81.4 -0.9l-30.6 -2.5l-22.4 -4.2l-17.8 -6.1l-14.6 -7.8l-12.1 -9.9l-9.9 -12.1l-7.8 -14.6l-6.1 -17.8l-4.2 -22.4l-2.5 -30.6l-0.9 -81.4l0.9 -81.4l2.5 -30.6l4.2 -22.4l6.1 -17.8l7.8 -14.6l9.9 -12.1l12.1 -9.9l14.6 -7.8l17.8 -6.1l22.4 -4.2l30.6 -2.5l81.4 -0.9l81.4 0.9l30.6 2.5l22.4 4.2l17.8 6.1l14.6 7.8l12.1 9.9l9.9 12.1l7.8 14.6l6.1 17.8l4.2 22.4l2.5 30.6z"/>
<path fill="#0000fb" d="M1396.4 520l-0.8 81.5l-2.5 30.2l-4.2 22l-5.8 17.6l-7.7 14.3l-9.7 11.8l-11.8 9.7l-14.3 7.7l-17.6 5.8l-22 4.2l-30.2 2.5l-81.5 0.8l-81.5 -0.8l-30.2 -2.5l-22 -4.2l-17.6 -5.8l-14.3 -7.7l-11.8 -9.7l-9.7 -11.8l-7.7 -14.3l-5.8 -17.6l-4.2 -22l-2.5 -30.2l-0.8 -81.5l0.8 -81.5l2.5 -30.2l4.2 -22l5.8 -17.6l7.7 -14.3l9.7 -11.8l11.8 -9.7l14.3 -7.7l17.6 -5.8l22 -4.2l30.2 -2.5l81.5 -0.8l81.5 0.8l30.2 2.5l22 4.2l17.6 5.8l14.3 7.7l11.8 9.7l9.7 11.8l7.7 14.3l5.8 17.6l4.2 22l2.5 30.2z"/>
<path fill="#0004ff" d="M1394.3 520l-0.8 81.6l-2.4 29.8l-4.1 21.7l-5.7 17.2l-7.6 14.1l-9.4 11.6l-11.6 9.4l-14.1 7.6l-17.2 5.7l-21.7 4.1l-29.8 2.4l-81.6 0.8l-81.6 -0.8l-29.8 -2.4l-21.7 -4.1l-17.2 -5.7l-14.1 -7.6l-11.6 -9.4l-9.4 -11.6l-7.6 -14.1l-5.7 -17.2l-4.1 -21.7l-2.4 -29.8l-0.8 -81.6l0.8 -81.6l2.4 -29.8l4.1 -21.7l5.7 -17.2l7.6 -14.1l9.4 -11.6l11.6 -9.4l14.1 -7.6l17.2 -5.7l21.7 -4.1l29.8 -2.4l81.6 -0.8l81.6 0.8l29.8 2.4l21.7 4.1l17.2 5.7l14.1 7.6l11.6 9.4l9.4 11.6l7.6 14.1l5.7 17.2l4.1 21.7l2.4 29.8z"/>
<path fill="#000cff" d="M1392.4 520l-0.8 81.7l-2.3 29.5l-4 21.3l-5.7 17l-7.4 13.8l-9.2 11.4l-11.4 9.2l-13.8 7.4l-17 5.7l-21.3 4l-29.5 2.3l-81.7 0.8l-81.7 -0.8l-29.5 -2.3l-21.3 -4l-17 -5.7l-13.8 -7.4l-11.4 -9.2l-9.2 -11.4l-7.4 -13.8l-5.7 -17l-4 -21.3l-2.3 -29.5l-0.8 -81.7l0.8 -81.7l2.3 -29.5l4 -21.3l5.7 -17l7.4 -13.8l9.2 -11.4l11.4 -9.2l13.8 -7.4l17 -5.7l21.3 -4l29.5 -2.3l81.7 -0.8l81.7 0.8l29.5 2.3l21.3 4l17 5.7l13.8 7.4l11.4 9.2l9.2 11.4l7.4 13.8l5.7 17l4 21.3l2.3 29.5z"/>
<path fill="#0014ff" d="M1390.7 520l-0.7 81.8l-2.4 29.2l-3.9 21l-5.5 16.7l-7.3 13.6l-9.1 11.2l-11.2 9.1l-13.6 7.3l-16.7 5.5l-21 3.9l-29.2 2.4l-81.8 0.7l-81.8 -0.7l-29.2 -2.4l-21 -3.9l-16.7 -5.5l-13.6 -7.3l-11.2 -9.1l-9.1 -11.2l-7.3 -13.6l-5.5 -16.7l-3.9 -21l-2.4 -29.2l-0.7 -81.8l0.7 -81.8l2.4 -29.2l3.9 -21l5.5 -16.7l7.3 -13.6l9.1 -11.2l11.2 -9.1l13.6 -7.3l16.7 -5.5l21 -3.9l29.2 -2.4l81.8 -0.7l81.8 0.7l29.2 2.4l21 3.9l16.7 5.5l13.6 7.3l11.2 9.1l9.1 11.2l7.3 13.6l5.5 16.7l3.9 21l2.4 29.2z"/>
<path fill="#001cff" d="M1389.2 520l-0.8 81.9l-2.3 28.8l-3.8 20.9l-5.4 16.4l-7.2 13.4l-9 11l-11 9l-13.4 7.2l-16.4 5.4l-20.9 3.8l-28.8 2.3l-81.9 0.8l-81.9 -0.8l-28.8 -2.3l-20.9 -3.8l-16.4 -5.4l-13.4 -7.2l-11 -9l-9 -11l-7.2 -13.4l-5.4 -16.4l-3.8 -20.9l-2.3 -28.8l-0.8 -81.9l0.8 -81.9l2.3 -28.8l3.8 -20.9l5.4 -16.4l7.2 -13.4l9 -11l11 -9l13.4 -7.2l16.4 -5.4l20.9 -3.8l28.8 -2.3l81.9 -0.8l81.9 0.8l28.8 2.3l20.9 3.8l16.4 5.4l13.4 7.2l11 9l9 11l7.2 13.4l5.4 16.4l3.8 20.9l2.3 28.8z"/>
<path fill="#0024ff" d="M1387.7 520l-0.7 82l-2.3 28.5l-3.7 20.6l-5.4 16.3l-7 13.2l-8.9 10.8l-10.8 8.9l-13.2 7l-16.3 5.4l-20.6 3.7l-28.5 2.3l-82 0.7l-82 -0.7l-28.5 -2.3l-20.6 -3.7l-16.3 -5.4l-13.2 -7l-10.8 -8.9l-8.9 -10.8l-7 -13.2l-5.4 -16.3l-3.7 -20.6l-2.3 -28.5l-0.7 -82l0.7 -82l2.3 -28.5l3.7 -20.6l5.4 -16.3l7 -13.2l8.9 -10.8l10.8 -8.9l13.2 -7l16.3 -5.4l20.6 -3.7l28.5 -2.3l82 -0.7l82 0.7l28.5 2.3l20.6 3.7l16.3 5.4l13.2 7l10.8 8.9l8.9 10.8l7 13.2l5.4 16.3l3.7 20.6l2.3 28.5z"/>
<path fill="#002cff" d="M1386.4 520l-0.8 82l-2.2 28.3l-3.7 20.4l-5.3 16l-6.9 13.1l-8.7 10.7l-10.7 8.7l-13.1 6.9l-16 5.3l-20.4 3.7l-28.3 2.2l-82 0.8l-82 -0.8l-28.3 -2.2l-20.4 -3.7l-16 -5.3l-13.1 -6.9l-10.7 -8.7l-8.7 -10.7l-6.9 -13.1l-5.3 -16l-3.7 -20.4l-2.2 -28.3l-0.8 -82l0.8 -82l2.2 -28.3l3.7 -20.4l5.3 -16l6.9 -13.1l8.7 -10.7l10.7 -8.7l13.1 -6.9l16 -5.3l20.4 -3.7l28.3 -2.2l82 -0.8l82 0.8l28.3 2.2l20.4 3.7l16 5.3l13.1 6.9l10.7 8.7l8.7 10.7l6.9 13.1l5.3 16l3.7 20.4l2.2 28.3z"/>
<path fill="#0034ff" d="M1385 520l-0.7 82.1l-2.2 28l-3.6 20.1l-5.2 15.9l-6.9 12.9l-8.6 10.5l-10.5 8.6l-12.9 6.9l-15.9 5.2l-20.1 3.6l-28 2.2l-82.1 0.7l-82.1 -0.7l-28 -2.2l-20.1 -3.6l-15.9 -5.2l-12.9 -6.9l-10.5 -8.6l-8.6 -10.5l-6.9 -12.9l-5.2 -15.9l-3.6 -20.1l-2.2 -28l-0.7 -82.1l0.7 -82.1l2.2 -28l3.6 -20.1l5.2 -15.9l6.9 -12.9l8.6 -10.5l10.5 -8.6l12.9 -6.9l15.9 -5.2l20.1 -3.6l28 -2.2l82.1 -0.7l82.1 0.7l28 2.2l20.1 3.6l15.9 5.2l12.9 6.9l10.5 8.6l8.6 10.5l6.9 12.9l5.2 15.9l3.6 20.1l2.2 28z"/>
<path fill="#003cff" d="M1383.8 520l-0.7 82.1l-2.2 27.8l-3.6 19.9l-5.2 15.7l-6.7 12.7l-8.5 10.4l-10.4 8.5l-12.7 6.7l-15.7 5.2l-19.9 3.6l-27.8 2.2l-82.1 0.7l-82.1 -0.7l-27.8 -2.2l-19.9 -3.6l-15.7 -5.2l-12.7 -6.7l-10.4 -8.5l-8.5 -10.4l-6.7 -12.7l-5.2 -15.7l-3.6 -19.9l-2.2 -27.8l-0.7 -82.1l0.7 -82.1l2.2 -27.8l3.6 -19.9l5.2 -15.7l6.7 -12.7l8.5 -10.4l10.4 -8.5l12.7 -6.7l15.7 -5.2l19.9 -3.6l27.8 -2.2l82.1 -0.7l82.1 0.7l27.8 2.2l19.9 3.6l15.7 5.2l12.7 6.7l10.4 8.5l8.5 10.4l6.7 12.7l5.2 15.7l3.6 19.9l2.2 27.8z"/>
<path fill="#0044ff" d="M1382.5 520l-0.7 82.1l-2.1 27.5l-3.6 19.8l-5 15.5l-6.7 12.5l-8.4 10.3l-10.3 8.4l-12.5 6.7l-15.5 5l-19.8 3.6l-27.5 2.1l-82.1 0.7l-82.1 -0.7l-27.5 -2.1l-19.8 -3.6l-15.5 -5l-12.5 -6.7l-10.3 -8.4l-8.4 -10.3l-6.7 -12.5l-5 -15.5l-3.6 -19.8l-2.1 -27.5l-0.7 -82.1l0.7 -82.1l2.1 -27.5l3.6 -19.8l5 -15.5l6.7 -12.5l8.4 -10.3l10.3 -8.4l12.5 -6.7l15.5 -5l19.8 -3.6l27.5 -2.1l82.1 -0.7l82.1 0.7l27.5 2.1l19.8 3.6l15.5 5l12.5 6.7l10.3 8.4l8.4 10.3l6.7 12.5l5 15.5l3.6 19.8l2.1 27.5z"/>
<path fill="#004cff" d="M1381.3 520l-0.7 82.1l-2.1 27.3l-3.5 19.5l-5 15.3l-6.6 12.5l-8.2 10.2l-10.2 8.2l-12.5 6.6l-15.3 5l-19.5 3.5l-27.3 2.1l-82.1 0.7l-82.1 -0.7l-27.3 -2.1l-19.5 -3.5l-15.3 -5l-12.5 -6.6l-10.2 -8.2l-8.2 -10.2l-6.6 -12.5l-5 -15.3l-3.5 -19.5l-2.1 -27.3l-0.7 -82.1l0.7 -82.1l2.1 -27.3l3.5 -19.5l5 -15.3l6.6 -12.5l8.2 -10.2l10.2 -8.2l12.5 -6.6l15.3 -5l19.5 -3.5l27.3 -2.1l82.1 -0.7l82.1 0.7l27.3 2.1l19.5 3.5l15.3 5l12.5 6.6l10.2 8.2l8.2 10.2l6.6 12.5l5 15.3l3.5 19.5l2.1 27.3z"/>
<path fill="#0054ff" d="M1380.1 520l-0.7 82l-2 27.1l-3.5 19.4l-5 15.1l-6.5 12.3l-8.1 10.1l-10.1 8.1l-12.3 6.5l-15.1 5l-19.4 3.5l-27.1 2l-82 0.7l-82 -0.7l-27.1 -2l-19.4 -3.5l-15.1 -5l-12.3 -6.5l-10.1 -8.1l-8.1 -10.1l-6.5 -12.3l-5 -15.1l-3.5 -19.4l-2 -27.1l-0.7 -82l0.7 -82l2 -27.1l3.5 -19.4l5 -15.1l6.5 -12.3l8.1 -10.1l10.1 -8.1l12.3 -6.5l15.1 -5l19.4 -3.5l27.1 -2l82 -0.7l82 0.7l27.1 2l19.4 3.5l15.1 5l12.3 6.5l10.1 8.1l8.1 10.1l6.5 12.3l5 15.1l3.5 19.4l2 27.1z"/>
<path fill="#005cff" d="M1378.9 520l-0.7 82l-2 26.9l-3.4 19.1l-4.9 15l-6.4 12.2l-8.1 9.9l-9.9 8.1l-12.2 6.4l-15 4.9l-19.1 3.4l-26.9 2l-82 0.7l-82 -0.7l-26.9 -2l-19.1 -3.4l-15 -4.9l-12.2 -6.4l-9.9 -8.1l-8.1 -9.9l-6.4 -12.2l-4.9 -15l-3.4 -19.1l-2 -26.9l-0.7 -82l0.7 -82l2 -26.9l3.4 -19.1l4.9 -15l6.4 -12.2l8.1 -9.9l9.9 -8.1l12.2 -6.4l15 -4.9l19.1 -3.4l26.9 -2l82 -0.7l82 0.7l26.9 2l19.1 3.4l15 4.9l12.2 6.4l9.9 8.1l8.1 9.9l6.4 12.2l4.9 15l3.4 19.1l2 26.9z"/>
<path fill="#0064ff" d="M1377.7 520l-0.6 82l-2 26.6l-3.4 19l-4.8 14.8l-6.4 12l-7.9 9.9l-9.9 7.9l-12 6.4l-14.8 4.8l-19 3.4l-26.6 2l-82 0.6l-82 -0.6l-26.6 -2l-19 -3.4l-14.8 -4.8l-12 -6.4l-9.9 -7.9l-7.9 -9.9l-6.4 -12l-4.8 -14.8l-3.4 -19l-2 -26.6l-0.6 -82l0.6 -82l2 -26.6l3.4 -19l4.8 -14.8l6.4 -12l7.9 -9.9l9.9 -7.9l12 -6.4l14.8 -4.8l19 -3.4l26.6 -2l82 -0.6l82 0.6l26.6 2l19 3.4l14.8 4.8l12 6.4l9.9 7.9l7.9 9.9l6.4 12l4.8 14.8l3.4 19l2 26.6z"/>
<path fill="#006cff" d="M1376.6 520l-0.7 81.9l-2 26.5l-3.3 18.7l-4.8 14.7l-6.2 11.9l-7.9 9.7l-9.7 7.9l-11.9 6.2l-14.7 4.8l-18.7 3.3l-26.5 2l-81.9 0.7l-81.9 -0.7l-26.5 -2l-18.7 -3.3l-14.7 -4.8l-11.9 -6.2l-9.7 -7.9l-7.9 -9.7l-6.2 -11.9l-4.8 -14.7l-3.3 -18.7l-2 -26.5l-0.7 -81.9l0.7 -81.9l2 -26.5l3.3 -18.7l4.8 -14.7l6.2 -11.9l7.9 -9.7l9.7 -7.9l11.9 -6.2l14.7 -4.8l18.7 -3.3l26.5 -2l81.9 -0.7l81.9 0.7l26.5 2l18.7 3.3l14.7 4.8l11.9 6.2l9.7 7.9l7.9 9.7l6.2 11.9l4.8 14.7l3.3 18.7l2 26.5z"/>
<path fill="#0074ff" d="M1375.4 520l-0.7 81.9l-1.9 26.2l-3.3 18.6l-4.7 14.5l-6.2 11.8l-7.8 9.5l-9.5 7.8l-11.8 6.2l-14.5 4.7l-18.6 3.3l-26.2 1.9l-81.9 0.7l-81.9 -0.7l-26.2 -1.9l-18.6 -3.3l-14.5 -4.7l-11.8 -6.2l-9.5 -7.8l-7.8 -9.5l-6.2 -11.8l-4.7 -14.5l-3.3 -18.6l-1.9 -26.2l-0.7 -81.9l0.7 -81.9l1.9 -26.2l3.3 -18.6l4.7 -14.5l6.2 -11.8l7.8 -9.5l9.5 -7.8l11.8 -6.2l14.5 -4.7l18.6 -3.3l26.2 -1.9l81.9 -0.7l81.9 0.7l26.2 1.9l18.6 3.3l14.5 4.7l11.8 6.2l9.5 7.8l7.8 9.5l6.2 11.8l4.7 14.5l3.3 18.6l1.9 26.2z"/>
<path fill="#007cff" d="M1374.2 520l-0.6 81.8l-2 26l-3.2 18.5l-4.6 14.3l-6.1 11.6l-7.7 9.5l-9.5 7.7l-11.6 6.1l-14.3 4.6l-18.5 3.2l-26 2l-81.8 0.6l-81.8 -0.6l-26 -2l-18.5 -3.2l-14.3 -4.6l-11.6 -6.1l-9.5 -7.7l-7.7 -9.5l-6.1 -11.6l-4.6 -14.3l-3.2 -18.5l-2 -26l-0.6 -81.8l0.6 -81.8l2 -26l3.2 -18.5l4.6 -14.3l6.1 -11.6l7.7 -9.5l9.5 -7.7l11.6 -6.1l14.3 -4.6l18.5 -3.2l26 -2l81.8 -0.6l81.8 0.6l26 2l18.5 3.2l14.3 4.6l11.6 6.1l9.5 7.7l7.7 9.5l6.1 11.6l4.6 14.3l3.2 18.5l2 26z"/>
<path fill="#0083ff" d="M1373.1 520l-0.6 81.8l-2 25.8l-3.2 18.2l-4.5 14.2l-6.1 11.5l-7.5 9.4l-9.4 7.5l-11.5 6.1l-14.2 4.5l-18.2 3.2l-25.8 2l-81.8 0.6l-81.8 -0.6l-25.8 -2l-18.2 -3.2l-14.2 -4.5l-11.5 -6.1l-9.4 -7.5l-7.5 -9.4l-6.1 -11.5l-4.5 -14.2l-3.2 -18.2l-2 -25.8l-0.6 -81.8l0.6 -81.8l2 -25.8l3.2 -18.2l4.5 -14.2l6.1 -11.5l7.5 -9.4l9.4 -7.5l11.5 -6.1l14.2 -4.5l18.2 -3.2l25.8 -2l81.8 -0.6l81.8 0.6l25.8 2l18.2 3.2l14.2 4.5l11.5 6.1l9.4 7.5l7.5 9.4l6.1 11.5l4.5 14.2l3.2 18.2l2 25.8z"/>
<path fill="#008bff" d="M1372 520l-0.7 81.9l-1.8 25.5l-3.2 18.1l-4.5 14l-6 11.3l-7.4 9.3l-9.3 7.4l-11.3 6l-14 4.5l-18.1 3.2l-25.5 1.8l-81.9 0.7l-81.9 -0.7l-25.5 -1.8l-18.1 -3.2l-14 -4.5l-11.3 -6l-9.3 -7.4l-7.4 -9.3l-6 -11.3l-4.5 -14l-3.2 -18.1l-1.8 -25.5l-0.7 -81.9l0.7 -81.9l1.8 -25.5l3.2 -18.1l4.5 -14l6 -11.3l7.4 -9.3l9.3 -7.4l11.3 -6l14 -4.5l18.1 -3.2l25.5 -1.8l81.9 -0.7l81.9 0.7l25.5 1.8l18.1 3.2l14 4.5l11.3 6l9.3 7.4l7.4 9.3l6 11.3l4.5 14l3.2 18.1l1.8 25.5z"/>
<path fill="#0093ff" d="M1370.9 520l-0.6 81.9l-1.9 25.4l-3.1 17.8l-4.5 13.9l-5.8 11.2l-7.4 9.1l-9.1 7.4l-11.2 5.8l-13.9 4.5l-17.8 3.1l-25.4 1.9l-81.9 0.6l-81.9 -0.6l-25.4 -1.9l-17.8 -3.1l-13.9 -4.5l-11.2 -5.8l-9.1 -7.4l-7.4 -9.1l-5.8 -11.2l-4.5 -13.9l-3.1 -17.8l-1.9 -25.4l-0.6 -81.9l0.6 -81.9l1.9 -25.4l3.1 -17.8l4.5 -13.9l5.8 -11.2l7.4 -9.1l9.1 -7.4l11.2 -5.8l13.9 -4.5l17.8 -3.1l25.4 -1.9l81.9 -0.6l81.9 0.6l25.4 1.9l17.8 3.1l13.9 4.5l11.2 5.8l9.1 7.4l7.4 9.1l5.8 11.2l4.5 13.9l3.1 17.8l1.9 25.4z"/>
<path fill="#009bff" d="M1369.8 520l-0.6 82l-1.8 25.1l-3.1 17.7l-4.4 13.7l-5.8 11.1l-7.2 9l-9 7.2l-11.1 5.8l-13.7 4.4l-17.7 3.1l-25.1 1.8l-82 0.6l-82 -0.6l-25.1 -1.8l-17.7 -3.1l-13.7 -4.4l-11.1 -5.8l-9 -7.2l-7.2 -9l-5.8 -11.1l-4.4 -13.7l-3.1 -17.7l-1.8 -25.1l-0.6 -82l0.6 -82l1.8 -25.1l3.1 -17.7l4.4 -13.7l5.8 -11.1l7.2 -9l9 -7.2l11.1 -5.8l13.7 -4.4l17.7 -3.1l25.1 -1.8l82 -0.6l82 0.6l25.1 1.8l17.7 3.1l13.7 4.4l11.1 5.8l9 7.2l7.2 9l5.8 11.1l4.4 13.7l3.1 17.7l1.8 25.1z"/>
<path fill="#00a3ff" d="M1368.7 520l-0.6 82.2l-1.8 24.8l-3 17.5l-4.3 13.6l-5.7 10.9l-7.2 8.8l-8.8 7.2l-10.9 5.7l-13.6 4.3l-17.5 3l-24.8 1.8l-82.2 0.6l-82.2 -0.6l-24.8 -1.8l-17.5 -3l-13.6 -4.3l-10.9 -5.7l-8.8 -7.2l-7.2 -8.8l-5.7 -10.9l-4.3 -13.6l-3 -17.5l-1.8 -24.8l-0.6 -82.2l0.6 -82.2l1.8 -24.8l3 -17.5l4.3 -13.6l5.7 -10.9l7.2 -8.8l8.8 -7.2l10.9 -5.7l13.6 -4.3l17.5 -3l24.8 -1.8l82.2 -0.6l82.2 0.6l24.8 1.8l17.5 3l13.6 4.3l10.9 5.7l8.8 7.2l7.2 8.8l5.7 10.9l4.3 13.6l3 17.5l1.8 24.8z"/>
<path fill="#00abff" d="M1367.7 520l-0.6 82.3l-1.8 24.7l-3 17.2l-4.2 13.4l-5.6 10.8l-7.1 8.7l-8.7 7.1l-10.8 5.6l-13.4 4.2l-17.2 3l-24.7 1.8l-82.3 0.6l-82.3 -0.6l-24.7 -1.8l-17.2 -3l-13.4 -4.2l-10.8 -5.6l-8.7 -7.1l-7.1 -8.7l-5.6 -10.8l-4.2 -13.4l-3 -17.2l-1.8 -24.7l-0.6 -82.3l0.6 -82.3l1.8 -24.7l3 -17.2l4.2 -13.4l5.6 -10.8l7.1 -8.7l8.7 -7.1l10.8 -5.6l13.4 -4.2l17.2 -3l24.7 -1.8l82.3 -0.6l82.3 0.6l24.7 1.8l17.2 3l13.4 4.2l10.8 5.6l8.7 7.1l7.1 8.7l5.6 10.8l4.2 13.4l3 17.2l1.8 24.7z"/>
<path fill="#00b3ff" d="M1366.7 520l-0.6 82.5l-1.8 24.4l-2.9 17l-4.2 13.3l-5.5 10.6l-7 8.6l-8.6 7l-10.6 5.5l-13.3 4.2l-17 2.9l-24.4 1.8l-82.5 0.6l-82.5 -0.6l-24.4 -1.8l-17 -2.9l-13.3 -4.2l-10.6 -5.5l-8.6 -7l-7 -8.6l-5.5 -10.6l-4.2 -13.3l-2.9 -17l-1.8 -24.4l-0.6 -82.5l0.6 -82.5l1.8 -24.4l2.9 -17l4.2 -13.3l5.5 -10.6l7 -8.6l8.6 -7l10.6 -5.5l13.3 -4.2l17 -2.9l24.4 -1.8l82.5 -0.6l82.5 0.6l24.4 1.8l17 2.9l13.3 4.2l10.6 5.5l8.6 7l7 8.6l5.5 10.6l4.2 13.3l2.9 17l1.8 24.4z"/>
<path fill="#00bbff" d="M1365.7 520l-0.6 82.6l-1.7 24.2l-2.9 16.9l-4.2 13l-5.4 10.5l-6.9 8.5l-8.5 6.9l-10.5 5.4l-13 4.2l-16.9 2.9l-24.2 1.7l-82.6 0.6l-82.6 -0.6l-24.2 -1.7l-16.9 -2.9l-13 -4.2l-10.5 -5.4l-8.5 -6.9l-6.9 -8.5l-5.4 -10.5l-4.2 -13l-2.9 -16.9l-1.7 -24.2l-0.6 -82.6l0.6 -82.6l1.7 -24.2l2.9 -16.9l4.2 -13l5.4 -10.5l6.9 -8.5l8.5 -6.9l10.5 -5.4l13 -4.2l16.9 -2.9l24.2 -1.7l82.6 -0.6l82.6 0.6l24.2 1.7l16.9 2.9l13 4.2l10.5 5.4l8.5 6.9l6.9 8.5l5.4 10.5l4.2 13l2.9 16.9l1.7 24.2z"/>
<path fill="#00c3ff" d="M1364.7 520l-0.6 82.7l-1.7 24l-2.8 16.7l-4.1 12.9l-5.4 10.3l-6.8 8.4l-8.4 6.8l-10.3 5.4l-12.9 4.1l-16.7 2.8l-24 1.7l-82.7 0.6l-82.7 -0.6l-24 -1.7l-16.7 -2.8l-12.9 -4.1l-10.3 -5.4l-8.4 -6.8l-6.8 -8.4l-5.4 -10.3l-4.1 -12.9l-2.8 -16.7l-1.7 -24l-0.6 -82.7l0.6 -82.7l1.7 -24l2.8 -16.7l4.1 -12.9l5.4 -10.3l6.8 -8.4l8.4 -6.8l10.3 -5.4l12.9 -4.1l16.7 -2.8l24 -1.7l82.7 -0.6l82.7 0.6l24 1.7l16.7 2.8l12.9 4.1l10.3 5.4l8.4 6.8l6.8 8.4l5.4 10.3l4.1 12.9l2.8 16.7l1.7 24z"/>
<path fill="#00cbff" d="M1363.7 520l-0.6 82.7l-1.6 23.8l-2.8 16.6l-4.1 12.7l-5.3 10.3l-6.7 8.2l-8.2 6.7l-10.3 5.3l-12.7 4.1l-16.6 2.8l-23.8 1.6l-82.7 0.6l-82.7 -0.6l-23.8 -1.6l-16.6 -2.8l-12.7 -4.1l-10.3 -5.3l-8.2 -6.7l-6.7 -8.2l-5.3 -10.3l-4.1 -12.7l-2.8 -16.6l-1.6 -23.8l-0.6 -82.7l0.6 -82.7l1.6 -23.8l2.8 -16.6l4.1 -12.7l5.3 -10.3l6.7 -8.2l8.2 -6.7l10.3 -5.3l12.7 -4.1l16.6 -2.8l23.8 -1.6l82.7 -0.6l82.7 0.6l23.8 1.6l16.6 2.8l12.7 4.1l10.3 5.3l8.2 6.7l6.7 8.2l5.3 10.3l4.1 12.7l2.8 16.6l1.6 23.8z"/>
<path fill="#00d3ff" d="M1362.7 520l-0.5 82.8l-1.7 23.6l-2.7 16.3l-4 12.6l-5.2 10.2l-6.6 8.2l-8.2 6.6l-10.2 5.2l-12.6 4l-16.3 2.7l-23.6 1.7l-82.8 0.5l-82.8 -0.5l-23.6 -1.7l-16.3 -2.7l-12.6 -4l-10.2 -5.2l-8.2 -6.6l-6.6 -8.2l-5.2 -10.2l-4 -12.6l-2.7 -16.3l-1.7 -23.6l-0.5 -82.8l0.5 -82.8l1.7 -23.6l2.7 -16.3l4 -12.6l5.2 -10.2l6.6 -8.2l8.2 -6.6l10.2 -5.2l12.6 -4l16.3 -2.7l23.6 -1.7l82.8 -0.5l82.8 0.5l23.6 1.7l16.3 2.7l12.6 4l10.2 5.2l8.2 6.6l6.6 8.2l5.2 10.2l4 12.6l2.7 16.3l1.7 23.6z"/>
<path fill="#00dbff" d="M1361.8 520l-0.5 82.8l-1.7 23.3l-2.7 16.3l-3.9 12.5l-5.2 10l-6.5 8.1l-8.1 6.5l-10 5.2l-12.5 3.9l-16.3 2.7l-23.3 1.7l-82.8 0.5l-82.8 -0.5l-23.3 -1.7l-16.3 -2.7l-12.5 -3.9l-10 -5.2l-8.1 -6.5l-6.5 -8.1l-5.2 -10l-3.9 -12.5l-2.7 -16.3l-1.7 -23.3l-0.5 -82.8l0.5 -82.8l1.7 -23.3l2.7 -16.3l3.9 -12.5l5.2 -10l6.5 -8.1l8.1 -6.5l10 -5.2l12.5 -3.9l16.3 -2.7l23.3 -1.7l82.8 -0.5l82.8 0.5l23.3 1.7l16.3 2.7l12.5 3.9l10 5.2l8.1 6.5l6.5 8.1l5.2 10l3.9 12.5l2.7 16.3l1.7 23.3z"/>
<path fill="#00e3ff" d="M1360.9 520l-0.6 82.7l-1.6 23.2l-2.7 16.1l-3.9 12.3l-5.1 9.9l-6.4 8.1l-8.1 6.4l-9.9 5.1l-12.3 3.9l-16.1 2.7l-23.2 1.6l-82.7 0.6l-82.7 -0.6l-23.2 -1.6l-16.1 -2.7l-12.3 -3.9l-9.9 -5.1l-8.1 -6.4l-6.4 -8.1l-5.1 -9.9l-3.9 -12.3l-2.7 -16.1l-1.6 -23.2l-0.6 -82.7l0.6 -82.7l1.6 -23.2l2.7 -16.1l3.9 -12.3l5.1 -9.9l6.4 -8.1l8.1 -6.4l9.9 -5.1l12.3 -3.9l16.1 -2.7l23.2 -1.6l82.7 -0.6l82.7 0.6l23.2 1.6l16.1 2.7l12.3 3.9l9.9 5.1l8.1 6.4l6.4 8.1l5.1 9.9l3.9 12.3l2.7 16.1l1.6 23.2z"/>
<path fill="#00ebff" d="M1360 520l-0.6 82.5l-1.6 23.1l-2.7 15.9l-3.8 12.3l-5 9.8l-6.5 7.9l-7.9 6.5l-9.8 5l-12.3 3.8l-15.9 2.7l-23.1 1.6l-82.5 0.6l-82.5 -0.6l-23.1 -1.6l-15.9 -2.7l-12.3 -3.8l-9.8 -5l-7.9 -6.5l-6.5 -7.9l-5 -9.8l-3.8 -12.3l-2.7 -15.9l-1.6 -23.1l-0.6 -82.5l0.6 -82.5l1.6 -23.1l2.7 -15.9l3.8 -12.3l5 -9.8l6.5 -7.9l7.9 -6.5l9.8 -5l12.3 -3.8l15.9 -2.7l23.1 -1.6l82.5 -0.6l82.5 0.6l23.1 1.6l15.9 2.7l12.3 3.8l9.8 5l7.9 6.5l6.5 7.9l5 9.8l3.8 12.3l2.7 15.9l1.6 23.1z"/>
<path fill="#00f3ff" d="M1359.1 520l-0.6 82.3l-1.5 22.9l-2.7 15.8l-3.8 12.2l-5 9.7l-6.4 7.9l-7.9 6.4l-9.7 5l-12.2 3.8l-15.8 2.7l-22.9 1.5l-82.3 0.6l-82.3 -0.6l-22.9 -1.5l-15.8 -2.7l-12.2 -3.8l-9.7 -5l-7.9 -6.4l-6.4 -7.9l-5 -9.7l-3.8 -12.2l-2.7 -15.8l-1.5 -22.9l-0.6 -82.3l0.6 -82.3l1.5 -22.9l2.7 -15.8l3.8 -12.2l5 -9.7l6.4 -7.9l7.9 -6.4l9.7 -5l12.2 -3.8l15.8 -2.7l22.9 -1.5l82.3 -0.6l82.3 0.6l22.9 1.5l15.8 2.7l12.2 3.8l9.7 5l7.9 6.4l6.4 7.9l5 9.7l3.8 12.2l2.7 15.8l1.5 22.9z"/>
<path fill="#00fbff" d="M1358.2 520l-0.5 82l-1.6 22.8l-2.7 15.7l-3.7 12.1l-5 9.7l-6.3 7.8l-7.8 6.3l-9.7 5l-12.1 3.7l-15.7 2.7l-22.8 1.6l-82 0.5l-82 -0.5l-22.8 -1.6l-15.7 -2.7l-12.1 -3.7l-9.7 -5l-7.8 -6.3l-6.3 -7.8l-5 -9.7l-3.7 -12.1l-2.7 -15.7l-1.6 -22.8l-0.5 -82l0.5 -82l1.6 -22.8l2.7 -15.7l3.7 -12.1l5 -9.7l6.3 -7.8l7.8 -6.3l9.7 -5l12.1 -3.7l15.7 -2.7l22.8 -1.6l82 -0.5l82 0.5l22.8 1.6l15.7 2.7l12.1 3.7l9.7 5l7.8 6.3l6.3 7.8l5 9.7l3.7 12.1l2.7 15.7l1.6 22.8z"/>
<path fill="#04fffb" d="M1357.3 520l-0.5 81.7l-1.6 22.6l-2.6 15.6l-3.8 12l-4.9 9.6l-6.3 7.8l-7.8 6.3l-9.6 4.9l-12 3.8l-15.6 2.6l-22.6 1.6l-81.7 0.5l-81.7 -0.5l-22.6 -1.6l-15.6 -2.6l-12 -3.8l-9.6 -4.9l-7.8 -6.3l-6.3 -7.8l-4.9 -9.6l-3.8 -12l-2.6 -15.6l-1.6 -22.6l-0.5 -81.7l0.5 -81.7l1.6 -22.6l2.6 -15.6l3.8 -12l4.9 -9.6l6.3 -7.8l7.8 -6.3l9.6 -4.9l12 -3.8l15.6 -2.6l22.6 -1.6l81.7 -0.5l81.7 0.5l22.6 1.6l15.6 2.6l12 3.8l9.6 4.9l7.8 6.3l6.3 7.8l4.9 9.6l3.8 12l2.6 15.6l1.6 22.6z"/>
<path fill="#0cfff3" d="M1356.4 520l-0.5 81.2l-1.5 22.5l-2.6 15.6l-3.8 12l-4.9 9.5l-6.2 7.8l-7.8 6.2l-9.5 4.9l-12 3.8l-15.6 2.6l-22.5 1.5l-81.2 0.5l-81.2 -0.5l-22.5 -1.5l-15.6 -2.6l-12 -3.8l-9.5 -4.9l-7.8 -6.2l-6.2 -7.8l-4.9 -9.5l-3.8 -12l-2.6 -15.6l-1.5 -22.5l-0.5 -81.2l0.5 -81.2l1.5 -22.5l2.6 -15.6l3.8 -12l4.9 -9.5l6.2 -7.8l7.8 -6.2l9.5 -4.9l12 -3.8l15.6 -2.6l22.5 -1.5l81.2 -0.5l81.2 0.5l22.5 1.5l15.6 2.6l12 3.8l9.5 4.9l7.8 6.2l6.2 7.8l4.9 9.5l3.8 12l2.6 15.6l1.5 22.5z"/>
<path fill="#14ffeb" d="M1355.6 520l-0.5 80.8l-1.5 22.4l-2.6 15.5l-3.8 11.9l-4.9 9.5l-6.2 7.7l-7.7 6.2l-9.5 4.9l-11.9 3.8l-15.5 2.6l-22.4 1.5l-80.8 0.5l-80.8 -0.5l-22.4 -1.5l-15.5 -2.6l-11.9 -3.8l-9.5 -4.9l-7.7 -6.2l-6.2 -7.7l-4.9 -9.5l-3.8 -11.9l-2.6 -15.5l-1.5 -22.4l-0.5 -80.8l0.5 -80.8l1.5 -22.4l2.6 -15.5l3.8 -11.9l4.9 -9.5l6.2 -7.7l7.7 -6.2l9.5 -4.9l11.9 -3.8l15.5 -2.6l22.4 -1.5l80.8 -0.5l80.8 0.5l22.4 1.5l15.5 2.6l11.9 3.8l9.5 4.9l7.7 6.2l6.2 7.7l4.9 9.5l3.8 11.9l2.6 15.5l1.5 22.4z"/>
<path fill="#1cffe3" d="M1354.8 520l-0.5 80.3l-1.5 22.3l-2.6 15.4l-3.7 11.9l-4.9 9.5l-6.2 7.7l-7.7 6.2l-9.5 4.9l-11.9 3.7l-15.4 2.6l-22.3 1.5l-80.3 0.5l-80.3 -0.5l-22.3 -1.5l-15.4 -2.6l-11.9 -3.7l-9.5 -4.9l-7.7 -6.2l-6.2 -7.7l-4.9 -9.5l-3.7 -11.9l-2.6 -15.4l-1.5 -22.3l-0.5 -80.3l0.5 -80.3l1.5 -22.3l2.6 -15.4l3.7 -11.9l4.9 -9.5l6.2 -7.7l7.7 -6.2l9.5 -4.9l11.9 -3.7l15.4 -2.6l22.3 -1.5l80.3 -0.5l80.3 0.5l22.3 1.5l15.4 2.6l11.9 3.7l9.5 4.9l7.7 6.2l6.2 7.7l4.9 9.5l3.7 11.9l2.6 15.4l1.5 22.3z"/>
<path fill="#24ffdb" d="M1354.1 520l-0.5 79.8l-1.6 22.2l-2.6 15.4l-3.7 11.8l-4.9 9.5l-6.1 7.7l-7.7 6.1l-9.5 4.9l-11.8 3.7l-15.4 2.6l-22.2 1.6l-79.8 0.5l-79.8 -0.5l-22.2 -1.6l-15.4 -2.6l-11.8 -3.7l-9.5 -4.9l-7.7 -6.1l-6.1 -7.7l-4.9 -9.5l-3.7 -11.8l-2.6 -15.4l-1.6 -22.2l-0.5 -79.8l0.5 -79.8l1.6 -22.2l2.6 -15.4l3.7 -11.8l4.9 -9.5l6.1 -7.7l7.7 -6.1l9.5 -4.9l11.8 -3.7l15.4 -2.6l22.2 -1.6l79.8 -0.5l79.8 0.5l22.2 1.6l15.4 2.6l11.8 3.7l9.5 4.9l7.7 6.1l6.1 7.7l4.9 9.5l3.7 11.8l2.6 15.4l1.6 22.2z"/>
<path fill="#2cffd3" d="M1353.3 520l-0.5 79.3l-1.5 22.1l-2.6 15.4l-3.7 11.8l-4.9 9.4l-6.2 7.6l-7.6 6.2l-9.4 4.9l-11.8 3.7l-15.4 2.6l-22.1 1.5l-79.3 0.5l-79.3 -0.5l-22.1 -1.5l-15.4 -2.6l-11.8 -3.7l-9.4 -4.9l-7.6 -6.2l-6.2 -7.6l-4.9 -9.4l-3.7 -11.8l-2.6 -15.4l-1.5 -22.1l-0.5 -79.3l0.5 -79.3l1.5 -22.1l2.6 -15.4l3.7 -11.8l4.9 -9.4l6.2 -7.6l7.6 -6.2l9.4 -4.9l11.8 -3.7l15.4 -2.6l22.1 -1.5l79.3 -0.5l79.3 0.5l22.1 1.5l15.4 2.6l11.8 3.7l9.4 4.9l7.6 6.2l6.2 7.6l4.9 9.4l3.7 11.8l2.6 15.4l1.5 22.1z"/>
<path fill="#34ffcb" d="M1352.6 520l-0.5 78.7l-1.6 22.1l-2.6 15.3l-3.7 11.8l-4.8 9.4l-6.2 7.6l-7.6 6.2l-9.4 4.8l-11.8 3.7l-15.3 2.6l-22.1 1.6l-78.7 0.5l-78.7 -0.5l-22.1 -1.6l-15.3 -2.6l-11.8 -3.7l-9.4 -4.8l-7.6 -6.2l-6.2 -7.6l-4.8 -9.4l-3.7 -11.8l-2.6 -15.3l-1.6 -22.1l-0.5 -78.7l0.5 -78.7l1.6 -22.1l2.6 -15.3l3.7 -11.8l4.8 -9.4l6.2 -7.6l7.6 -6.2l9.4 -4.8l11.8 -3.7l15.3 -2.6l22.1 -1.6l78.7 -0.5l78.7 0.5l22.1 1.6l15.3 2.6l11.8 3.7l9.4 4.8l7.6 6.2l6.2 7.6l4.8 9.4l3.7 11.8l2.6 15.3l1.6 22.1z"/>
<path fill="#3cffc3" d="M1351.8 520l-0.5 78.1l-1.5 22.1l-2.6 15.2l-3.7 11.8l-4.8 9.4l-6.2 7.6l-7.6 6.2l-9.4 4.8l-11.8 3.7l-15.2 2.6l-22.1 1.5l-78.1 0.5l-78.1 -0.5l-22.1 -1.5l-15.2 -2.6l-11.8 -3.7l-9.4 -4.8l-7.6 -6.2l-6.2 -7.6l-4.8 -9.4l-3.7 -11.8l-2.6 -15.2l-1.5 -22.1l-0.5 -78.1l0.5 -78.1l1.5 -22.1l2.6 -15.2l3.7 -11.8l4.8 -9.4l6.2 -7.6l7.6 -6.2l9.4 -4.8l11.8 -3.7l15.2 -2.6l22.1 -1.5l78.1 -0.5l78.1 0.5l22.1 1.5l15.2 2.6l11.8 3.7l9.4 4.8l7.6 6.2l6.2 7.6l4.8 9.4l3.7 11.8l2.6 15.2l1.5 22.1z"/>
<path fill="#44ffbb" d="M1351.1 520l-0.5 77.6l-1.5 21.9l-2.6 15.3l-3.7 11.7l-4.9 9.4l-6.1 7.6l-7.6 6.1l-9.4 4.9l-11.7 3.7l-15.3 2.6l-21.9 1.5l-77.6 0.5l-77.6 -0.5l-21.9 -1.5l-15.3 -2.6l-11.7 -3.7l-9.4 -4.9l-7.6 -6.1l-6.1 -7.6l-4.9 -9.4l-3.7 -11.7l-2.6 -15.3l-1.5 -21.9l-0.5 -77.6l0.5 -77.6l1.5 -21.9l2.6 -15.3l3.7 -11.7l4.9 -9.4l6.1 -7.6l7.6 -6.1l9.4 -4.9l11.7 -3.7l15.3 -2.6l21.9 -1.5l77.6 -0.5l77.6 0.5l21.9 1.5l15.3 2.6l11.7 3.7l9.4 4.9l7.6 6.1l6.1 7.6l4.9 9.4l3.7 11.7l2.6 15.3l1.5 21.9z"/>
<path fill="#4cffb3" d="M1350.4 520l-0.5 77l-1.6 21.9l-2.5 15.2l-3.7 11.7l-4.9 9.4l-6.1 7.6l-7.6 6.1l-9.4 4.9l-11.7 3.7l-15.2 2.5l-21.9 1.6l-77 0.5l-77 -0.5l-21.9 -1.6l-15.2 -2.5l-11.7 -3.7l-9.4 -4.9l-7.6 -6.1l-6.1 -7.6l-4.9 -9.4l-3.7 -11.7l-2.5 -15.2l-1.6 -21.9l-0.5 -77l0.5 -77l1.6 -21.9l2.5 -15.2l3.7 -11.7l4.9 -9.4l6.1 -7.6l7.6 -6.1l9.4 -4.9l11.7 -3.7l15.2 -2.5l21.9 -1.6l77 -0.5l77 0.5l21.9 1.6l15.2 2.5l11.7 3.7l9.4 4.9l7.6 6.1l6.1 7.6l4.9 9.4l3.7 11.7l2.5 15.2l1.6 21.9z"/>
<path fill="#54ffab" d="M1349.7 520l-0.5 76.4l-1.6 21.8l-2.6 15.2l-3.6 11.7l-4.9 9.4l-6.1 7.6l-7.6 6.1l-9.4 4.9l-11.7 3.6l-15.2 2.6l-21.8 1.6l-76.4 0.5l-76.4 -0.5l-21.8 -1.6l-15.2 -2.6l-11.7 -3.6l-9.4 -4.9l-7.6 -6.1l-6.1 -7.6l-4.9 -9.4l-3.6 -11.7l-2.6 -15.2l-1.6 -21.8l-0.5 -76.4l0.5 -76.4l1.6 -21.8l2.6 -15.2l3.6 -11.7l4.9 -9.4l6.1 -7.6l7.6 -6.1l9.4 -4.9l11.7 -3.6l15.2 -2.6l21.8 -1.6l76.4 -0.5l76.4 0.5l21.8 1.6l15.2 2.6l11.7 3.6l9.4 4.9l7.6 6.1l6.1 7.6l4.9 9.4l3.6 11.7l2.6 15.2l1.6 21.8z"/>
<path fill="#5cffa3" d="M1348.9 520l-0.5 75.8l-1.5 21.8l-2.6 15.1l-3.7 11.7l-4.8 9.4l-6.1 7.6l-7.6 6.1l-9.4 4.8l-11.7 3.7l-15.1 2.6l-21.8 1.5l-75.8 0.5l-75.8 -0.5l-21.8 -1.5l-15.1 -2.6l-11.7 -3.7l-9.4 -4.8l-7.6 -6.1l-6.1 -7.6l-4.8 -9.4l-3.7 -11.7l-2.6 -15.1l-1.5 -21.8l-0.5 -75.8l0.5 -75.8l1.5 -21.8l2.6 -15.1l3.7 -11.7l4.8 -9.4l6.1 -7.6l7.6 -6.1l9.4 -4.8l11.7 -3.7l15.1 -2.6l21.8 -1.5l75.8 -0.5l75.8 0.5l21.8 1.5l15.1 2.6l11.7 3.7l9.4 4.8l7.6 6.1l6.1 7.6l4.8 9.4l3.7 11.7l2.6 15.1l1.5 21.8z"/>
<path fill="#64ff9b" d="M1348.2 520l-0.5 75.2l-1.5 21.7l-2.6 15.1l-3.7 11.7l-4.8 9.3l-6.2 7.6l-7.6 6.2l-9.3 4.8l-11.7 3.7l-15.1 2.6l-21.7 1.5l-75.2 0.5l-75.2 -0.5l-21.7 -1.5l-15.1 -2.6l-11.7 -3.7l-9.3 -4.8l-7.6 -6.2l-6.2 -7.6l-4.8 -9.3l-3.7 -11.7l-2.6 -15.1l-1.5 -21.7l-0.5 -75.2l0.5 -75.2l1.5 -21.7l2.6 -15.1l3.7 -11.7l4.8 -9.3l6.2 -7.6l7.6 -6.2l9.3 -4.8l11.7 -3.7l15.1 -2.6l21.7 -1.5l75.2 -0.5l75.2 0.5l21.7 1.5l15.1 2.6l11.7 3.7l9.3 4.8l7.6 6.2l6.2 7.6l4.8 9.3l3.7 11.7l2.6 15.1l1.5 21.7z"/>
<path fill="#6cff93" d="M1347.5 520l-0.5 74.6l-1.5 21.6l-2.6 15.1l-3.7 11.7l-4.8 9.3l-6.2 7.6l-7.6 6.2l-9.3 4.8l-11.7 3.7l-15.1 2.6l-21.6 1.5l-74.6 0.5l-74.6 -0.5l-21.6 -1.5l-15.1 -2.6l-11.7 -3.7l-9.3 -4.8l-7.6 -6.2l-6.2 -7.6l-4.8 -9.3l-3.7 -11.7l-2.6 -15.1l-1.5 -21.6l-0.5 -74.6l0.5 -74.6l1.5 -21.6l2.6 -15.1l3.7 -11.7l4.8 -9.3l6.2 -7.6l7.6 -6.2l9.3 -4.8l11.7 -3.7l15.1 -2.6l21.6 -1.5l74.6 -0.5l74.6 0.5l21.6 1.5l15.1 2.6l11.7 3.7l9.3 4.8l7.6 6.2l6.2 7.6l4.8 9.3l3.7 11.7l2.6 15.1l1.5 21.6z"/>
<path fill="#74ff8b" d="M1346.8 520l-0.5 74l-1.6 21.6l-2.5 15l-3.7 11.7l-4.9 9.3l-6.1 7.6l-7.6 6.1l-9.3 4.9l-11.7 3.7l-15 2.5l-21.6 1.6l-74 0.5l-74 -0.5l-21.6 -1.6l-15 -2.5l-11.7 -3.7l-9.3 -4.9l-7.6 -6.1l-6.1 -7.6l-4.9 -9.3l-3.7 -11.7l-2.5 -15l-1.6 -21.6l-0.5 -74l0.5 -74l1.6 -21.6l2.5 -15l3.7 -11.7l4.9 -9.3l6.1 -7.6l7.6 -6.1l9.3 -4.9l11.7 -3.7l15 -2.5l21.6 -1.6l74 -0.5l74 0.5l21.6 1.6l15 2.5l11.7 3.7l9.3 4.9l7.6 6.1l6.1 7.6l4.9 9.3l3.7 11.7l2.5 15l1.6 21.6z"/>
<path fill="#7cff83" d="M1346 520l-0.5 73.4l-1.5 21.5l-2.6 15l-3.7 11.7l-4.8 9.3l-6.1 7.6l-7.6 6.1l-9.3 4.8l-11.7 3.7l-15 2.6l-21.5 1.5l-73.4 0.5l-73.4 -0.5l-21.5 -1.5l-15 -2.6l-11.7 -3.7l-9.3 -4.8l-7.6 -6.1l-6.1 -7.6l-4.8 -9.3l-3.7 -11.7l-2.6 -15l-1.5 -21.5l-0.5 -73.4l0.5 -73.4l1.5 -21.5l2.6 -15l3.7 -11.7l4.8 -9.3l6.1 -7.6l7.6 -6.1l9.3 -4.8l11.7 -3.7l15 -2.6l21.5 -1.5l73.4 -0.5l73.4 0.5l21.5 1.5l15 2.6l11.7 3.7l9.3 4.8l7.6 6.1l6.1 7.6l4.8 9.3l3.7 11.7l2.6 15l1.5 21.5z"/>
<path fill="#83ff7c" d="M1345.3 520l-0.5 72.8l-1.5 21.5l-2.6 15l-3.7 11.6l-4.8 9.3l-6.1 7.6l-7.6 6.1l-9.3 4.8l-11.6 3.7l-15 2.6l-21.5 1.5l-72.8 0.5l-72.8 -0.5l-21.5 -1.5l-15 -2.6l-11.6 -3.7l-9.3 -4.8l-7.6 -6.1l-6.1 -7.6l-4.8 -9.3l-3.7 -11.6l-2.6 -15l-1.5 -21.5l-0.5 -72.8l0.5 -72.8l1.5 -21.5l2.6 -15l3.7 -11.6l4.8 -9.3l6.1 -7.6l7.6 -6.1l9.3 -4.8l11.6 -3.7l15 -2.6l21.5 -1.5l72.8 -0.5l72.8 0.5l21.5 1.5l15 2.6l11.6 3.7l9.3 4.8l7.6 6.1l6.1 7.6l4.8 9.3l3.7 11.6l2.6 15l1.5 21.5z"/>
<path fill="#8bff74" d="M1344.6 520l-0.6 72.2l-1.5 21.4l-2.6 15l-3.6 11.6l-4.9 9.3l-6.1 7.5l-7.5 6.1l-9.3 4.9l-11.6 3.6l-15 2.6l-21.4 1.5l-72.2 0.6l-72.2 -0.6l-21.4 -1.5l-15 -2.6l-11.6 -3.6l-9.3 -4.9l-7.5 -6.1l-6.1 -7.5l-4.9 -9.3l-3.6 -11.6l-2.6 -15l-1.5 -21.4l-0.6 -72.2l0.6 -72.2l1.5 -21.4l2.6 -15l3.6 -11.6l4.9 -9.3l6.1 -7.5l7.5 -6.1l9.3 -4.9l11.6 -3.6l15 -2.6l21.4 -1.5l72.2 -0.6l72.2 0.6l21.4 1.5l15 2.6l11.6 3.6l9.3 4.9l7.5 6.1l6.1 7.5l4.9 9.3l3.6 11.6l2.6 15l1.5 21.4z"/>
<path fill="#93ff6c" d="M1343.8 520l-0.5 71.7l-1.5 21.3l-2.6 14.9l-3.7 11.6l-4.8 9.3l-6.1 7.5l-7.5 6.1l-9.3 4.8l-11.6 3.7l-14.9 2.6l-21.3 1.5l-71.7 0.5l-71.7 -0.5l-21.3 -1.5l-14.9 -2.6l-11.6 -3.7l-9.3 -4.8l-7.5 -6.1l-6.1 -7.5l-4.8 -9.3l-3.7 -11.6l-2.6 -14.9l-1.5 -21.3l-0.5 -71.7l0.5 -71.7l1.5 -21.3l2.6 -14.9l3.7 -11.6l4.8 -9.3l6.1 -7.5l7.5 -6.1l9.3 -4.8l11.6 -3.7l14.9 -2.6l21.3 -1.5l71.7 -0.5l71.7 0.5l21.3 1.5l14.9 2.6l11.6 3.7l9.3 4.8l7.5 6.1l6.1 7.5l4.8 9.3l3.7 11.6l2.6 14.9l1.5 21.3z"/>
<path fill="#9bff64" d="M1343.1 520l-0.5 71.1l-1.5 21.2l-2.6 14.9l-3.7 11.6l-4.8 9.3l-6.1 7.5l-7.5 6.1l-9.3 4.8l-11.6 3.7l-14.9 2.6l-21.2 1.5l-71.1 0.5l-71.1 -0.5l-21.2 -1.5l-14.9 -2.6l-11.6 -3.7l-9.3 -4.8l-7.5 -6.1l-6.1 -7.5l-4.8 -9.3l-3.7 -11.6l-2.6 -14.9l-1.5 -21.2l-0.5 -71.1l0.5 -71.1l1.5 -21.2l2.6 -14.9l3.7 -11.6l4.8 -9.3l6.1 -7.5l7.5 -6.1l9.3 -4.8l11.6 -3.7l14.9 -2.6l21.2 -1.5l71.1 -0.5l71.1 0.5l21.2 1.5l14.9 2.6l11.6 3.7l9.3 4.8l7.5 6.1l6.1 7.5l4.8 9.3l3.7 11.6l2.6 14.9l1.5 21.2z"/>
<path fill="#a3ff5c" d="M1342.4 520l-0.5 70.5l-1.5 21.2l-2.6 14.9l-3.7 11.5l-4.8 9.2l-6.1 7.6l-7.6 6.1l-9.2 4.8l-11.5 3.7l-14.9 2.6l-21.2 1.5l-70.5 0.5l-70.5 -0.5l-21.2 -1.5l-14.9 -2.6l-11.5 -3.7l-9.2 -4.8l-7.6 -6.1l-6.1 -7.6l-4.8 -9.2l-3.7 -11.5l-2.6 -14.9l-1.5 -21.2l-0.5 -70.5l0.5 -70.5l1.5 -21.2l2.6 -14.9l3.7 -11.5l4.8 -9.2l6.1 -7.6l7.6 -6.1l9.2 -4.8l11.5 -3.7l14.9 -2.6l21.2 -1.5l70.5 -0.5l70.5 0.5l21.2 1.5l14.9 2.6l11.5 3.7l9.2 4.8l7.6 6.1l6.1 7.6l4.8 9.2l3.7 11.5l2.6 14.9l1.5 21.2z"/>
<path fill="#abff54" d="M1341.7 520l-0.5 69.9l-1.6 21.1l-2.5 14.9l-3.7 11.5l-4.8 9.2l-6.1 7.6l-7.6 6.1l-9.2 4.8l-11.5 3.7l-14.9 2.5l-21.1 1.6l-69.9 0.5l-69.9 -0.5l-21.1 -1.6l-14.9 -2.5l-11.5 -3.7l-9.2 -4.8l-7.6 -6.1l-6.1 -7.6l-4.8 -9.2l-3.7 -11.5l-2.5 -14.9l-1.6 -21.1l-0.5 -69.9l0.5 -69.9l1.6 -21.1l2.5 -14.9l3.7 -11.5l4.8 -9.2l6.1 -7.6l7.6 -6.1l9.2 -4.8l11.5 -3.7l14.9 -2.5l21.1 -1.6l69.9 -0.5l69.9 0.5l21.1 1.6l14.9 2.5l11.5 3.7l9.2 4.8l7.6 6.1l6.1 7.6l4.8 9.2l3.7 11.5l2.5 14.9l1.6 21.1z"/>
<path fill="#b3ff4c" d="M1341 520l-0.5 69.3l-1.6 21.1l-2.6 14.8l-3.6 11.5l-4.8 9.2l-6.1 7.6l-7.6 6.1l-9.2 4.8l-11.5 3.6l-14.8 2.6l-21.1 1.6l-69.3 0.5l-69.3 -0.5l-21.1 -1.6l-14.8 -2.6l-11.5 -3.6l-9.2 -4.8l-7.6 -6.1l-6.1 -7.6l-4.8 -9.2l-3.6 -11.5l-2.6 -14.8l-1.6 -21.1l-0.5 -69.3l0.5 -69.3l1.6 -21.1l2.6 -14.8l3.6 -11.5l4.8 -9.2l6.1 -7.6l7.6 -6.1l9.2 -4.8l11.5 -3.6l14.8 -2.6l21.1 -1.6l69.3 -0.5l69.3 0.5l21.1 1.6l14.8 2.6l11.5 3.6l9.2 4.8l7.6 6.1l6.1 7.6l4.8 9.2l3.6 11.5l2.6 14.8l1.6 21.1z"/>
<path fill="#bbff44" d="M1340.3 520l-0.6 68.7l-1.5 21l-2.6 14.8l-3.6 11.5l-4.9 9.2l-6 7.6l-7.6 6l-9.2 4.9l-11.5 3.6l-14.8 2.6l-21 1.5l-68.7 0.6l-68.7 -0.6l-21 -1.5l-14.8 -2.6l-11.5 -3.6l-9.2 -4.9l-7.6 -6l-6 -7.6l-4.9 -9.2l-3.6 -11.5l-2.6 -14.8l-1.5 -21l-0.6 -68.7l0.6 -68.7l1.5 -21l2.6 -14.8l3.6 -11.5l4.9 -9.2l6 -7.6l7.6 -6l9.2 -4.9l11.5 -3.6l14.8 -2.6l21 -1.5l68.7 -0.6l68.7 0.6l21 1.5l14.8 2.6l11.5 3.6l9.2 4.9l7.6 6l6 7.6l4.9 9.2l3.6 11.5l2.6 14.8l1.5 21z"/>
<path fill="#c3ff3c" d="M1339.5 520l-0.5 68.1l-1.5 21l-2.6 14.7l-3.6 11.5l-4.9 9.2l-6.1 7.5l-7.5 6.1l-9.2 4.9l-11.5 3.6l-14.7 2.6l-21 1.5l-68.1 0.5l-68.1 -0.5l-21 -1.5l-14.7 -2.6l-11.5 -3.6l-9.2 -4.9l-7.5 -6.1l-6.1 -7.5l-4.9 -9.2l-3.6 -11.5l-2.6 -14.7l-1.5 -21l-0.5 -68.1l0.5 -68.1l1.5 -21l2.6 -14.7l3.6 -11.5l4.9 -9.2l6.1 -7.5l7.5 -6.1l9.2 -4.9l11.5 -3.6l14.7 -2.6l21 -1.5l68.1 -0.5l68.1 0.5l21 1.5l14.7 2.6l11.5 3.6l9.2 4.9l7.5 6.1l6.1 7.5l4.9 9.2l3.6 11.5l2.6 14.7l1.5 21z"/>
<path fill="#cbff34" d="M1338.8 520l-0.5 67.5l-1.5 20.9l-2.6 14.7l-3.7 11.5l-4.8 9.2l-6.1 7.5l-7.5 6.1l-9.2 4.8l-11.5 3.7l-14.7 2.6l-20.9 1.5l-67.5 0.5l-67.5 -0.5l-20.9 -1.5l-14.7 -2.6l-11.5 -3.7l-9.2 -4.8l-7.5 -6.1l-6.1 -7.5l-4.8 -9.2l-3.7 -11.5l-2.6 -14.7l-1.5 -20.9l-0.5 -67.5l0.5 -67.5l1.5 -20.9l2.6 -14.7l3.7 -11.5l4.8 -9.2l6.1 -7.5l7.5 -6.1l9.2 -4.8l11.5 -3.7l14.7 -2.6l20.9 -1.5l67.5 -0.5l67.5 0.5l20.9 1.5l14.7 2.6l11.5 3.7l9.2 4.8l7.5 6.1l6.1 7.5l4.8 9.2l3.7 11.5l2.6 14.7l1.5 20.9z"/>
<path fill="#d3ff2c" d="M1338.1 520l-0.5 66.9l-1.6 20.8l-2.5 14.7l-3.7 11.5l-4.8 9.2l-6.1 7.5l-7.5 6.1l-9.2 4.8l-11.5 3.7l-14.7 2.5l-20.8 1.6l-66.9 0.5l-66.9 -0.5l-20.8 -1.6l-14.7 -2.5l-11.5 -3.7l-9.2 -4.8l-7.5 -6.1l-6.1 -7.5l-4.8 -9.2l-3.7 -11.5l-2.5 -14.7l-1.6 -20.8l-0.5 -66.9l0.5 -66.9l1.6 -20.8l2.5 -14.7l3.7 -11.5l4.8 -9.2l6.1 -7.5l7.5 -6.1l9.2 -4.8l11.5 -3.7l14.7 -2.5l20.8 -1.6l66.9 -0.5l66.9 0.5l20.8 1.6l14.7 2.5l11.5 3.7l9.2 4.8l7.5 6.1l6.1 7.5l4.8 9.2l3.7 11.5l2.5 14.7l1.6 20.8z"/>
<path fill="#dbff24" d="M1337.3 520l-0.5 66.3l-1.5 20.8l-2.6 14.6l-3.6 11.4l-4.9 9.2l-6 7.6l-7.6 6l-9.2 4.9l-11.4 3.6l-14.6 2.6l-20.8 1.5l-66.3 0.5l-66.3 -0.5l-20.8 -1.5l-14.6 -2.6l-11.4 -3.6l-9.2 -4.9l-7.6 -6l-6 -7.6l-4.9 -9.2l-3.6 -11.4l-2.6 -14.6l-1.5 -20.8l-0.5 -66.3l0.5 -66.3l1.5 -20.8l2.6 -14.6l3.6 -11.4l4.9 -9.2l6 -7.6l7.6 -6l9.2 -4.9l11.4 -3.6l14.6 -2.6l20.8 -1.5l66.3 -0.5l66.3 0.5l20.8 1.5l14.6 2.6l11.4 3.6l9.2 4.9l7.6 6l6 7.6l4.9 9.2l3.6 11.4l2.6 14.6l1.5 20.8z"/>
<path fill="#e3ff1c" d="M1336.6 520l-0.5 65.7l-1.6 20.7l-2.5 14.6l-3.7 11.4l-4.8 9.2l-6.1 7.5l-7.5 6.1l-9.2 4.8l-11.4 3.7l-14.6 2.5l-20.7 1.6l-65.7 0.5l-65.7 -0.5l-20.7 -1.6l-14.6 -2.5l-11.4 -3.7l-9.2 -4.8l-7.5 -6.1l-6.1 -7.5l-4.8 -9.2l-3.7 -11.4l-2.5 -14.6l-1.6 -20.7l-0.5 -65.7l0.5 -65.7l1.6 -20.7l2.5 -14.6l3.7 -11.4l4.8 -9.2l6.1 -7.5l7.5 -6.1l9.2 -4.8l11.4 -3.7l14.6 -2.5l20.7 -1.6l65.7 -0.5l65.7 0.5l20.7 1.6l14.6 2.5l11.4 3.7l9.2 4.8l7.5 6.1l6.1 7.5l4.8 9.2l3.7 11.4l2.5 14.6l1.6 20.7z"/>
<path fill="#ebff14" d="M1335.8 520l-0.5 65.1l-1.5 20.6l-2.6 14.6l-3.7 11.3l-4.8 9.2l-6.1 7.5l-7.5 6.1l-9.2 4.8l-11.3 3.7l-14.6 2.6l-20.6 1.5l-65.1 0.5l-65.1 -0.5l-20.6 -1.5l-14.6 -2.6l-11.3 -3.7l-9.2 -4.8l-7.5 -6.1l-6.1 -7.5l-4.8 -9.2l-3.7 -11.3l-2.6 -14.6l-1.5 -20.6l-0.5 -65.1l0.5 -65.1l1.5 -20.6l2.6 -14.6l3.7 -11.3l4.8 -9.2l6.1 -7.5l7.5 -6.1l9.2 -4.8l11.3 -3.7l14.6 -2.6l20.6 -1.5l65.1 -0.5l65.1 0.5l20.6 1.5l14.6 2.6l11.3 3.7l9.2 4.8l7.5 6.1l6.1 7.5l4.8 9.2l3.7 11.3l2.6 14.6l1.5 20.6z"/>
<path fill="#f3ff0c" d="M1335 520l-0.5 64.4l-1.5 20.6l-2.6 14.5l-3.7 11.4l-4.8 9.2l-6.1 7.4l-7.4 6.1l-9.2 4.8l-11.4 3.7l-14.5 2.6l-20.6 1.5l-64.4 0.5l-64.4 -0.5l-20.6 -1.5l-14.5 -2.6l-11.4 -3.7l-9.2 -4.8l-7.4 -6.1l-6.1 -7.4l-4.8 -9.2l-3.7 -11.4l-2.6 -14.5l-1.5 -20.6l-0.5 -64.4l0.5 -64.4l1.5 -20.6l2.6 -14.5l3.7 -11.4l4.8 -9.2l6.1 -7.4l7.4 -6.1l9.2 -4.8l11.4 -3.7l14.5 -2.6l20.6 -1.5l64.4 -0.5l64.4 0.5l20.6 1.5l14.5 2.6l11.4 3.7l9.2 4.8l7.4 6.1l6.1 7.4l4.8 9.2l3.7 11.4l2.6 14.5l1.5 20.6z"/>
<path fill="#fbff04" d="M1334.2 520l-0.5 63.8l-1.6 20.5l-2.5 14.5l-3.7 11.3l-4.8 9.1l-6.1 7.5l-7.5 6.1l-9.1 4.8l-11.3 3.7l-14.5 2.5l-20.5 1.6l-63.8 0.5l-63.8 -0.5l-20.5 -1.6l-14.5 -2.5l-11.3 -3.7l-9.1 -4.8l-7.5 -6.1l-6.1 -7.5l-4.8 -9.1l-3.7 -11.3l-2.5 -14.5l-1.6 -20.5l-0.5 -63.8l0.5 -63.8l1.6 -20.5l2.5 -14.5l3.7 -11.3l4.8 -9.1l6.1 -7.5l7.5 -6.1l9.1 -4.8l11.3 -3.7l14.5 -2.5l20.5 -1.6l63.8 -0.5l63.8 0.5l20.5 1.6l14.5 2.5l11.3 3.7l9.1 4.8l7.5 6.1l6.1 7.5l4.8 9.1l3.7 11.3l2.5 14.5l1.6 20.5z"/>
<path fill="#fffb00" d="M1333.3 520l-0.5 63.2l-1.5 20.3l-2.6 14.5l-3.7 11.3l-4.8 9.1l-6 7.5l-7.5 6l-9.1 4.8l-11.3 3.7l-14.5 2.6l-20.3 1.5l-63.2 0.5l-63.2 -0.5l-20.3 -1.5l-14.5 -2.6l-11.3 -3.7l-9.1 -4.8l-7.5 -6l-6 -7.5l-4.8 -9.1l-3.7 -11.3l-2.6 -14.5l-1.5 -20.3l-0.5 -63.2l0.5 -63.2l1.5 -20.3l2.6 -14.5l3.7 -11.3l4.8 -9.1l6 -7.5l7.5 -6l9.1 -4.8l11.3 -3.7l14.5 -2.6l20.3 -1.5l63.2 -0.5l63.2 0.5l20.3 1.5l14.5 2.6l11.3 3.7l9.1 4.8l7.5 6l6 7.5l4.8 9.1l3.7 11.3l2.6 14.5l1.5 20.3z"/>
<path fill="#fff300" d="M1332.4 520l-0.5 62.5l-1.5 20.2l-2.6 14.4l-3.7 11.3l-4.8 9.1l-6 7.5l-7.5 6l-9.1 4.8l-11.3 3.7l-14.4 2.6l-20.2 1.5l-62.5 0.5l-62.5 -0.5l-20.2 -1.5l-14.4 -2.6l-11.3 -3.7l-9.1 -4.8l-7.5 -6l-6 -7.5l-4.8 -9.1l-3.7 -11.3l-2.6 -14.4l-1.5 -20.2l-0.5 -62.5l0.5 -62.5l1.5 -20.2l2.6 -14.4l3.7 -11.3l4.8 -9.1l6 -7.5l7.5 -6l9.1 -4.8l11.3 -3.7l14.4 -2.6l20.2 -1.5l62.5 -0.5l62.5 0.5l20.2 1.5l14.4 2.6l11.3 3.7l9.1 4.8l7.5 6l6 7.5l4.8 9.1l3.7 11.3l2.6 14.4l1.5 20.2z"/>
<path fill="#ffeb00" d="M1331.5 520l-0.6 61.8l-1.5 20.1l-2.6 14.4l-3.6 11.2l-4.8 9.1l-6 7.5l-7.5 6l-9.1 4.8l-11.2 3.6l-14.4 2.6l-20.1 1.5l-61.8 0.6l-61.8 -0.6l-20.1 -1.5l-14.4 -2.6l-11.2 -3.6l-9.1 -4.8l-7.5 -6l-6 -7.5l-4.8 -9.1l-3.6 -11.2l-2.6 -14.4l-1.5 -20.1l-0.6 -61.8l0.6 -61.8l1.5 -20.1l2.6 -14.4l3.6 -11.2l4.8 -9.1l6 -7.5l7.5 -6l9.1 -4.8l11.2 -3.6l14.4 -2.6l20.1 -1.5l61.8 -0.6l61.8 0.6l20.1 1.5l14.4 2.6l11.2 3.6l9.1 4.8l7.5 6l6 7.5l4.8 9.1l3.6 11.2l2.6 14.4l1.5 20.1z"/>
<path fill="#ffe300" d="M1330.5 520l-0.5 61l-1.5 20.1l-2.6 14.3l-3.7 11.2l-4.8 9.1l-6 7.4l-7.4 6l-9.1 4.8l-11.2 3.7l-14.3 2.6l-20.1 1.5l-61 0.5l-61 -0.5l-20.1 -1.5l-14.3 -2.6l-11.2 -3.7l-9.1 -4.8l-7.4 -6l-6 -7.4l-4.8 -9.1l-3.7 -11.2l-2.6 -14.3l-1.5 -20.1l-0.5 -61l0.5 -61l1.5 -20.1l2.6 -14.3l3.7 -11.2l4.8 -9.1l6 -7.4l7.4 -6l9.1 -4.8l11.2 -3.7l14.3 -2.6l20.1 -1.5l61 -0.5l61 0.5l20.1 1.5l14.3 2.6l11.2 3.7l9.1 4.8l7.4 6l6 7.4l4.8 9.1l3.7 11.2l2.6 14.3l1.5 20.1z"/>
<path fill="#ffdb00" d="M1329.5 520l-0.5 60.2l-1.5 20l-2.6 14.3l-3.7 11.2l-4.7 9l-6.1 7.4l-7.4 6.1l-9 4.7l-11.2 3.7l-14.3 2.6l-20 1.5l-60.2 0.5l-60.2 -0.5l-20 -1.5l-14.3 -2.6l-11.2 -3.7l-9 -4.7l-7.4 -6.1l-6.1 -7.4l-4.7 -9l-3.7 -11.2l-2.6 -14.3l-1.5 -20l-0.5 -60.2l0.5 -60.2l1.5 -20l2.6 -14.3l3.7 -11.2l4.7 -9l6.1 -7.4l7.4 -6.1l9 -4.7l11.2 -3.7l14.3 -2.6l20 -1.5l60.2 -0.5l60.2 0.5l20 1.5l14.3 2.6l11.2 3.7l9 4.7l7.4 6.1l6.1 7.4l4.7 9l3.7 11.2l2.6 14.3l1.5 20z"/>
<path fill="#ffd300" d="M1328.5 520l-0.5 59.5l-1.6 19.8l-2.5 14.2l-3.7 11.2l-4.8 9l-6 7.4l-7.4 6l-9 4.8l-11.2 3.7l-14.2 2.5l-19.8 1.6l-59.5 0.5l-59.5 -0.5l-19.8 -1.6l-14.2 -2.5l-11.2 -3.7l-9 -4.8l-7.4 -6l-6 -7.4l-4.8 -9l-3.7 -11.2l-2.5 -14.2l-1.6 -19.8l-0.5 -59.5l0.5 -59.5l1.6 -19.8l2.5 -14.2l3.7 -11.2l4.8 -9l6 -7.4l7.4 -6l9 -4.8l11.2 -3.7l14.2 -2.5l19.8 -1.6l59.5 -0.5l59.5 0.5l19.8 1.6l14.2 2.5l11.2 3.7l9 4.8l7.4 6l6 7.4l4.8 9l3.7 11.2l2.5 14.2l1.6 19.8z"/>
<path fill="#ffcb00" d="M1327.4 520l-0.5 58.7l-1.5 19.7l-2.6 14.2l-3.6 11.1l-4.8 9l-6 7.4l-7.4 6l-9 4.8l-11.1 3.6l-14.2 2.6l-19.7 1.5l-58.7 0.5l-58.7 -0.5l-19.7 -1.5l-14.2 -2.6l-11.1 -3.6l-9 -4.8l-7.4 -6l-6 -7.4l-4.8 -9l-3.6 -11.1l-2.6 -14.2l-1.5 -19.7l-0.5 -58.7l0.5 -58.7l1.5 -19.7l2.6 -14.2l3.6 -11.1l4.8 -9l6 -7.4l7.4 -6l9 -4.8l11.1 -3.6l14.2 -2.6l19.7 -1.5l58.7 -0.5l58.7 0.5l19.7 1.5l14.2 2.6l11.1 3.6l9 4.8l7.4 6l6 7.4l4.8 9l3.6 11.1l2.6 14.2l1.5 19.7z"/>
<path fill="#ffc300" d="M1326.4 520l-0.5 57.9l-1.6 19.6l-2.5 14.1l-3.7 11.1l-4.7 9l-6 7.4l-7.4 6l-9 4.7l-11.1 3.7l-14.1 2.5l-19.6 1.6l-57.9 0.5l-57.9 -0.5l-19.6 -1.6l-14.1 -2.5l-11.1 -3.7l-9 -4.7l-7.4 -6l-6 -7.4l-4.7 -9l-3.7 -11.1l-2.5 -14.1l-1.6 -19.6l-0.5 -57.9l0.5 -57.9l1.6 -19.6l2.5 -14.1l3.7 -11.1l4.7 -9l6 -7.4l7.4 -6l9 -4.7l11.1 -3.7l14.1 -2.5l19.6 -1.6l57.9 -0.5l57.9 0.5l19.6 1.6l14.1 2.5l11.1 3.7l9 4.7l7.4 6l6 7.4l4.7 9l3.7 11.1l2.5 14.1l1.6 19.6z"/>
<path fill="#ffbb00" d="M1325.3 520l-0.5 57.1l-1.6 19.5l-2.5 14l-3.6 11.1l-4.8 8.9l-6 7.4l-7.4 6l-8.9 4.8l-11.1 3.6l-14 2.5l-19.5 1.6l-57.1 0.5l-57.1 -0.5l-19.5 -1.6l-14 -2.5l-11.1 -3.6l-8.9 -4.8l-7.4 -6l-6 -7.4l-4.8 -8.9l-3.6 -11.1l-2.5 -14l-1.6 -19.5l-0.5 -57.1l0.5 -57.1l1.6 -19.5l2.5 -14l3.6 -11.1l4.8 -8.9l6 -7.4l7.4 -6l8.9 -4.8l11.1 -3.6l14 -2.5l19.5 -1.6l57.1 -0.5l57.1 0.5l19.5 1.6l14 2.5l11.1 3.6l8.9 4.8l7.4 6l6 7.4l4.8 8.9l3.6 11.1l2.5 14l1.6 19.5z"/>
<path fill="#ffb300" d="M1324.2 520l-0.5 56.3l-1.6 19.4l-2.5 13.9l-3.6 11l-4.8 9l-6 7.3l-7.3 6l-9 4.8l-11 3.6l-13.9 2.5l-19.4 1.6l-56.3 0.5l-56.3 -0.5l-19.4 -1.6l-13.9 -2.5l-11 -3.6l-9 -4.8l-7.3 -6l-6 -7.3l-4.8 -9l-3.6 -11l-2.5 -13.9l-1.6 -19.4l-0.5 -56.3l0.5 -56.3l1.6 -19.4l2.5 -13.9l3.6 -11l4.8 -9l6 -7.3l7.3 -6l9 -4.8l11 -3.6l13.9 -2.5l19.4 -1.6l56.3 -0.5l56.3 0.5l19.4 1.6l13.9 2.5l11 3.6l9 4.8l7.3 6l6 7.3l4.8 9l3.6 11l2.5 13.9l1.6 19.4z"/>
<path fill="#ffab00" d="M1323 520l-0.5 55.5l-1.5 19.3l-2.5 13.9l-3.6 10.9l-4.8 8.9l-5.9 7.4l-7.4 5.9l-8.9 4.8l-10.9 3.6l-13.9 2.5l-19.3 1.5l-55.5 0.5l-55.5 -0.5l-19.3 -1.5l-13.9 -2.5l-10.9 -3.6l-8.9 -4.8l-7.4 -5.9l-5.9 -7.4l-4.8 -8.9l-3.6 -10.9l-2.5 -13.9l-1.5 -19.3l-0.5 -55.5l0.5 -55.5l1.5 -19.3l2.5 -13.9l3.6 -10.9l4.8 -8.9l5.9 -7.4l7.4 -5.9l8.9 -4.8l10.9 -3.6l13.9 -2.5l19.3 -1.5l55.5 -0.5l55.5 0.5l19.3 1.5l13.9 2.5l10.9 3.6l8.9 4.8l7.4 5.9l5.9 7.4l4.8 8.9l3.6 10.9l2.5 13.9l1.5 19.3z"/>
<path fill="#ffa300" d="M1321.9 520l-0.5 54.8l-1.5 19.1l-2.5 13.8l-3.6 10.9l-4.8 8.9l-5.9 7.3l-7.3 5.9l-8.9 4.8l-10.9 3.6l-13.8 2.5l-19.1 1.5l-54.8 0.5l-54.8 -0.5l-19.1 -1.5l-13.8 -2.5l-10.9 -3.6l-8.9 -4.8l-7.3 -5.9l-5.9 -7.3l-4.8 -8.9l-3.6 -10.9l-2.5 -13.8l-1.5 -19.1l-0.5 -54.8l0.5 -54.8l1.5 -19.1l2.5 -13.8l3.6 -10.9l4.8 -8.9l5.9 -7.3l7.3 -5.9l8.9 -4.8l10.9 -3.6l13.8 -2.5l19.1 -1.5l54.8 -0.5l54.8 0.5l19.1 1.5l13.8 2.5l10.9 3.6l8.9 4.8l7.3 5.9l5.9 7.3l4.8 8.9l3.6 10.9l2.5 13.8l1.5 19.1z"/>
<path fill="#ff9b00" d="M1320.8 520l-0.5 54.1l-1.5 19l-2.6 13.7l-3.5 10.8l-4.8 8.9l-5.9 7.2l-7.2 5.9l-8.9 4.8l-10.8 3.5l-13.7 2.6l-19 1.5l-54.1 0.5l-54.1 -0.5l-19 -1.5l-13.7 -2.6l-10.8 -3.5l-8.9 -4.8l-7.2 -5.9l-5.9 -7.2l-4.8 -8.9l-3.5 -10.8l-2.6 -13.7l-1.5 -19l-0.5 -54.1l0.5 -54.1l1.5 -19l2.6 -13.7l3.5 -10.8l4.8 -8.9l5.9 -7.2l7.2 -5.9l8.9 -4.8l10.8 -3.5l13.7 -2.6l19 -1.5l54.1 -0.5l54.1 0.5l19 1.5l13.7 2.6l10.8 3.5l8.9 4.8l7.2 5.9l5.9 7.2l4.8 8.9l3.5 10.8l2.6 13.7l1.5 19z"/>
<path fill="#ff9300" d="M1319.6 520l-0.5 53.4l-1.5 18.9l-2.5 13.6l-3.5 10.8l-4.7 8.8l-5.9 7.2l-7.2 5.9l-8.8 4.7l-10.8 3.5l-13.6 2.5l-18.9 1.5l-53.4 0.5l-53.4 -0.5l-18.9 -1.5l-13.6 -2.5l-10.8 -3.5l-8.8 -4.7l-7.2 -5.9l-5.9 -7.2l-4.7 -8.8l-3.5 -10.8l-2.5 -13.6l-1.5 -18.9l-0.5 -53.4l0.5 -53.4l1.5 -18.9l2.5 -13.6l3.5 -10.8l4.7 -8.8l5.9 -7.2l7.2 -5.9l8.8 -4.7l10.8 -3.5l13.6 -2.5l18.9 -1.5l53.4 -0.5l53.4 0.5l18.9 1.5l13.6 2.5l10.8 3.5l8.8 4.7l7.2 5.9l5.9 7.2l4.7 8.8l3.5 10.8l2.5 13.6l1.5 18.9z"/>
<path fill="#ff8b00" d="M1318.5 520l-0.5 52.8l-1.5 18.7l-2.5 13.6l-3.5 10.7l-4.7 8.7l-5.8 7.2l-7.2 5.8l-8.7 4.7l-10.7 3.5l-13.6 2.5l-18.7 1.5l-52.8 0.5l-52.8 -0.5l-18.7 -1.5l-13.6 -2.5l-10.7 -3.5l-8.7 -4.7l-7.2 -5.8l-5.8 -7.2l-4.7 -8.7l-3.5 -10.7l-2.5 -13.6l-1.5 -18.7l-0.5 -52.8l0.5 -52.8l1.5 -18.7l2.5 -13.6l3.5 -10.7l4.7 -8.7l5.8 -7.2l7.2 -5.8l8.7 -4.7l10.7 -3.5l13.6 -2.5l18.7 -1.5l52.8 -0.5l52.8 0.5l18.7 1.5l13.6 2.5l10.7 3.5l8.7 4.7l7.2 5.8l5.8 7.2l4.7 8.7l3.5 10.7l2.5 13.6l1.5 18.7z"/>
<path fill="#ff8300" d="M1317.4 520l-0.5 52.3l-1.5 18.5l-2.5 13.5l-3.5 10.6l-4.6 8.7l-5.8 7.1l-7.1 5.8l-8.7 4.6l-10.6 3.5l-13.5 2.5l-18.5 1.5l-52.3 0.5l-52.3 -0.5l-18.5 -1.5l-13.5 -2.5l-10.6 -3.5l-8.7 -4.6l-7.1 -5.8l-5.8 -7.1l-4.6 -8.7l-3.5 -10.6l-2.5 -13.5l-1.5 -18.5l-0.5 -52.3l0.5 -52.3l1.5 -18.5l2.5 -13.5l3.5 -10.6l4.6 -8.7l5.8 -7.1l7.1 -5.8l8.7 -4.6l10.6 -3.5l13.5 -2.5l18.5 -1.5l52.3 -0.5l52.3 0.5l18.5 1.5l13.5 2.5l10.6 3.5l8.7 4.6l7.1 5.8l5.8 7.1l4.6 8.7l3.5 10.6l2.5 13.5l1.5 18.5z"/>
<path fill="#ff7c00" d="M1316.3 520l-0.5 51.8l-1.5 18.4l-2.4 13.3l-3.5 10.6l-4.6 8.6l-5.8 7l-7 5.8l-8.6 4.6l-10.6 3.5l-13.3 2.4l-18.4 1.5l-51.8 0.5l-51.8 -0.5l-18.4 -1.5l-13.3 -2.4l-10.6 -3.5l-8.6 -4.6l-7 -5.8l-5.8 -7l-4.6 -8.6l-3.5 -10.6l-2.4 -13.3l-1.5 -18.4l-0.5 -51.8l0.5 -51.8l1.5 -18.4l2.4 -13.3l3.5 -10.6l4.6 -8.6l5.8 -7l7 -5.8l8.6 -4.6l10.6 -3.5l13.3 -2.4l18.4 -1.5l51.8 -0.5l51.8 0.5l18.4 1.5l13.3 2.4l10.6 3.5l8.6 4.6l7 5.8l5.8 7l4.6 8.6l3.5 10.6l2.4 13.3l1.5 18.4z"/>
<path fill="#ff7400" d="M1315.2 520l-0.5 51.3l-1.4 18.3l-2.5 13.2l-3.4 10.5l-4.6 8.5l-5.7 7l-7 5.7l-8.5 4.6l-10.5 3.4l-13.2 2.5l-18.3 1.4l-51.3 0.5l-51.3 -0.5l-18.3 -1.4l-13.2 -2.5l-10.5 -3.4l-8.5 -4.6l-7 -5.7l-5.7 -7l-4.6 -8.5l-3.4 -10.5l-2.5 -13.2l-1.4 -18.3l-0.5 -51.3l0.5 -51.3l1.4 -18.3l2.5 -13.2l3.4 -10.5l4.6 -8.5l5.7 -7l7 -5.7l8.5 -4.6l10.5 -3.4l13.2 -2.5l18.3 -1.4l51.3 -0.5l51.3 0.5l18.3 1.4l13.2 2.5l10.5 3.4l8.5 4.6l7 5.7l5.7 7l4.6 8.5l3.4 10.5l2.5 13.2l1.4 18.3z"/>
<path fill="#ff6c00" d="M1314.1 520l-0.4 50.9l-1.5 18.1l-2.4 13.1l-3.5 10.4l-4.5 8.4l-5.6 7l-7 5.6l-8.4 4.5l-10.4 3.5l-13.1 2.4l-18.1 1.5l-50.9 0.4l-50.9 -0.4l-18.1 -1.5l-13.1 -2.4l-10.4 -3.5l-8.4 -4.5l-7 -5.6l-5.6 -7l-4.5 -8.4l-3.5 -10.4l-2.4 -13.1l-1.5 -18.1l-0.4 -50.9l0.4 -50.9l1.5 -18.1l2.4 -13.1l3.5 -10.4l4.5 -8.4l5.6 -7l7 -5.6l8.4 -4.5l10.4 -3.5l13.1 -2.4l18.1 -1.5l50.9 -0.4l50.9 0.4l18.1 1.5l13.1 2.4l10.4 3.5l8.4 4.5l7 5.6l5.6 7l4.5 8.4l3.5 10.4l2.4 13.1l1.5 18.1z"/>
<path fill="#ff6400" d="M1313.1 520l-0.5 50.5l-1.4 17.9l-2.4 13l-3.5 10.3l-4.4 8.4l-5.6 6.9l-6.9 5.6l-8.4 4.4l-10.3 3.5l-13 2.4l-17.9 1.4l-50.5 0.5l-50.5 -0.5l-17.9 -1.4l-13 -2.4l-10.3 -3.5l-8.4 -4.4l-6.9 -5.6l-5.6 -6.9l-4.4 -8.4l-3.5 -10.3l-2.4 -13l-1.4 -17.9l-0.5 -50.5l0.5 -50.5l1.4 -17.9l2.4 -13l3.5 -10.3l4.4 -8.4l5.6 -6.9l6.9 -5.6l8.4 -4.4l10.3 -3.5l13 -2.4l17.9 -1.4l50.5 -0.5l50.5 0.5l17.9 1.4l13 2.4l10.3 3.5l8.4 4.4l6.9 5.6l5.6 6.9l4.4 8.4l3.5 10.3l2.4 13l1.4 17.9z"/>
<path fill="#ff5c00" d="M1312 520l-0.5 50.1l-1.4 17.7l-2.4 12.9l-3.3 10.2l-4.5 8.3l-5.5 6.9l-6.9 5.5l-8.3 4.5l-10.2 3.3l-12.9 2.4l-17.7 1.4l-50.1 0.5l-50.1 -0.5l-17.7 -1.4l-12.9 -2.4l-10.2 -3.3l-8.3 -4.5l-6.9 -5.5l-5.5 -6.9l-4.5 -8.3l-3.3 -10.2l-2.4 -12.9l-1.4 -17.7l-0.5 -50.1l0.5 -50.1l1.4 -17.7l2.4 -12.9l3.3 -10.2l4.5 -8.3l5.5 -6.9l6.9 -5.5l8.3 -4.5l10.2 -3.3l12.9 -2.4l17.7 -1.4l50.1 -0.5l50.1 0.5l17.7 1.4l12.9 2.4l10.2 3.3l8.3 4.5l6.9 5.5l5.5 6.9l4.5 8.3l3.3 10.2l2.4 12.9l1.4 17.7z"/>
<path fill="#ff5400" d="M1311 520l-0.5 49.6l-1.4 17.7l-2.4 12.7l-3.3 10.1l-4.4 8.3l-5.6 6.7l-6.7 5.6l-8.3 4.4l-10.1 3.3l-12.7 2.4l-17.7 1.4l-49.6 0.5l-49.6 -0.5l-17.7 -1.4l-12.7 -2.4l-10.1 -3.3l-8.3 -4.4l-6.7 -5.6l-5.6 -6.7l-4.4 -8.3l-3.3 -10.1l-2.4 -12.7l-1.4 -17.7l-0.5 -49.6l0.5 -49.6l1.4 -17.7l2.4 -12.7l3.3 -10.1l4.4 -8.3l5.6 -6.7l6.7 -5.6l8.3 -4.4l10.1 -3.3l12.7 -2.4l17.7 -1.4l49.6 -0.5l49.6 0.5l17.7 1.4l12.7 2.4l10.1 3.3l8.3 4.4l6.7 5.6l5.6 6.7l4.4 8.3l3.3 10.1l2.4 12.7l1.4 17.7z"/>
<path fill="#ff4c00" d="M1309.9 520l-0.5 49.2l-1.4 17.5l-2.3 12.6l-3.3 10.1l-4.4 8.1l-5.5 6.7l-6.7 5.5l-8.1 4.4l-10.1 3.3l-12.6 2.3l-17.5 1.4l-49.2 0.5l-49.2 -0.5l-17.5 -1.4l-12.6 -2.3l-10.1 -3.3l-8.1 -4.4l-6.7 -5.5l-5.5 -6.7l-4.4 -8.1l-3.3 -10.1l-2.3 -12.6l-1.4 -17.5l-0.5 -49.2l0.5 -49.2l1.4 -17.5l2.3 -12.6l3.3 -10.1l4.4 -8.1l5.5 -6.7l6.7 -5.5l8.1 -4.4l10.1 -3.3l12.6 -2.3l17.5 -1.4l49.2 -0.5l49.2 0.5l17.5 1.4l12.6 2.3l10.1 3.3l8.1 4.4l6.7 5.5l5.5 6.7l4.4 8.1l3.3 10.1l2.3 12.6l1.4 17.5z"/>
<path fill="#ff4400" d="M1308.8 520l-0.4 48.8l-1.4 17.3l-2.3 12.6l-3.3 9.9l-4.3 8.1l-5.5 6.6l-6.6 5.5l-8.1 4.3l-9.9 3.3l-12.6 2.3l-17.3 1.4l-48.8 0.4l-48.8 -0.4l-17.3 -1.4l-12.6 -2.3l-9.9 -3.3l-8.1 -4.3l-6.6 -5.5l-5.5 -6.6l-4.3 -8.1l-3.3 -9.9l-2.3 -12.6l-1.4 -17.3l-0.4 -48.8l0.4 -48.8l1.4 -17.3l2.3 -12.6l3.3 -9.9l4.3 -8.1l5.5 -6.6l6.6 -5.5l8.1 -4.3l9.9 -3.3l12.6 -2.3l17.3 -1.4l48.8 -0.4l48.8 0.4l17.3 1.4l12.6 2.3l9.9 3.3l8.1 4.3l6.6 5.5l5.5 6.6l4.3 8.1l3.3 9.9l2.3 12.6l1.4 17.3z"/>
<path fill="#ff3c00" d="M1307.8 520l-0.5 48.3l-1.4 17.2l-2.3 12.5l-3.2 9.8l-4.3 8l-5.4 6.6l-6.6 5.4l-8 4.3l-9.8 3.2l-12.5 2.3l-17.2 1.4l-48.3 0.5l-48.3 -0.5l-17.2 -1.4l-12.5 -2.3l-9.8 -3.2l-8 -4.3l-6.6 -5.4l-5.4 -6.6l-4.3 -8l-3.2 -9.8l-2.3 -12.5l-1.4 -17.2l-0.5 -48.3l0.5 -48.3l1.4 -17.2l2.3 -12.5l3.2 -9.8l4.3 -8l5.4 -6.6l6.6 -5.4l8 -4.3l9.8 -3.2l12.5 -2.3l17.2 -1.4l48.3 -0.5l48.3 0.5l17.2 1.4l12.5 2.3l9.8 3.2l8 4.3l6.6 5.4l5.4 6.6l4.3 8l3.2 9.8l2.3 12.5l1.4 17.2z"/>
<path fill="#ff3400" d="M1306.7 520l-0.5 47.9l-1.3 17l-2.3 12.3l-3.2 9.8l-4.3 7.9l-5.3 6.6l-6.6 5.3l-7.9 4.3l-9.8 3.2l-12.3 2.3l-17 1.3l-47.9 0.5l-47.9 -0.5l-17 -1.3l-12.3 -2.3l-9.8 -3.2l-7.9 -4.3l-6.6 -5.3l-5.3 -6.6l-4.3 -7.9l-3.2 -9.8l-2.3 -12.3l-1.3 -17l-0.5 -47.9l0.5 -47.9l1.3 -17l2.3 -12.3l3.2 -9.8l4.3 -7.9l5.3 -6.6l6.6 -5.3l7.9 -4.3l9.8 -3.2l12.3 -2.3l17 -1.3l47.9 -0.5l47.9 0.5l17 1.3l12.3 2.3l9.8 3.2l7.9 4.3l6.6 5.3l5.3 6.6l4.3 7.9l3.2 9.8l2.3 12.3l1.3 17z"/>
<path fill="#ff2c00" d="M1305.6 520l-0.5 47.4l-1.3 16.9l-2.3 12.2l-3.2 9.7l-4.2 7.9l-5.3 6.4l-6.4 5.3l-7.9 4.2l-9.7 3.2l-12.2 2.3l-16.9 1.3l-47.4 0.5l-47.4 -0.5l-16.9 -1.3l-12.2 -2.3l-9.7 -3.2l-7.9 -4.2l-6.4 -5.3l-5.3 -6.4l-4.2 -7.9l-3.2 -9.7l-2.3 -12.2l-1.3 -16.9l-0.5 -47.4l0.5 -47.4l1.3 -16.9l2.3 -12.2l3.2 -9.7l4.2 -7.9l5.3 -6.4l6.4 -5.3l7.9 -4.2l9.7 -3.2l12.2 -2.3l16.9 -1.3l47.4 -0.5l47.4 0.5l16.9 1.3l12.2 2.3l9.7 3.2l7.9 4.2l6.4 5.3l5.3 6.4l4.2 7.9l3.2 9.7l2.3 12.2l1.3 16.9z"/>
<path fill="#ff2400" d="M1304.5 520l-0.5 47l-1.3 16.7l-2.3 12.1l-3.1 9.6l-4.2 7.8l-5.2 6.4l-6.4 5.2l-7.8 4.2l-9.6 3.1l-12.1 2.3l-16.7 1.3l-47 0.5l-47 -0.5l-16.7 -1.3l-12.1 -2.3l-9.6 -3.1l-7.8 -4.2l-6.4 -5.2l-5.2 -6.4l-4.2 -7.8l-3.1 -9.6l-2.3 -12.1l-1.3 -16.7l-0.5 -47l0.5 -47l1.3 -16.7l2.3 -12.1l3.1 -9.6l4.2 -7.8l5.2 -6.4l6.4 -5.2l7.8 -4.2l9.6 -3.1l12.1 -2.3l16.7 -1.3l47 -0.5l47 0.5l16.7 1.3l12.1 2.3l9.6 3.1l7.8 4.2l6.4 5.2l5.2 6.4l4.2 7.8l3.1 9.6l2.3 12.1l1.3 16.7z"/>
<path fill="#ff1c00" d="M1303.3 520l-0.4 46.5l-1.3 16.6l-2.3 12l-3.1 9.4l-4.1 7.8l-5.2 6.3l-6.3 5.2l-7.8 4.1l-9.4 3.1l-12 2.3l-16.6 1.3l-46.5 0.4l-46.5 -0.4l-16.6 -1.3l-12 -2.3l-9.4 -3.1l-7.8 -4.1l-6.3 -5.2l-5.2 -6.3l-4.1 -7.8l-3.1 -9.4l-2.3 -12l-1.3 -16.6l-0.4 -46.5l0.4 -46.5l1.3 -16.6l2.3 -12l3.1 -9.4l4.1 -7.8l5.2 -6.3l6.3 -5.2l7.8 -4.1l9.4 -3.1l12 -2.3l16.6 -1.3l46.5 -0.4l46.5 0.4l16.6 1.3l12 2.3l9.4 3.1l7.8 4.1l6.3 5.2l5.2 6.3l4.1 7.8l3.1 9.4l2.3 12l1.3 16.6z"/>
<path fill="#ff1400" d="M1302.1 520l-0.4 46.1l-1.3 16.3l-2.2 11.9l-3.1 9.4l-4.1 7.6l-5.1 6.3l-6.3 5.1l-7.6 4.1l-9.4 3.1l-11.9 2.2l-16.3 1.3l-46.1 0.4l-46.1 -0.4l-16.3 -1.3l-11.9 -2.2l-9.4 -3.1l-7.6 -4.1l-6.3 -5.1l-5.1 -6.3l-4.1 -7.6l-3.1 -9.4l-2.2 -11.9l-1.3 -16.3l-0.4 -46.1l0.4 -46.1l1.3 -16.3l2.2 -11.9l3.1 -9.4l4.1 -7.6l5.1 -6.3l6.3 -5.1l7.6 -4.1l9.4 -3.1l11.9 -2.2l16.3 -1.3l46.1 -0.4l46.1 0.4l16.3 1.3l11.9 2.2l9.4 3.1l7.6 4.1l6.3 5.1l5.1 6.3l4.1 7.6l3.1 9.4l2.2 11.9l1.3 16.3z"/>
<path fill="#ff0c00" d="M1300.9 520l-0.4 45.6l-1.3 16.2l-2.2 11.7l-3.1 9.3l-4 7.5l-5.1 6.2l-6.2 5.1l-7.5 4l-9.3 3.1l-11.7 2.2l-16.2 1.3l-45.6 0.4l-45.6 -0.4l-16.2 -1.3l-11.7 -2.2l-9.3 -3.1l-7.5 -4l-6.2 -5.1l-5.1 -6.2l-4 -7.5l-3.1 -9.3l-2.2 -11.7l-1.3 -16.2l-0.4 -45.6l0.4 -45.6l1.3 -16.2l2.2 -11.7l3.1 -9.3l4 -7.5l5.1 -6.2l6.2 -5.1l7.5 -4l9.3 -3.1l11.7 -2.2l16.2 -1.3l45.6 -0.4l45.6 0.4l16.2 1.3l11.7 2.2l9.3 3.1l7.5 4l6.2 5.1l5.1 6.2l4 7.5l3.1 9.3l2.2 11.7l1.3 16.2z"/>
<path fill="#ff0400" d="M1299.6 520l-0.4 45l-1.3 16.1l-2.1 11.6l-3.1 9.1l-3.9 7.5l-5.1 6.1l-6.1 5.1l-7.5 3.9l-9.1 3.1l-11.6 2.1l-16.1 1.3l-45 0.4l-45 -0.4l-16.1 -1.3l-11.6 -2.1l-9.1 -3.1l-7.5 -3.9l-6.1 -5.1l-5.1 -6.1l-3.9 -7.5l-3.1 -9.1l-2.1 -11.6l-1.3 -16.1l-0.4 -45l0.4 -45l1.3 -16.1l2.1 -11.6l3.1 -9.1l3.9 -7.5l5.1 -6.1l6.1 -5.1l7.5 -3.9l9.1 -3.1l11.6 -2.1l16.1 -1.3l45 -0.4l45 0.4l16.1 1.3l11.6 2.1l9.1 3.1l7.5 3.9l6.1 5.1l5.1 6.1l3.9 7.5l3.1 9.1l2.1 11.6l1.3 16.1z"/>
<path fill="#fb0000" d="M1298.3 520l-0.4 44.5l-1.3 15.8l-2.1 11.5l-3 9l-4 7.4l-4.9 6.1l-6.1 4.9l-7.4 4l-9 3l-11.5 2.1l-15.8 1.3l-44.5 0.4l-44.5 -0.4l-15.8 -1.3l-11.5 -2.1l-9 -3l-7.4 -4l-6.1 -4.9l-4.9 -6.1l-4 -7.4l-3 -9l-2.1 -11.5l-1.3 -15.8l-0.4 -44.5l0.4 -44.5l1.3 -15.8l2.1 -11.5l3 -9l4 -7.4l4.9 -6.1l6.1 -4.9l7.4 -4l9 -3l11.5 -2.1l15.8 -1.3l44.5 -0.4l44.5 0.4l15.8 1.3l11.5 2.1l9 3l7.4 4l6.1 4.9l4.9 6.1l4 7.4l3 9l2.1 11.5l1.3 15.8z"/>
<path fill="#f30000" d="M1296.8 520l-0.4 44l-1.2 15.6l-2.1 11.3l-3 8.9l-3.9 7.3l-4.8 6l-6 4.8l-7.3 3.9l-8.9 3l-11.3 2.1l-15.6 1.2l-44 0.4l-44 -0.4l-15.6 -1.2l-11.3 -2.1l-8.9 -3l-7.3 -3.9l-6 -4.8l-4.8 -6l-3.9 -7.3l-3 -8.9l-2.1 -11.3l-1.2 -15.6l-0.4 -44l0.4 -44l1.2 -15.6l2.1 -11.3l3 -8.9l3.9 -7.3l4.8 -6l6 -4.8l7.3 -3.9l8.9 -3l11.3 -2.1l15.6 -1.2l44 -0.4l44 0.4l15.6 1.2l11.3 2.1l8.9 3l7.3 3.9l6 4.8l4.8 6l3.9 7.3l3 8.9l2.1 11.3l1.2 15.6z"/>
<path fill="#eb0000" d="M1295.2 520l-0.4 43.6l-1.2 15.3l-2 11.1l-2.9 8.8l-3.8 7.1l-4.8 5.9l-5.9 4.8l-7.1 3.8l-8.8 2.9l-11.1 2l-15.3 1.2l-43.6 0.4l-43.6 -0.4l-15.3 -1.2l-11.1 -2l-8.8 -2.9l-7.1 -3.8l-5.9 -4.8l-4.8 -5.9l-3.8 -7.1l-2.9 -8.8l-2 -11.1l-1.2 -15.3l-0.4 -43.6l0.4 -43.6l1.2 -15.3l2 -11.1l2.9 -8.8l3.8 -7.1l4.8 -5.9l5.9 -4.8l7.1 -3.8l8.8 -2.9l11.1 -2l15.3 -1.2l43.6 -0.4l43.6 0.4l15.3 1.2l11.1 2l8.8 2.9l7.1 3.8l5.9 4.8l4.8 5.9l3.8 7.1l2.9 8.8l2 11.1l1.2 15.3z"/>
<path fill="#e30000" d="M1293.6 520l-0.4 43.2l-1.2 15.1l-2 10.9l-2.8 8.6l-3.7 7l-4.7 5.7l-5.7 4.7l-7 3.7l-8.6 2.8l-10.9 2l-15.1 1.2l-43.2 0.4l-43.2 -0.4l-15.1 -1.2l-10.9 -2l-8.6 -2.8l-7 -3.7l-5.7 -4.7l-4.7 -5.7l-3.7 -7l-2.8 -8.6l-2 -10.9l-1.2 -15.1l-0.4 -43.2l0.4 -43.2l1.2 -15.1l2 -10.9l2.8 -8.6l3.7 -7l4.7 -5.7l5.7 -4.7l7 -3.7l8.6 -2.8l10.9 -2l15.1 -1.2l43.2 -0.4l43.2 0.4l15.1 1.2l10.9 2l8.6 2.8l7 3.7l5.7 4.7l4.7 5.7l3.7 7l2.8 8.6l2 10.9l1.2 15.1z"/>
<path fill="#db0000" d="M1292.1 520l-0.4 42.9l-1.1 14.9l-2 10.7l-2.8 8.4l-3.6 6.8l-4.6 5.6l-5.6 4.6l-6.8 3.6l-8.4 2.8l-10.7 2l-14.9 1.1l-42.9 0.4l-42.9 -0.4l-14.9 -1.1l-10.7 -2l-8.4 -2.8l-6.8 -3.6l-5.6 -4.6l-4.6 -5.6l-3.6 -6.8l-2.8 -8.4l-2 -10.7l-1.1 -14.9l-0.4 -42.9l0.4 -42.9l1.1 -14.9l2 -10.7l2.8 -8.4l3.6 -6.8l4.6 -5.6l5.6 -4.6l6.8 -3.6l8.4 -2.8l10.7 -2l14.9 -1.1l42.9 -0.4l42.9 0.4l14.9 1.1l10.7 2l8.4 2.8l6.8 3.6l5.6 4.6l4.6 5.6l3.6 6.8l2.8 8.4l2 10.7l1.1 14.9z"/>
<path fill="#d30000" d="M1290.7 520l-0.4 42.7l-1.1 14.6l-1.9 10.5l-2.7 8.2l-3.6 6.7l-4.5 5.5l-5.5 4.5l-6.7 3.6l-8.2 2.7l-10.5 1.9l-14.6 1.1l-42.7 0.4l-42.7 -0.4l-14.6 -1.1l-10.5 -1.9l-8.2 -2.7l-6.7 -3.6l-5.5 -4.5l-4.5 -5.5l-3.6 -6.7l-2.7 -8.2l-1.9 -10.5l-1.1 -14.6l-0.4 -42.7l0.4 -42.7l1.1 -14.6l1.9 -10.5l2.7 -8.2l3.6 -6.7l4.5 -5.5l5.5 -4.5l6.7 -3.6l8.2 -2.7l10.5 -1.9l14.6 -1.1l42.7 -0.4l42.7 0.4l14.6 1.1l10.5 1.9l8.2 2.7l6.7 3.6l5.5 4.5l4.5 5.5l3.6 6.7l2.7 8.2l1.9 10.5l1.1 14.6z"/>
<path fill="#cb0000" d="M1289.1 520l-0.4 42.4l-1.1 14.3l-1.8 10.3l-2.7 8.1l-3.4 6.5l-4.4 5.4l-5.4 4.4l-6.5 3.4l-8.1 2.7l-10.3 1.8l-14.3 1.1l-42.4 0.4l-42.4 -0.4l-14.3 -1.1l-10.3 -1.8l-8.1 -2.7l-6.5 -3.4l-5.4 -4.4l-4.4 -5.4l-3.4 -6.5l-2.7 -8.1l-1.8 -10.3l-1.1 -14.3l-0.4 -42.4l0.4 -42.4l1.1 -14.3l1.8 -10.3l2.7 -8.1l3.4 -6.5l4.4 -5.4l5.4 -4.4l6.5 -3.4l8.1 -2.7l10.3 -1.8l14.3 -1.1l42.4 -0.4l42.4 0.4l14.3 1.1l10.3 1.8l8.1 2.7l6.5 3.4l5.4 4.4l4.4 5.4l3.4 6.5l2.7 8.1l1.8 10.3l1.1 14.3z"/>
<path fill="#c30000" d="M1286.9 520l-0.4 41.8l-1.1 14l-1.8 10l-2.5 7.8l-3.4 6.4l-4.2 5.2l-5.2 4.2l-6.4 3.4l-7.8 2.5l-10 1.8l-14 1.1l-41.8 0.4l-41.8 -0.4l-14 -1.1l-10 -1.8l-7.8 -2.5l-6.4 -3.4l-5.2 -4.2l-4.2 -5.2l-3.4 -6.4l-2.5 -7.8l-1.8 -10l-1.1 -14l-0.4 -41.8l0.4 -41.8l1.1 -14l1.8 -10l2.5 -7.8l3.4 -6.4l4.2 -5.2l5.2 -4.2l6.4 -3.4l7.8 -2.5l10 -1.8l14 -1.1l41.8 -0.4l41.8 0.4l14 1.1l10 1.8l7.8 2.5l6.4 3.4l5.2 4.2l4.2 5.2l3.4 6.4l2.5 7.8l1.8 10l1.1 14z"/>
<path fill="#bb0000" d="M1284.1 520l-0.3 40.9l-1.1 13.5l-1.7 9.7l-2.5 7.6l-3.2 6.1l-4.1 5.1l-5.1 4.1l-6.1 3.2l-7.6 2.5l-9.7 1.7l-13.5 1.1l-40.9 0.3l-40.9 -0.3l-13.5 -1.1l-9.7 -1.7l-7.6 -2.5l-6.1 -3.2l-5.1 -4.1l-4.1 -5.1l-3.2 -6.1l-2.5 -7.6l-1.7 -9.7l-1.1 -13.5l-0.3 -40.9l0.3 -40.9l1.1 -13.5l1.7 -9.7l2.5 -7.6l3.2 -6.1l4.1 -5.1l5.1 -4.1l6.1 -3.2l7.6 -2.5l9.7 -1.7l13.5 -1.1l40.9 -0.3l40.9 0.3l13.5 1.1l9.7 1.7l7.6 2.5l6.1 3.2l5.1 4.1l4.1 5.1l3.2 6.1l2.5 7.6l1.7 9.7l1.1 13.5z"/>
<path fill="#b30000" d="M1280.7 520l-0.3 39.5l-1 13.1l-1.7 9.3l-2.4 7.3l-3.1 5.9l-3.9 4.9l-4.9 3.9l-5.9 3.1l-7.3 2.4l-9.3 1.7l-13.1 1l-39.5 0.3l-39.5 -0.3l-13.1 -1l-9.3 -1.7l-7.3 -2.4l-5.9 -3.1l-4.9 -3.9l-3.9 -4.9l-3.1 -5.9l-2.4 -7.3l-1.7 -9.3l-1 -13.1l-0.3 -39.5l0.3 -39.5l1 -13.1l1.7 -9.3l2.4 -7.3l3.1 -5.9l3.9 -4.9l4.9 -3.9l5.9 -3.1l7.3 -2.4l9.3 -1.7l13.1 -1l39.5 -0.3l39.5 0.3l13.1 1l9.3 1.7l7.3 2.4l5.9 3.1l4.9 3.9l3.9 4.9l3.1 5.9l2.4 7.3l1.7 9.3l1 13.1z"/>
<path fill="#ab0000" d="M1276.6 520l-0.3 37.6l-1 12.5l-1.6 8.9l-2.3 7l-3 5.7l-3.8 4.6l-4.6 3.8l-5.7 3l-7 2.3l-8.9 1.6l-12.5 1l-37.6 0.3l-37.6 -0.3l-12.5 -1l-8.9 -1.6l-7 -2.3l-5.7 -3l-4.6 -3.8l-3.8 -4.6l-3 -5.7l-2.3 -7l-1.6 -8.9l-1 -12.5l-0.3 -37.6l0.3 -37.6l1 -12.5l1.6 -8.9l2.3 -7l3 -5.7l3.8 -4.6l4.6 -3.8l5.7 -3l7 -2.3l8.9 -1.6l12.5 -1l37.6 -0.3l37.6 0.3l12.5 1l8.9 1.6l7 2.3l5.7 3l4.6 3.8l3.8 4.6l3 5.7l2.3 7l1.6 8.9l1 12.5z"/>
<path fill="#a30000" d="M1271.9 520l-0.3 33.9l-1 12l-1.6 8.7l-2.2 6.9l-3 5.6l-3.8 4.6l-4.6 3.8l-5.6 3l-6.9 2.2l-8.7 1.6l-12 1l-33.9 0.3l-33.9 -0.3l-12 -1l-8.7 -1.6l-6.9 -2.2l-5.6 -3l-4.6 -3.8l-3.8 -4.6l-3 -5.6l-2.2 -6.9l-1.6 -8.7l-1 -12l-0.3 -33.9l0.3 -33.9l1 -12l1.6 -8.7l2.2 -6.9l3 -5.6l3.8 -4.6l4.6 -3.8l5.6 -3l6.9 -2.2l8.7 -1.6l12 -1l33.9 -0.3l33.9 0.3l12 1l8.7 1.6l6.9 2.2l5.6 3l4.6 3.8l3.8 4.6l3 5.6l2.2 6.9l1.6 8.7l1 12z"/>
<path fill="#9b0000" d="M1265.8 520l-0.4 28.8l-0.9 11.3l-1.7 8.4l-2.3 6.8l-3 5.5l-3.8 4.6l-4.6 3.8l-5.5 3l-6.8 2.3l-8.4 1.7l-11.3 0.9l-28.8 0.4l-28.8 -0.4l-11.3 -0.9l-8.4 -1.7l-6.8 -2.3l-5.5 -3l-4.6 -3.8l-3.8 -4.6l-3 -5.5l-2.3 -6.8l-1.7 -8.4l-0.9 -11.3l-0.4 -28.8l0.4 -28.8l0.9 -11.3l1.7 -8.4l2.3 -6.8l3 -5.5l3.8 -4.6l4.6 -3.8l5.5 -3l6.8 -2.3l8.4 -1.7l11.3 -0.9l28.8 -0.4l28.8 0.4l11.3 0.9l8.4 1.7l6.8 2.3l5.5 3l4.6 3.8l3.8 4.6l3 5.5l2.3 6.8l1.7 8.4l0.9 11.3z"/>
<path fill="#930000" d="M1254.7 520l-0.3 22.3l-0.9 9.9l-1.6 7.5l-2.1 6.1l-2.8 5.1l-3.6 4.2l-4.2 3.6l-5.1 2.8l-6.1 2.1l-7.5 1.6l-9.9 0.9l-22.3 0.3l-22.3 -0.3l-9.9 -0.9l-7.5 -1.6l-6.1 -2.1l-5.1 -2.8l-4.2 -3.6l-3.6 -4.2l-2.8 -5.1l-2.1 -6.1l-1.6 -7.5l-0.9 -9.9l-0.3 -22.3l0.3 -22.3l0.9 -9.9l1.6 -7.5l2.1 -6.1l2.8 -5.1l3.6 -4.2l4.2 -3.6l5.1 -2.8l6.1 -2.1l7.5 -1.6l9.9 -0.9l22.3 -0.3l22.3 0.3l9.9 0.9l7.5 1.6l6.1 2.1l5.1 2.8l4.2 3.6l3.6 4.2l2.8 5.1l2.1 6.1l1.6 7.5l0.9 9.9z"/>
<path fill="#8b0000" d="M1236.2 520l-0.3 14.3l-0.7 7.2l-1.2 5.6l-1.7 4.7l-2.2 3.9l-2.8 3.3l-3.3 2.8l-3.9 2.2l-4.7 1.7l-5.6 1.2l-7.2 0.7l-14.3 0.3l-14.3 -0.3l-7.2 -0.7l-5.6 -1.2l-4.7 -1.7l-3.9 -2.2l-3.3 -2.8l-2.8 -3.3l-2.2 -3.9l-1.7 -4.7l-1.2 -5.6l-0.7 -7.2l-0.3 -14.3l0.3 -14.3l0.7 -7.2l1.2 -5.6l1.7 -4.7l2.2 -3.9l2.8 -3.3l3.3 -2.8l3.9 -2.2l4.7 -1.7l5.6 -1.2l7.2 -0.7l14.3 -0.3l14.3 0.3l7.2 0.7l5.6 1.2l4.7 1.7l3.9 2.2l3.3 2.8l2.8 3.3l2.2 3.9l1.7 4.7l1.2 5.6l0.7 7.2z"/>
</g></g>
<defs><linearGradient id="gc" x1="0" y1="0" x2="0" y2="1"><stop offset="0.0000" stop-color="#870000"/><stop offset="0.0156" stop-color="#870000"/><stop offset="0.0156" stop-color="#970000"/><stop offset="0.0312" stop-color="#970000"/><stop offset="0.0312" stop-color="#a70000"/><stop offset="0.0469" stop-color="#a70000"/><stop offset="0.0469" stop-color="#b70000"/><stop offset="0.0625" stop-color="#b70000"/><stop offset="0.0625" stop-color="#c70000"/><stop offset="0.0781" stop-color="#c70000"/><stop offset="0.0781" stop-color="#d70000"/><stop offset="0.0938" stop-color="#d70000"/><stop offset="0.0938" stop-color="#e70000"/><stop offset="0.1094" stop-color="#e70000"/><stop offset="0.1094" stop-color="#f70000"/><stop offset="0.1250" stop-color="#f70000"/><stop offset="0.1250" stop-color="#ff0800"/><stop offset="0.1406" stop-color="#ff0800"/><stop offset="0.1406" stop-color="#ff1800"/><stop offset="0.1562" stop-color="#ff1800"/><stop offset="0.1562" stop-color="#ff2800"/><stop offset="0.1719" stop-color="#ff2800"/><stop offset="0.1719" stop-color="#ff3800"/><stop offset="0.1875" stop-color="#ff3800"/><stop offset="0.1875" stop-color="#ff4800"/><stop offset="0.2031" stop-color="#ff4800"/><stop offset="0.2031" stop-color="#ff5800"/><stop offset="0.2188" stop-color="#ff5800"/><stop offset="0.2188" stop-color="#ff6800"/><stop offset="0.2344" stop-color="#ff6800"/><stop offset="0.2344" stop-color="#ff7800"/><stop offset="0.2500" stop-color="#ff7800"/><stop offset="0.2500" stop-color="#ff8700"/><stop offset="0.2656" stop-color="#ff8700"/><stop offset="0.2656" stop-color="#ff9700"/><stop offset="0.2812" stop-color="#ff9700"/><stop offset="0.2812" stop-color="#ffa700"/><stop offset="0.2969" stop-color="#ffa700"/><stop offset="0.2969" stop-color="#ffb700"/><stop offset="0.3125" stop-color="#ffb700"/><stop offset="0.3125" stop-color="#ffc700"/><stop offset="0.3281" stop-color="#ffc700"/><stop offset="0.3281" stop-color="#ffd700"/><stop offset="0.3438" stop-color="#ffd700"/><stop offset="0.3438" stop-color="#ffe700"/><stop offset="0.3594" stop-color="#ffe700"/><stop offset="0.3594" stop-color="#fff700"/><stop offset="0.3750" stop-color="#fff700"/><stop offset="0.3750" stop-color="#f7ff08"/><stop offset="0.3906" stop-color="#f7ff08"/><stop offset="0.3906" stop-color="#e7ff18"/><stop offset="0.4062" stop-color="#e7ff18"/><stop offset="0.4062" stop-color="#d7ff28"/><stop offset="0.4219" stop-color="#d7ff28"/><stop offset="0.4219" stop-color="#c7ff38"/><stop offset="0.4375" stop-color="#c7ff38"/><stop offset="0.4375" stop-color="#b7ff48"/><stop offset="0.4531" stop-color="#b7ff48"/><stop offset="0.4531" stop-color="#a7ff58"/><stop offset="0.4688" stop-color="#a7ff58"/><stop offset="0.4688" stop-color="#97ff68"/><stop offset="0.4844" stop-color="#97ff68"/><stop offset="0.4844" stop-color="#87ff78"/><stop offset="0.5000" stop-color="#87ff78"/><stop offset="0.5000" stop-color="#78ff87"/><stop offset="0.5156" stop-color="#78ff87"/><stop offset="0.5156" stop-color="#68ff97"/><stop offset="0.5312" stop-color="#68ff97"/><stop offset="0.5312" stop-color="#58ffa7"/><stop offset="0.5469" stop-color="#58ffa7"/><stop offset="0.5469" stop-color="#48ffb7"/><stop offset="0.5625" stop-color="#48ffb7"/><stop offset="0.5625" stop-color="#38ffc7"/><stop offset="0.5781" stop-color="#38ffc7"/><stop offset="0.5781" stop-color="#28ffd7"/><stop offset="0.5938" stop-color="#28ffd7"/><stop offset="0.5938" stop-color="#18ffe7"/><stop offset="0.6094" stop-color="#18ffe7"/><stop offset="0.6094" stop-color="#08fff7"/><stop offset="0.6250" stop-color="#08fff7"/><stop offset="0.6250" stop-color="#00f7ff"/><stop offset="0.6406" stop-color="#00f7ff"/><stop offset="0.6406" stop-color="#00e7ff"/><stop offset="0.6562" stop-color="#00e7ff"/><stop offset="0.6562" stop-color="#00d7ff"/><stop offset="0.6719" stop-color="#00d7ff"/><stop offset="0.6719" stop-color="#00c7ff"/><stop offset="0.6875" stop-color="#00c7ff"/><stop offset="0.6875" stop-color="#00b7ff"/><stop offset="0.7031" stop-color="#00b7ff"/><stop offset="0.7031" stop-color="#00a7ff"/><stop offset="0.7188" stop-color="#00a7ff"/><stop offset="0.7188" stop-color="#0097ff"/><stop offset="0.7344" stop-color="#0097ff"/><stop offset="0.7344" stop-color="#0087ff"/><stop offset="0.7500" stop-color="#0087ff"/><stop offset="0.7500" stop-color="#0078ff"/><stop offset="0.7656" stop-color="#0078ff"/><stop offset="0.7656" stop-color="#0068ff"/><stop offset="0.7812" stop-color="#0068ff"/><stop offset="0.7812" stop-color="#0058ff"/><stop offset="0.7969" stop-color="#0058ff"/><stop offset="0.7969" stop-color="#0048ff"/><stop offset="0.8125" stop-color="#0048ff"/><stop offset="0.8125" stop-color="#0038ff"/><stop offset="0.8281" stop-color="#0038ff"/><stop offset="0.8281" stop-color="#0028ff"/><stop offset="0.8438" stop-color="#0028ff"/><stop offset="0.8438" stop-color="#0018ff"/><stop offset="0.8594" stop-color="#0018ff"/><stop offset="0.8594" stop-color="#0008ff"/><stop offset="0.8750" stop-color="#0008ff"/><stop offset="0.8750" stop-color="#0000f7"/><stop offset="0.8906" stop-color="#0000f7"/><stop offset="0.8906" stop-color="#0000e7"/><stop offset="0.9062" stop-color="#0000e7"/><stop offset="0.9062" stop-color="#0000d7"/><stop offset="0.9219" stop-color="#0000d7"/><stop offset="0.9219" stop-color="#0000c7"/><stop offset="0.9375" stop-color="#0000c7"/><stop offset="0.9375" stop-color="#0000b7"/><stop offset="0.9531" stop-color="#0000b7"/><stop offset="0.9531" stop-color="#0000a7"/><stop offset="0.9688" stop-color="#0000a7"/><stop offset="0.9688" stop-color="#000097"/><stop offset="0.9844" stop-color="#000097"/><stop offset="0.9844" stop-color="#000087"/><stop offset="1.0000" stop-color="#000087"/></linearGradient></defs>
<rect x="3.5" y="312.5" width="25" height="423.5" fill="url(#gc)" stroke="#2a1a1a" stroke-width="0.8"/>
<g font-family="'Liberation Sans','DejaVu Sans',sans-serif" font-size="16.5" fill="#333">
<text x="33" y="323.4">100</text>
<text x="33" y="365.2">90</text>
<text x="33" y="407.1">80</text>
<text x="33" y="448.9">70</text>
<text x="33" y="490.8">60</text>
<text x="33" y="532.6">50</text>
<text x="33" y="574.5">40</text>
<text x="33" y="616.3">30</text>
<text x="33" y="658.2">20</text>
<text x="33" y="700">10</text>
</g>
<path d="M3.5 317.4h4 M28.5 317.4h-4M3.5 359.2h4 M28.5 359.2h-4M3.5 401.1h4 M28.5 401.1h-4M3.5 442.9h4 M28.5 442.9h-4M3.5 484.8h4 M28.5 484.8h-4M3.5 526.6h4 M28.5 526.6h-4M3.5 568.5h4 M28.5 568.5h-4M3.5 610.3h4 M28.5 610.3h-4M3.5 652.2h4 M28.5 652.2h-4M3.5 694h4 M28.5 694h-4" stroke="#111" stroke-width="1.2" fill="none"/>
<rect x="638.2" y="327.4" width="194.2" height="414" fill="#fff" stroke="#707070" stroke-width="1.3"/>
<path d="M638.2 386.5h4.5 M832.4 386.5h-4.5M638.2 445.7h4.5 M832.4 445.7h-4.5M638.2 504.8h4.5 M832.4 504.8h-4.5M638.2 564h4.5 M832.4 564h-4.5M638.2 623.1h4.5 M832.4 623.1h-4.5M638.2 682.3h4.5 M832.4 682.3h-4.5M677 327.4v4.5 M677 741.4v-4.5M715.9 327.4v4.5 M715.9 741.4v-4.5M754.7 327.4v4.5 M754.7 741.4v-4.5M793.6 327.4v4.5 M793.6 741.4v-4.5" stroke="#707070" stroke-width="1.1" fill="none"/>
<path d="M663.6 330.4h0M664.7 333.3h0M666.1 336.3h0M667.7 339.2h0M669.6 342.2h0M671.7 345.1h0M674 348.1h0M676.4 351.1h0M679.2 354h0M682.5 357h0M686.2 359.9h0M690 362.9h0M693.8 365.8h0M697.7 368.8h0M702 371.8h0M707.1 374.7h0M712.4 377.7h0M717.6 380.6h0M722.3 383.6h0M727.1 386.5h0M732.6 389.5h0M739 392.5h0M745.6 395.4h0M751.6 398.4h0M757.2 401.3h0M762.7 404.3h0M768 407.2h0M773.1 410.2h0M778.2 413.2h0M783.4 416.1h0M788.7 419.1h0M793.5 422h0M797.7 425h0M801.6 427.9h0M805.2 430.9h0M808.8 433.9h0M812.3 436.8h0M815.4 439.8h0M818.2 442.7h0M820.7 445.7h0M822.7 448.6h0M824.2 451.6h0M825.5 454.6h0M826.8 457.5h0M828.1 460.5h0M829.4 463.4h0M830.4 466.4h0M830.8 469.3h0M831.1 472.3h0M831.4 475.3h0M831.6 478.2h0M831.7 481.2h0M831.9 484.1h0M832 487.1h0M832.1 490h0M832.2 493h0M832.3 496h0M832.3 498.9h0M832.4 501.9h0M832.4 504.8h0M832.3 507.8h0M832 510.7h0M831.6 513.7h0M831.3 516.7h0M831.2 519.6h0M831.4 522.6h0M831.7 525.5h0M832 528.5h0M832.3 531.4h0M832.4 534.4h0M832.4 537.4h0M832.3 540.3h0M832.3 543.3h0M832.2 546.2h0M832.1 549.2h0M831.9 552.1h0M831.8 555.1h0M831.6 558.1h0M831.4 561h0M831.2 564h0M831 566.9h0M830.6 569.9h0M830.2 572.8h0M829.7 575.8h0M829.2 578.8h0M828.7 581.7h0M828.1 584.7h0M827.4 587.6h0M826.6 590.6h0M825.7 593.5h0M824.5 596.5h0M823.2 599.5h0M821.7 602.4h0M820.1 605.4h0M818.5 608.3h0M816.7 611.3h0M814.8 614.2h0M812.8 617.2h0M810.6 620.2h0M808.3 623.1h0M805.8 626.1h0M803.1 629h0M800 632h0M796.3 634.9h0M792.2 637.9h0M788 640.9h0M783.5 643.8h0M778.8 646.8h0M774 649.7h0M769.3 652.7h0M764.3 655.6h0M758.5 658.6h0M751.9 661.6h0M745.6 664.5h0M740.2 667.5h0M735.2 670.4h0M730.3 673.4h0M724.9 676.3h0M719.5 679.3h0M714.2 682.3h0M709.1 685.2h0M704.2 688.2h0M699.6 691.1h0M695.3 694.1h0M691.3 697h0M687.7 700h0M684.4 703h0M681.5 705.9h0M678.9 708.9h0M676.5 711.8h0M674.4 714.8h0M672.3 717.7h0M670.3 720.7h0M668.4 723.7h0M666.7 726.6h0M665.2 729.6h0M663.8 732.5h0M662.6 735.5h0M661.5 738.4h0" stroke="#0000ff" stroke-width="4.0" stroke-linecap="round" fill="none"/>
<g font-family="'DejaVu Sans','Liberation Sans',sans-serif" font-size="15.0" fill="#2a2a2a">
<text transform="translate(618.3 327.4) rotate(90)" text-anchor="middle">0</text>
<text transform="translate(618.3 386.5) rotate(90)" text-anchor="middle">20</text>
<text transform="translate(618.3 445.7) rotate(90)" text-anchor="middle">40</text>
<text transform="translate(618.3 504.8) rotate(90)" text-anchor="middle">60</text>
<text transform="translate(618.3 564) rotate(90)" text-anchor="middle">80</text>
<text transform="translate(618.3 623.1) rotate(90)" text-anchor="middle">100</text>
<text transform="translate(618.3 682.3) rotate(90)" text-anchor="middle">120</text>
<text transform="translate(618.3 741.4) rotate(90)" text-anchor="middle">140</text>
<text transform="translate(632.7 320.4) rotate(90)" text-anchor="end">0</text>
<text transform="translate(671.6 320.4) rotate(90)" text-anchor="end">0.2</text>
<text transform="translate(710.4 320.4) rotate(90)" text-anchor="end">0.4</text>
<text transform="translate(749.3 320.4) rotate(90)" text-anchor="end">0.6</text>
<text transform="translate(788.1 320.4) rotate(90)" text-anchor="end">0.8</text>
<text transform="translate(826.9 320.4) rotate(90)" text-anchor="end">1</text>
</g>
<rect x="1494.2" y="323.7" width="194.4" height="415.1" fill="#fff" stroke="#707070" stroke-width="1.3"/>
<path d="M1494.2 383h4.5 M1688.6 383h-4.5M1494.2 442.3h4.5 M1688.6 442.3h-4.5M1494.2 501.6h4.5 M1688.6 501.6h-4.5M1494.2 560.9h4.5 M1688.6 560.9h-4.5M1494.2 620.2h4.5 M1688.6 620.2h-4.5M1494.2 679.5h4.5 M1688.6 679.5h-4.5M1533.1 323.7v4.5 M1533.1 738.8v-4.5M1572 323.7v4.5 M1572 738.8v-4.5M1610.8 323.7v4.5 M1610.8 738.8v-4.5M1649.7 323.7v4.5 M1649.7 738.8v-4.5" stroke="#707070" stroke-width="1.1" fill="none"/>
<path d="M1505.5 326.7h0M1507.3 329.6h0M1509.4 332.6h0M1511.6 335.6h0M1514 338.5h0M1516.7 341.5h0M1519.4 344.5h0M1522.3 347.4h0M1525.5 350.4h0M1529.2 353.3h0M1533.7 356.3h0M1538.6 359.3h0M1543.6 362.2h0M1549 365.2h0M1554.5 368.2h0M1560.1 371.1h0M1565.9 374.1h0M1571.9 377.1h0M1578.5 380h0M1585.5 383h0M1592.4 386h0M1599.1 388.9h0M1605.7 391.9h0M1612.1 394.9h0M1618.1 397.8h0M1623.8 400.8h0M1629.4 403.8h0M1634.9 406.7h0M1640.3 409.7h0M1645.3 412.6h0M1650.1 415.6h0M1654.5 418.6h0M1658.4 421.5h0M1661.9 424.5h0M1665.1 427.5h0M1668.2 430.4h0M1671 433.4h0M1673.4 436.4h0M1675.3 439.3h0M1676.8 442.3h0M1678.1 445.3h0M1679.3 448.2h0M1680.5 451.2h0M1681.4 454.2h0M1682.3 457.1h0M1683 460.1h0M1683.6 463.1h0M1684.1 466h0M1684.6 469h0M1685.1 471.9h0M1685.4 474.9h0M1685.8 477.9h0M1686.1 480.8h0M1686.3 483.8h0M1686.6 486.8h0M1686.8 489.7h0M1687 492.7h0M1687.2 495.7h0M1687.3 498.6h0M1687.5 501.6h0M1687.7 504.6h0M1687.8 507.5h0M1687.9 510.5h0M1688 513.5h0M1688.1 516.4h0M1688.2 519.4h0M1688.2 522.4h0M1688.3 525.3h0M1688.3 528.3h0M1688.3 531.2h0M1688.3 534.2h0M1688.3 537.2h0M1688.3 540.1h0M1688.2 543.1h0M1688.2 546.1h0M1688.1 549h0M1688.1 552h0M1688 555h0M1687.9 557.9h0M1687.8 560.9h0M1687.7 563.9h0M1687.4 566.8h0M1687 569.8h0M1686.6 572.8h0M1686.2 575.7h0M1685.6 578.7h0M1685 581.7h0M1684.2 584.6h0M1683.4 587.6h0M1682.4 590.5h0M1681.2 593.5h0M1680 596.5h0M1678.7 599.4h0M1677.5 602.4h0M1676.1 605.4h0M1674.4 608.3h0M1672.2 611.3h0M1669.2 614.3h0M1665.8 617.2h0M1662 620.2h0M1657.6 623.2h0M1653.2 626.1h0M1649.3 629.1h0M1645.3 632.1h0M1640.9 635h0M1635.6 638h0M1629.8 641h0M1623.6 643.9h0M1616.6 646.9h0M1609.4 649.8h0M1602.6 652.8h0M1596.2 655.8h0M1589.9 658.7h0M1583.6 661.7h0M1577.2 664.7h0M1570.8 667.6h0M1564.3 670.6h0M1557.6 673.6h0M1551.2 676.5h0M1545.3 679.5h0M1539.8 682.5h0M1534.9 685.4h0M1530.8 688.4h0M1527.2 691.4h0M1523.9 694.3h0M1520.9 697.3h0M1518.1 700.3h0M1515.5 703.2h0M1513.1 706.2h0M1510.8 709.1h0M1508.8 712.1h0" stroke="#0000ff" stroke-width="4.0" stroke-linecap="round" fill="none"/>
<g font-family="'DejaVu Sans','Liberation Sans',sans-serif" font-size="15.0" fill="#2a2a2a">
<text transform="translate(1474.3 323.7) rotate(90)" text-anchor="middle">0</text>
<text transform="translate(1474.3 383) rotate(90)" text-anchor="middle">20</text>
<text transform="translate(1474.3 442.3) rotate(90)" text-anchor="middle">40</text>
<text transform="translate(1474.3 501.6) rotate(90)" text-anchor="middle">60</text>
<text transform="translate(1474.3 560.9) rotate(90)" text-anchor="middle">80</text>
<text transform="translate(1474.3 620.2) rotate(90)" text-anchor="middle">100</text>
<text transform="translate(1474.3 679.5) rotate(90)" text-anchor="middle">120</text>
<text transform="translate(1474.3 738.8) rotate(90)" text-anchor="middle">140</text>
<text transform="translate(1488.7 316.7) rotate(90)" text-anchor="end">0</text>
<text transform="translate(1527.6 316.7) rotate(90)" text-anchor="end">0.2</text>
<text transform="translate(1566.5 316.7) rotate(90)" text-anchor="end">0.4</text>
<text transform="translate(1605.4 316.7) rotate(90)" text-anchor="end">0.6</text>
<text transform="translate(1644.3 316.7) rotate(90)" text-anchor="end">0.8</text>
<text transform="translate(1683.1 316.7) rotate(90)" text-anchor="end">1</text>
</g>
<text x="245.5" y="18.1" font-family="'Liberation Serif','DejaVu Serif',serif" font-size="21.5" font-weight="bold" fill="#000" text-anchor="start" textLength="185.5" lengthAdjust="spacingAndGlyphs">X-horizontal profile</text>
<text x="1094" y="19.1" font-family="'Liberation Serif','DejaVu Serif',serif" font-size="21.5" font-weight="bold" fill="#000" text-anchor="start" textLength="185.3" lengthAdjust="spacingAndGlyphs">X-horizontal profile</text>
<text x="258" y="267.2" font-family="'Liberation Serif','DejaVu Serif',serif" font-size="21.5" font-weight="bold" fill="#000" text-anchor="start" textLength="159.5" lengthAdjust="spacingAndGlyphs">Number of pixels</text>
<text x="1106" y="268.6" font-family="'Liberation Serif','DejaVu Serif',serif" font-size="21.5" font-weight="bold" fill="#000" text-anchor="start" textLength="160" lengthAdjust="spacingAndGlyphs">Number of pixels</text>
<text transform="translate(80.4 190) rotate(-90)" font-family="'Liberation Serif','DejaVu Serif',serif" font-size="21.5" font-weight="bold" fill="#000" text-anchor="start" textLength="126.3" lengthAdjust="spacingAndGlyphs">Relative dose</text>
<text transform="translate(918.3 191) rotate(-90)" font-family="'Liberation Serif','DejaVu Serif',serif" font-size="21.5" font-weight="bold" fill="#000" text-anchor="start" textLength="126.3" lengthAdjust="spacingAndGlyphs">Relative dose</text>
<text x="672.4" y="284.1" font-family="'Liberation Serif','DejaVu Serif',serif" font-size="21.5" font-weight="bold" fill="#000" text-anchor="start" textLength="127.1" lengthAdjust="spacingAndGlyphs">Relative dose</text>
<text x="1526.2" y="282.6" font-family="'Liberation Serif','DejaVu Serif',serif" font-size="21.5" font-weight="bold" fill="#000" text-anchor="start" textLength="127.3" lengthAdjust="spacingAndGlyphs">Relative dose</text>
<text transform="translate(590.5 454.3) rotate(90)" font-family="'Liberation Serif','DejaVu Serif',serif" font-size="21.5" font-weight="bold" fill="#000" text-anchor="start" textLength="160.4" lengthAdjust="spacingAndGlyphs">Number of pixels</text>
<text transform="translate(1445.2 447.4) rotate(90)" font-family="'Liberation Serif','DejaVu Serif',serif" font-size="21.5" font-weight="bold" fill="#000" text-anchor="start" textLength="160.4" lengthAdjust="spacingAndGlyphs">Number of pixels</text>
<text transform="translate(848.4 453.5) rotate(90)" font-family="'Liberation Serif','DejaVu Serif',serif" font-size="21.5" font-weight="bold" fill="#000" text-anchor="start" textLength="161.2" lengthAdjust="spacingAndGlyphs">Y-vertical profile</text>
<text transform="translate(1703.1 452.7) rotate(90)" font-family="'Liberation Serif','DejaVu Serif',serif" font-size="21.5" font-weight="bold" fill="#000" text-anchor="start" textLength="161.1" lengthAdjust="spacingAndGlyphs">Y-vertical profile</text>
<text x="706.5" y="139.1" font-family="'Liberation Sans','DejaVu Sans',sans-serif" font-size="31" font-weight="normal" fill="#000" text-anchor="start" textLength="34" lengthAdjust="spacingAndGlyphs">(a)</text>
<text x="1569.3" y="138.8" font-family="'Liberation Sans','DejaVu Sans',sans-serif" font-size="31" font-weight="normal" fill="#000" text-anchor="start" textLength="36" lengthAdjust="spacingAndGlyphs">(b)</text>
<text transform="translate(59.3 448.4) rotate(90)" font-family="'Liberation Sans','DejaVu Sans',sans-serif" font-size="18" font-weight="bold" fill="#111" text-anchor="start" textLength="102.2" lengthAdjust="spacingAndGlyphs">Percent dose</text>
</svg>
</body>
</html>
